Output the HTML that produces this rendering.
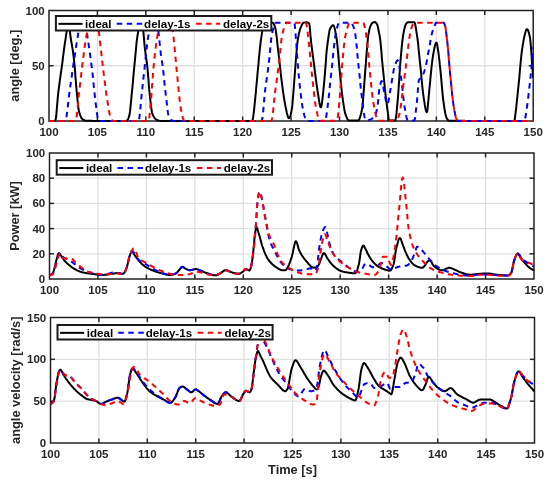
<!DOCTYPE html>
<html><head><meta charset="utf-8"><title>plot</title>
<style>
html,body{margin:0;padding:0;background:#fff;width:550px;height:485px;overflow:hidden}
svg{display:block}
text{font-family:"Liberation Sans", Arial, sans-serif;font-weight:bold;fill:#262626}
.tl{font-size:11.5px}
.yl{font-size:12.8px}
.lt{font-size:11.6px;fill:#000}
.grid{stroke:#e0e0e0;stroke-width:1.3}
.tk{stroke:#262626;stroke-width:1.5}
.box{fill:none;stroke:#222;stroke-width:1.5}
.leg{fill:#fff;stroke:#1a1a1a;stroke-width:2}
.c0{fill:none;stroke:#000;stroke-width:2;stroke-linejoin:round}
.c1{fill:none;stroke:#0000ff;stroke-width:2;stroke-dasharray:5.5 4.5;stroke-linejoin:round}
.c2{fill:none;stroke:#ff0000;stroke-width:2;stroke-dasharray:5.5 4.5;stroke-linejoin:round}
</style></head>
<body>
<svg width="550" height="485" viewBox="0 0 550 485">
<defs><clipPath id="clip0"><rect x="49.0" y="9.3" width="484.20" height="112.90"/></clipPath>
<clipPath id="clip1"><rect x="49.5" y="151.8" width="484.50" height="128.40"/></clipPath>
<clipPath id="clip2"><rect x="50.5" y="316.3" width="484.00" height="127.90"/></clipPath></defs>
<line x1="97.42" y1="10.5" x2="97.42" y2="121.0" class="grid"/>
<line x1="145.84" y1="10.5" x2="145.84" y2="121.0" class="grid"/>
<line x1="194.26" y1="10.5" x2="194.26" y2="121.0" class="grid"/>
<line x1="242.68" y1="10.5" x2="242.68" y2="121.0" class="grid"/>
<line x1="291.10" y1="10.5" x2="291.10" y2="121.0" class="grid"/>
<line x1="339.52" y1="10.5" x2="339.52" y2="121.0" class="grid"/>
<line x1="387.94" y1="10.5" x2="387.94" y2="121.0" class="grid"/>
<line x1="436.36" y1="10.5" x2="436.36" y2="121.0" class="grid"/>
<line x1="484.78" y1="10.5" x2="484.78" y2="121.0" class="grid"/>
<line x1="49.0" y1="65.75" x2="533.2" y2="65.75" class="grid"/>
<line x1="97.42" y1="121.0" x2="97.42" y2="116.5" class="tk"/>
<line x1="97.42" y1="10.5" x2="97.42" y2="15.0" class="tk"/>
<line x1="145.84" y1="121.0" x2="145.84" y2="116.5" class="tk"/>
<line x1="145.84" y1="10.5" x2="145.84" y2="15.0" class="tk"/>
<line x1="194.26" y1="121.0" x2="194.26" y2="116.5" class="tk"/>
<line x1="194.26" y1="10.5" x2="194.26" y2="15.0" class="tk"/>
<line x1="242.68" y1="121.0" x2="242.68" y2="116.5" class="tk"/>
<line x1="242.68" y1="10.5" x2="242.68" y2="15.0" class="tk"/>
<line x1="291.10" y1="121.0" x2="291.10" y2="116.5" class="tk"/>
<line x1="291.10" y1="10.5" x2="291.10" y2="15.0" class="tk"/>
<line x1="339.52" y1="121.0" x2="339.52" y2="116.5" class="tk"/>
<line x1="339.52" y1="10.5" x2="339.52" y2="15.0" class="tk"/>
<line x1="387.94" y1="121.0" x2="387.94" y2="116.5" class="tk"/>
<line x1="387.94" y1="10.5" x2="387.94" y2="15.0" class="tk"/>
<line x1="436.36" y1="121.0" x2="436.36" y2="116.5" class="tk"/>
<line x1="436.36" y1="10.5" x2="436.36" y2="15.0" class="tk"/>
<line x1="484.78" y1="121.0" x2="484.78" y2="116.5" class="tk"/>
<line x1="484.78" y1="10.5" x2="484.78" y2="15.0" class="tk"/>
<line x1="49.0" y1="65.75" x2="53.5" y2="65.75" class="tk"/>
<line x1="533.2" y1="65.75" x2="528.7" y2="65.75" class="tk"/>
<rect x="49.0" y="10.5" width="484.20" height="110.50" class="box"/>
<polyline points="49.0,121.0 49.4,121.0 49.8,121.0 50.2,121.0 50.5,121.0 50.9,121.0 51.3,121.0 51.7,121.0 52.1,121.0 52.5,121.0 52.9,121.0 53.3,121.0 53.6,121.0 54.0,121.0 54.4,120.9 54.8,120.7 55.2,120.5 55.6,119.8 56.0,117.6 56.4,114.3 56.7,110.1 57.1,105.5 57.5,100.8 57.9,96.4 58.3,92.5 58.7,89.4 59.1,86.4 59.5,83.5 59.8,80.7 60.2,77.9 60.6,75.2 61.0,72.4 61.4,69.7 61.8,66.9 62.2,63.9 62.6,61.0 62.9,57.9 63.3,54.8 63.7,51.8 64.1,48.8 64.5,45.9 64.9,43.2 65.3,40.6 65.7,38.0 66.0,35.5 66.4,33.1 66.8,30.7 67.2,28.0 67.6,25.4 68.0,23.6 68.4,23.0 68.8,22.7 69.1,22.8 69.5,23.2 69.9,30.4 70.3,34.8 70.7,38.0 71.1,40.5 71.5,42.7 71.9,44.7 72.2,46.7 72.6,49.0 73.0,51.8 73.4,54.9 73.8,58.1 74.2,61.6 74.6,65.4 75.0,69.8 75.3,74.7 75.7,79.9 76.1,84.8 76.5,89.3 76.9,93.4 77.3,97.6 77.7,101.6 78.1,105.3 78.4,108.3 78.8,110.5 79.2,112.0 79.6,113.4 80.0,114.6 80.4,115.7 80.8,116.6 81.2,117.5 81.5,118.1 81.9,118.7 82.3,119.1 82.7,119.4 83.1,119.6 83.5,119.8 83.9,120.0 84.2,120.2 84.6,120.3 85.0,120.5 85.4,120.6 85.8,120.7 86.2,120.7 86.6,120.8 87.0,120.8 87.3,120.8 87.7,120.8 88.1,120.8 88.5,120.8 88.9,120.8 89.3,120.8 89.7,120.8 90.1,120.8 90.4,120.8 90.8,120.8 91.2,120.8 91.6,120.8 92.0,120.8 92.4,120.9 92.8,120.9 93.2,120.9 93.5,120.9 93.9,120.9 94.3,120.9 94.7,120.9 95.1,120.9 95.5,120.9 95.9,120.9 96.3,120.9 96.6,120.9 97.0,120.9 97.4,120.9 97.8,120.9 98.2,120.9 98.6,120.9 99.0,120.9 99.4,120.9 99.7,120.9 100.1,120.9 100.5,120.9 100.9,120.9 101.3,120.9 101.7,120.9 102.1,120.9 102.5,120.9 102.8,120.9 103.2,120.9 103.6,120.9 104.0,121.0 104.4,121.0 104.8,121.0 105.2,121.0 105.6,121.0 105.9,121.0 106.3,121.0 106.7,121.0 107.1,121.0 107.5,121.0 107.9,121.0 108.3,121.0 108.7,121.0 109.0,121.0 109.4,121.0 109.8,121.0 110.2,121.0 110.6,121.0 111.0,121.0 111.4,121.0 111.8,121.0 112.1,121.0 112.5,121.0 112.9,121.0 113.3,121.0 113.7,121.0 114.1,121.0 114.5,121.0 114.9,121.0 115.2,121.0 115.6,121.0 116.0,121.0 116.4,121.0 116.8,121.0 117.2,121.0 117.6,121.0 118.0,121.0 118.3,121.0 118.7,121.0 119.1,121.0 119.5,121.0 119.9,121.0 120.3,121.0 120.7,121.0 121.0,121.0 121.4,121.0 121.8,121.0 122.2,121.0 122.6,121.0 123.0,121.0 123.4,121.0 123.8,121.0 124.1,121.0 124.5,121.0 124.9,121.0 125.3,121.0 125.7,121.0 126.1,121.0 126.5,120.9 126.9,120.6 127.2,120.3 127.6,119.9 128.0,119.2 128.4,118.3 128.8,117.2 129.2,115.9 129.6,114.3 130.0,111.9 130.3,108.7 130.7,105.1 131.1,101.0 131.5,96.7 131.9,92.5 132.3,88.4 132.7,84.4 133.1,80.3 133.4,76.1 133.8,71.9 134.2,67.7 134.6,63.6 135.0,59.4 135.4,55.1 135.8,50.9 136.2,46.9 136.5,43.2 136.9,39.9 137.3,37.0 137.7,34.4 138.1,32.1 138.5,30.0 138.9,27.8 139.3,25.7 139.6,24.1 140.0,23.2 140.4,22.9 140.8,22.7 141.2,22.7 141.6,22.9 142.0,23.2 142.4,24.4 142.7,26.9 143.1,29.9 143.5,33.2 143.9,37.6 144.3,42.5 144.7,46.9 145.1,50.3 145.5,53.2 145.8,55.8 146.2,58.4 146.6,61.0 147.0,64.0 147.4,67.5 147.8,71.7 148.2,76.4 148.6,81.3 148.9,86.1 149.3,90.5 149.7,94.3 150.1,97.9 150.5,101.5 150.9,104.9 151.3,108.0 151.7,110.6 152.0,112.5 152.4,113.7 152.8,114.7 153.2,115.6 153.6,116.4 154.0,117.1 154.4,117.7 154.7,118.2 155.1,118.7 155.5,119.0 155.9,119.3 156.3,119.6 156.7,119.8 157.1,120.0 157.5,120.1 157.8,120.3 158.2,120.5 158.6,120.6 159.0,120.7 159.4,120.8 159.8,120.9 160.2,121.0 160.6,121.0 160.9,121.0 161.3,121.0 161.7,121.0 162.1,121.0 162.5,121.0 162.9,121.0 163.3,121.0 163.7,121.0 164.0,121.0 164.4,121.0 164.8,121.0 165.2,121.0 165.6,121.0 166.0,121.0 166.4,121.0 166.8,121.0 167.1,121.0 167.5,121.0 167.9,121.0 168.3,121.0 168.7,121.0 169.1,121.0 169.5,121.0 169.9,121.0 170.2,121.0 170.6,121.0 171.0,121.0 171.4,121.0 171.8,121.0 172.2,121.0 172.6,121.0 173.0,121.0 173.3,121.0 173.7,121.0 174.1,121.0 174.5,121.0 174.9,121.0 175.3,121.0 175.7,121.0 176.1,121.0 176.4,121.0 176.8,121.0 177.2,121.0 177.6,121.0 178.0,121.0 178.4,121.0 178.8,121.0 179.2,121.0 179.5,121.0 179.9,121.0 180.3,121.0 180.7,121.0 181.1,121.0 181.5,121.0 181.9,121.0 182.3,121.0 182.6,121.0 183.0,121.0 183.4,121.0 183.8,121.0 184.2,121.0 184.6,121.0 185.0,121.0 185.4,121.0 185.7,121.0 186.1,121.0 186.5,121.0 186.9,121.0 187.3,121.0 187.7,121.0 188.1,121.0 188.4,121.0 188.8,121.0 189.2,121.0 189.6,121.0 190.0,121.0 190.4,121.0 190.8,121.0 191.2,121.0 191.5,121.0 191.9,121.0 192.3,121.0 192.7,121.0 193.1,121.0 193.5,121.0 193.9,121.0 194.3,121.0 194.6,121.0 195.0,121.0 195.4,121.0 195.8,121.0 196.2,121.0 196.6,121.0 197.0,121.0 197.4,121.0 197.7,121.0 198.1,121.0 198.5,121.0 198.9,121.0 199.3,121.0 199.7,121.0 200.1,121.0 200.5,121.0 200.8,121.0 201.2,121.0 201.6,121.0 202.0,121.0 202.4,121.0 202.8,121.0 203.2,121.0 203.6,121.0 203.9,121.0 204.3,121.0 204.7,121.0 205.1,121.0 205.5,121.0 205.9,121.0 206.3,121.0 206.7,121.0 207.0,121.0 207.4,121.0 207.8,121.0 208.2,121.0 208.6,121.0 209.0,121.0 209.4,121.0 209.8,121.0 210.1,121.0 210.5,121.0 210.9,121.0 211.3,121.0 211.7,121.0 212.1,121.0 212.5,121.0 212.9,121.0 213.2,121.0 213.6,121.0 214.0,121.0 214.4,121.0 214.8,121.0 215.2,121.0 215.6,121.0 216.0,121.0 216.3,121.0 216.7,121.0 217.1,121.0 217.5,121.0 217.9,121.0 218.3,121.0 218.7,121.0 219.1,121.0 219.4,121.0 219.8,121.0 220.2,121.0 220.6,121.0 221.0,121.0 221.4,121.0 221.8,121.0 222.1,121.0 222.5,121.0 222.9,121.0 223.3,121.0 223.7,121.0 224.1,121.0 224.5,121.0 224.9,121.0 225.2,121.0 225.6,121.0 226.0,121.0 226.4,121.0 226.8,121.0 227.2,121.0 227.6,121.0 228.0,121.0 228.3,121.0 228.7,121.0 229.1,121.0 229.5,121.0 229.9,121.0 230.3,121.0 230.7,121.0 231.1,121.0 231.4,121.0 231.8,121.0 232.2,121.0 232.6,121.0 233.0,121.0 233.4,121.0 233.8,121.0 234.2,121.0 234.5,121.0 234.9,121.0 235.3,121.0 235.7,121.0 236.1,121.0 236.5,121.0 236.9,121.0 237.3,121.0 237.6,121.0 238.0,121.0 238.4,121.0 238.8,121.0 239.2,121.0 239.6,121.0 240.0,121.0 240.4,121.0 240.7,121.0 241.1,121.0 241.5,121.0 241.9,121.0 242.3,121.0 242.7,121.0 243.1,121.0 243.5,121.0 243.8,121.0 244.2,121.0 244.6,121.0 245.0,121.0 245.4,121.0 245.8,121.0 246.2,121.0 246.6,121.0 246.9,121.0 247.3,121.0 247.7,121.0 248.1,121.0 248.5,121.0 248.9,121.0 249.3,121.0 249.7,121.0 250.0,121.0 250.4,121.0 250.8,121.0 251.2,120.9 251.6,120.8 252.0,120.6 252.4,120.4 252.8,119.4 253.1,117.4 253.5,114.7 253.9,111.4 254.3,107.7 254.7,103.7 255.1,99.6 255.5,95.6 255.9,91.8 256.2,88.0 256.6,83.8 257.0,79.5 257.4,75.0 257.8,70.7 258.2,66.5 258.6,62.6 258.9,58.6 259.3,54.6 259.7,50.6 260.1,46.9 260.5,43.3 260.9,40.1 261.3,37.3 261.7,34.8 262.0,32.4 262.4,30.2 262.8,28.1 263.2,26.5 263.6,25.3 264.0,24.5 264.4,23.9 264.8,23.4 265.1,23.0 265.5,22.8 265.9,22.7 266.3,22.7 266.7,22.7 267.1,22.7 267.5,22.7 267.9,22.7 268.2,22.7 268.6,22.7 269.0,22.7 269.4,22.7 269.8,22.7 270.2,22.7 270.6,22.7 271.0,22.7 271.3,22.7 271.7,22.7 272.1,22.7 272.5,22.7 272.9,22.7 273.3,23.2 273.7,23.8 274.1,24.4 274.4,25.2 274.8,26.3 275.2,27.5 275.6,29.5 276.0,32.0 276.4,35.0 276.8,38.2 277.2,41.5 277.5,44.7 277.9,47.9 278.3,51.4 278.7,55.0 279.1,58.6 279.5,62.1 279.9,65.5 280.3,68.8 280.6,72.2 281.0,75.5 281.4,78.8 281.8,82.0 282.2,85.2 282.6,88.1 283.0,91.0 283.4,93.6 283.7,96.1 284.1,98.5 284.5,100.9 284.9,103.2 285.3,105.4 285.7,107.4 286.1,109.3 286.5,111.1 286.8,112.7 287.2,114.1 287.6,115.6 288.0,116.9 288.4,117.9 288.8,118.2 289.2,118.1 289.6,117.6 289.9,116.9 290.3,116.1 290.7,114.8 291.1,113.1 291.5,111.0 291.9,108.6 292.3,105.7 292.6,101.9 293.0,97.5 293.4,92.6 293.8,87.4 294.2,82.0 294.6,76.6 295.0,71.5 295.4,66.7 295.7,62.1 296.1,57.3 296.5,52.4 296.9,47.8 297.3,43.7 297.7,40.4 298.1,38.0 298.5,36.0 298.8,34.1 299.2,32.4 299.6,30.9 300.0,29.6 300.4,28.3 300.8,27.3 301.2,26.4 301.6,25.6 301.9,24.8 302.3,24.1 302.7,23.5 303.1,23.0 303.5,22.7 303.9,22.6 304.3,22.5 304.7,22.5 305.0,22.4 305.4,22.4 305.8,22.3 306.2,22.3 306.6,22.3 307.0,22.3 307.4,22.4 307.8,22.6 308.1,22.8 308.5,23.0 308.9,23.4 309.3,23.8 309.7,26.1 310.1,30.9 310.5,35.7 310.9,39.3 311.2,42.7 311.6,45.9 312.0,49.1 312.4,52.2 312.8,55.2 313.2,58.1 313.6,61.1 314.0,64.0 314.3,67.0 314.7,70.0 315.1,73.1 315.5,76.1 315.9,79.1 316.3,82.0 316.7,84.8 317.1,87.5 317.4,90.0 317.8,92.4 318.2,94.9 318.6,97.5 319.0,100.1 319.4,102.5 319.8,104.6 320.2,106.2 320.5,107.2 320.9,107.4 321.3,106.5 321.7,104.6 322.1,101.9 322.5,98.7 322.9,95.1 323.3,91.4 323.6,87.8 324.0,84.2 324.4,79.9 324.8,75.2 325.2,70.1 325.6,64.9 326.0,59.8 326.3,55.0 326.7,50.7 327.1,47.1 327.5,44.0 327.9,41.1 328.3,38.2 328.7,35.5 329.1,33.1 329.4,31.1 329.8,29.5 330.2,28.4 330.6,27.7 331.0,27.1 331.4,26.5 331.8,26.1 332.2,25.7 332.5,25.4 332.9,25.2 333.3,25.2 333.7,25.6 334.1,26.5 334.5,27.7 334.9,29.3 335.3,31.1 335.6,33.0 336.0,35.1 336.4,37.2 336.8,40.0 337.2,43.4 337.6,47.4 338.0,51.7 338.4,56.1 338.7,60.4 339.1,64.6 339.5,68.5 339.9,72.5 340.3,76.6 340.7,80.7 341.1,84.7 341.5,88.5 341.8,91.9 342.2,95.0 342.6,97.9 343.0,100.8 343.4,103.6 343.8,106.2 344.2,108.6 344.6,110.7 344.9,112.4 345.3,113.7 345.7,114.8 346.1,115.9 346.5,116.9 346.9,117.9 347.3,118.7 347.7,119.4 348.0,119.9 348.4,120.3 348.8,120.4 349.2,120.4 349.6,120.4 350.0,120.4 350.4,120.4 350.8,120.4 351.1,120.4 351.5,120.4 351.9,120.4 352.3,120.4 352.7,120.4 353.1,120.4 353.5,120.4 353.9,120.4 354.2,120.4 354.6,120.4 355.0,120.4 355.4,120.4 355.8,120.4 356.2,120.4 356.6,120.4 357.0,120.4 357.3,120.4 357.7,120.4 358.1,120.4 358.5,120.4 358.9,120.1 359.3,119.3 359.7,118.2 360.1,117.2 360.4,116.0 360.8,114.6 361.2,113.0 361.6,111.2 362.0,109.2 362.4,106.6 362.8,103.2 363.1,99.0 363.5,94.2 363.9,89.0 364.3,83.6 364.7,78.1 365.1,72.8 365.5,67.8 365.9,63.2 366.2,58.4 366.6,53.4 367.0,48.5 367.4,43.8 367.8,39.7 368.2,36.2 368.6,33.7 369.0,31.6 369.3,29.8 369.7,28.3 370.1,27.0 370.5,26.0 370.9,25.1 371.3,24.3 371.7,23.7 372.1,23.2 372.4,22.9 372.8,22.7 373.2,22.5 373.6,22.3 374.0,22.2 374.4,22.1 374.8,22.1 375.2,22.1 375.5,22.4 375.9,22.7 376.3,23.1 376.7,23.7 377.1,24.3 377.5,25.4 377.9,27.1 378.3,29.0 378.6,30.8 379.0,32.6 379.4,34.4 379.8,36.7 380.2,39.6 380.6,43.1 381.0,47.2 381.4,51.5 381.7,55.9 382.1,60.4 382.5,64.5 382.9,68.5 383.3,72.4 383.7,76.4 384.1,80.4 384.5,84.3 384.8,88.0 385.2,91.7 385.6,95.1 386.0,98.5 386.4,101.7 386.8,104.9 387.2,107.9 387.6,110.8 387.9,113.4 388.3,116.2 388.7,118.9 389.1,120.4 389.5,120.4 389.9,120.4 390.3,120.4 390.7,120.4 391.0,120.4 391.4,120.4 391.8,120.4 392.2,120.4 392.6,120.4 393.0,120.4 393.4,120.4 393.8,120.4 394.1,120.4 394.5,120.4 394.9,120.4 395.3,120.4 395.7,119.2 396.1,116.8 396.5,113.5 396.8,109.7 397.2,105.7 397.6,101.7 398.0,96.9 398.4,91.4 398.8,85.4 399.2,79.3 399.6,73.4 399.9,67.9 400.3,63.2 400.7,58.5 401.1,53.9 401.5,49.5 401.9,45.4 402.3,41.7 402.7,38.6 403.0,36.1 403.4,33.9 403.8,31.8 404.2,29.9 404.6,28.1 405.0,26.6 405.4,25.4 405.8,24.4 406.1,23.8 406.5,23.3 406.9,22.9 407.3,22.6 407.7,22.4 408.1,22.2 408.5,22.2 408.9,22.2 409.2,22.2 409.6,22.2 410.0,22.2 410.4,22.2 410.8,22.2 411.2,22.2 411.6,22.2 412.0,22.2 412.3,22.2 412.7,22.2 413.1,22.2 413.5,22.2 413.9,22.2 414.3,22.2 414.7,22.6 415.1,23.8 415.4,25.5 415.8,27.7 416.2,30.1 416.6,32.8 417.0,35.4 417.4,38.0 417.8,41.0 418.2,44.4 418.5,48.1 418.9,52.0 419.3,55.9 419.7,59.9 420.1,63.7 420.5,67.4 420.9,71.2 421.3,75.2 421.6,79.2 422.0,83.3 422.4,87.1 422.8,90.8 423.2,94.1 423.6,97.1 424.0,99.6 424.4,102.0 424.7,104.4 425.1,106.7 425.5,108.8 425.9,110.4 426.3,111.6 426.7,112.1 427.1,111.7 427.5,109.6 427.8,106.3 428.2,102.2 428.6,97.7 429.0,93.1 429.4,88.8 429.8,85.2 430.2,81.4 430.5,77.4 430.9,73.4 431.3,69.4 431.7,65.7 432.1,62.1 432.5,59.1 432.9,56.5 433.3,54.3 433.6,52.2 434.0,50.1 434.4,48.1 434.8,46.3 435.2,44.8 435.6,43.7 436.0,42.9 436.4,42.7 436.7,43.1 437.1,44.4 437.5,46.3 437.9,48.8 438.3,51.7 438.7,54.8 439.1,58.1 439.5,61.5 439.8,64.7 440.2,68.0 440.6,71.9 441.0,76.2 441.4,80.7 441.8,85.3 442.2,89.8 442.6,93.9 442.9,97.5 443.3,100.5 443.7,103.3 444.1,106.2 444.5,108.8 444.9,111.3 445.3,113.4 445.7,115.2 446.0,116.5 446.4,117.4 446.8,118.2 447.2,118.9 447.6,119.6 448.0,120.1 448.4,120.4 448.8,120.6 449.1,120.7 449.5,120.7 449.9,120.7 450.3,120.7 450.7,120.7 451.1,120.7 451.5,120.7 451.9,120.7 452.2,120.7 452.6,120.7 453.0,120.7 453.4,120.7 453.8,120.7 454.2,120.7 454.6,120.7 455.0,120.7 455.3,120.8 455.7,120.8 456.1,120.8 456.5,120.8 456.9,120.8 457.3,120.8 457.7,120.8 458.1,120.8 458.4,120.8 458.8,120.8 459.2,120.8 459.6,120.8 460.0,120.8 460.4,120.8 460.8,120.8 461.2,120.8 461.5,120.8 461.9,120.8 462.3,120.8 462.7,120.8 463.1,120.8 463.5,120.8 463.9,120.8 464.2,120.8 464.6,120.8 465.0,120.9 465.4,120.9 465.8,120.9 466.2,120.9 466.6,120.9 467.0,120.9 467.3,120.9 467.7,120.9 468.1,120.9 468.5,120.9 468.9,120.9 469.3,120.9 469.7,120.9 470.1,120.9 470.4,120.9 470.8,120.9 471.2,120.9 471.6,120.9 472.0,120.9 472.4,120.9 472.8,120.9 473.2,120.9 473.5,120.9 473.9,120.9 474.3,120.9 474.7,120.9 475.1,120.9 475.5,120.9 475.9,120.9 476.3,120.9 476.6,120.9 477.0,120.9 477.4,120.9 477.8,120.9 478.2,120.9 478.6,120.9 479.0,120.9 479.4,120.9 479.7,120.9 480.1,120.9 480.5,120.9 480.9,120.9 481.3,121.0 481.7,121.0 482.1,121.0 482.5,121.0 482.8,121.0 483.2,121.0 483.6,121.0 484.0,121.0 484.4,121.0 484.8,121.0 485.2,121.0 485.6,121.0 485.9,121.0 486.3,121.0 486.7,121.0 487.1,121.0 487.5,121.0 487.9,121.0 488.3,121.0 488.7,121.0 489.0,121.0 489.4,121.0 489.8,121.0 490.2,121.0 490.6,121.0 491.0,121.0 491.4,121.0 491.8,121.0 492.1,121.0 492.5,121.0 492.9,121.0 493.3,121.0 493.7,121.0 494.1,121.0 494.5,121.0 494.9,121.0 495.2,121.0 495.6,121.0 496.0,121.0 496.4,121.0 496.8,121.0 497.2,121.0 497.6,121.0 498.0,121.0 498.3,121.0 498.7,121.0 499.1,121.0 499.5,121.0 499.9,121.0 500.3,121.0 500.7,121.0 501.0,121.0 501.4,121.0 501.8,121.0 502.2,121.0 502.6,121.0 503.0,121.0 503.4,121.0 503.8,121.0 504.1,121.0 504.5,121.0 504.9,121.0 505.3,121.0 505.7,121.0 506.1,121.0 506.5,121.0 506.9,121.0 507.2,121.0 507.6,121.0 508.0,121.0 508.4,121.0 508.8,121.0 509.2,121.0 509.6,121.0 510.0,121.0 510.3,121.0 510.7,121.0 511.1,121.0 511.5,121.0 511.9,121.0 512.3,121.0 512.7,121.0 513.1,121.0 513.4,121.0 513.8,121.0 514.2,121.0 514.6,120.2 515.0,117.5 515.4,114.1 515.8,111.1 516.2,107.9 516.5,104.5 516.9,100.9 517.3,97.1 517.7,93.3 518.1,89.5 518.5,85.6 518.9,81.8 519.3,78.0 519.6,73.8 520.0,69.5 520.4,65.1 520.8,60.8 521.2,56.8 521.6,53.1 522.0,50.1 522.4,47.7 522.7,45.4 523.1,43.1 523.5,40.9 523.9,38.8 524.3,36.8 524.7,35.0 525.1,33.3 525.5,31.9 525.8,30.8 526.2,29.9 526.6,29.4 527.0,29.2 527.4,29.4 527.8,29.9 528.2,30.7 528.6,31.8 528.9,33.1 529.3,34.6 529.7,36.3 530.1,38.4 530.5,42.1 530.9,46.7 531.3,52.0 531.7,57.6 532.0,63.0 532.4,68.0 532.8,73.0 533.2,78.0" class="c0" clip-path="url(#clip0)"/>
<polyline points="49.0,121.0 49.4,121.0 49.8,121.0 50.2,121.0 50.5,121.0 50.9,121.0 51.3,121.0 51.7,121.0 52.1,121.0 52.5,121.0 52.9,121.0 53.3,121.0 53.6,121.0 54.0,121.0 54.4,121.0 54.8,121.0 55.2,121.0 55.6,121.0 56.0,121.0 56.4,121.0 56.7,121.0 57.1,121.0 57.5,121.0 57.9,121.0 58.3,121.0 58.7,121.0 59.1,121.0 59.5,121.0 59.8,121.0 60.2,121.0 60.6,121.0 61.0,121.0 61.4,121.0 61.8,121.0 62.2,121.0 62.6,121.0 62.9,121.0 63.3,121.0 63.7,121.0 64.1,121.0 64.5,120.9 64.9,120.8 65.3,120.6 65.7,120.2 66.0,119.1 66.4,117.2 66.8,114.6 67.2,111.6 67.6,108.3 68.0,104.9 68.4,101.3 68.8,97.9 69.1,94.8 69.5,92.0 69.9,89.2 70.3,86.4 70.7,83.6 71.1,80.8 71.5,78.0 71.9,75.3 72.2,72.5 72.6,69.8 73.0,67.1 73.4,64.4 73.8,61.8 74.2,59.2 74.6,56.6 75.0,54.1 75.3,51.5 75.7,49.0 76.1,46.5 76.5,44.1 76.9,41.7 77.3,39.3 77.7,36.9 78.1,34.2 78.4,31.3 78.8,28.6 79.2,26.3 79.6,24.6 80.0,23.8 80.4,23.5 80.8,23.3 81.2,23.1 81.5,22.9 81.9,22.8 82.3,22.7 82.7,22.7 83.1,22.7 83.5,22.7 83.9,22.8 84.2,22.9 84.6,23.0 85.0,23.2 85.4,23.5 85.8,23.8 86.2,25.3 86.6,28.5 87.0,32.3 87.3,35.5 87.7,38.3 88.1,41.1 88.5,43.7 88.9,46.4 89.3,49.0 89.7,51.7 90.1,54.4 90.4,57.1 90.8,59.9 91.2,62.8 91.6,65.8 92.0,68.9 92.4,72.3 92.8,75.8 93.2,79.5 93.5,83.3 93.9,87.1 94.3,90.9 94.7,94.6 95.1,98.2 95.5,101.7 95.9,105.0 96.3,108.1 96.6,110.9 97.0,113.5 97.4,116.2 97.8,118.6 98.2,120.1 98.6,120.5 99.0,120.7 99.4,120.9 99.7,120.9 100.1,121.0 100.5,121.0 100.9,121.0 101.3,121.0 101.7,121.0 102.1,121.0 102.5,121.0 102.8,121.0 103.2,121.0 103.6,121.0 104.0,121.0 104.4,121.0 104.8,121.0 105.2,121.0 105.6,121.0 105.9,121.0 106.3,121.0 106.7,121.0 107.1,121.0 107.5,121.0 107.9,121.0 108.3,121.0 108.7,121.0 109.0,121.0 109.4,121.0 109.8,121.0 110.2,121.0 110.6,121.0 111.0,121.0 111.4,121.0 111.8,121.0 112.1,121.0 112.5,121.0 112.9,121.0 113.3,121.0 113.7,121.0 114.1,121.0 114.5,121.0 114.9,121.0 115.2,121.0 115.6,121.0 116.0,121.0 116.4,121.0 116.8,121.0 117.2,121.0 117.6,121.0 118.0,121.0 118.3,121.0 118.7,121.0 119.1,121.0 119.5,121.0 119.9,121.0 120.3,121.0 120.7,121.0 121.0,121.0 121.4,121.0 121.8,121.0 122.2,121.0 122.6,121.0 123.0,121.0 123.4,121.0 123.8,121.0 124.1,121.0 124.5,121.0 124.9,121.0 125.3,121.0 125.7,121.0 126.1,121.0 126.5,121.0 126.9,121.0 127.2,121.0 127.6,121.0 128.0,121.0 128.4,121.0 128.8,121.0 129.2,121.0 129.6,121.0 130.0,121.0 130.3,121.0 130.7,121.0 131.1,121.0 131.5,121.0 131.9,121.0 132.3,121.0 132.7,121.0 133.1,121.0 133.4,121.0 133.8,121.0 134.2,121.0 134.6,121.0 135.0,121.0 135.4,121.0 135.8,121.0 136.2,121.0 136.5,121.0 136.9,121.0 137.3,121.0 137.7,120.9 138.1,120.7 138.5,120.4 138.9,120.0 139.3,118.5 139.6,115.9 140.0,112.3 140.4,108.2 140.8,103.8 141.2,99.3 141.6,95.2 142.0,91.6 142.4,88.1 142.7,84.5 143.1,80.9 143.5,77.4 143.9,73.8 144.3,70.2 144.7,66.6 145.1,63.1 145.5,59.4 145.8,55.7 146.2,52.2 146.6,48.9 147.0,45.7 147.4,42.6 147.8,39.6 148.2,36.9 148.6,34.5 148.9,32.3 149.3,30.1 149.7,27.9 150.1,26.0 150.5,24.5 150.9,23.5 151.3,23.2 151.7,23.1 152.0,23.0 152.4,22.9 152.8,22.9 153.2,22.8 153.6,22.8 154.0,22.7 154.4,22.7 154.7,22.7 155.1,22.7 155.5,22.7 155.9,22.8 156.3,23.3 156.7,24.0 157.1,24.9 157.5,26.0 157.8,27.7 158.2,30.4 158.6,33.3 159.0,36.7 159.4,40.6 159.8,44.6 160.2,48.4 160.6,51.8 160.9,54.7 161.3,57.3 161.7,59.8 162.1,62.3 162.5,65.0 162.9,68.1 163.3,71.4 163.7,74.9 164.0,78.6 164.4,82.3 164.8,86.1 165.2,89.7 165.6,93.2 166.0,96.6 166.4,99.8 166.8,103.2 167.1,106.6 167.5,109.8 167.9,112.5 168.3,114.5 168.7,115.7 169.1,116.6 169.5,117.5 169.9,118.2 170.2,118.8 170.6,119.3 171.0,119.8 171.4,120.1 171.8,120.3 172.2,120.5 172.6,120.7 173.0,120.8 173.3,120.9 173.7,121.0 174.1,121.0 174.5,121.0 174.9,121.0 175.3,121.0 175.7,121.0 176.1,121.0 176.4,121.0 176.8,121.0 177.2,121.0 177.6,121.0 178.0,121.0 178.4,121.0 178.8,121.0 179.2,121.0 179.5,121.0 179.9,121.0 180.3,121.0 180.7,121.0 181.1,121.0 181.5,121.0 181.9,121.0 182.3,121.0 182.6,121.0 183.0,121.0 183.4,121.0 183.8,121.0 184.2,121.0 184.6,121.0 185.0,121.0 185.4,121.0 185.7,121.0 186.1,121.0 186.5,121.0 186.9,121.0 187.3,121.0 187.7,121.0 188.1,121.0 188.4,121.0 188.8,121.0 189.2,121.0 189.6,121.0 190.0,121.0 190.4,121.0 190.8,121.0 191.2,121.0 191.5,121.0 191.9,121.0 192.3,121.0 192.7,121.0 193.1,121.0 193.5,121.0 193.9,121.0 194.3,121.0 194.6,121.0 195.0,121.0 195.4,121.0 195.8,121.0 196.2,121.0 196.6,121.0 197.0,121.0 197.4,121.0 197.7,121.0 198.1,121.0 198.5,121.0 198.9,121.0 199.3,121.0 199.7,121.0 200.1,121.0 200.5,121.0 200.8,121.0 201.2,121.0 201.6,121.0 202.0,121.0 202.4,121.0 202.8,121.0 203.2,121.0 203.6,121.0 203.9,121.0 204.3,121.0 204.7,121.0 205.1,121.0 205.5,121.0 205.9,121.0 206.3,121.0 206.7,121.0 207.0,121.0 207.4,121.0 207.8,121.0 208.2,121.0 208.6,121.0 209.0,121.0 209.4,121.0 209.8,121.0 210.1,121.0 210.5,121.0 210.9,121.0 211.3,121.0 211.7,121.0 212.1,121.0 212.5,121.0 212.9,121.0 213.2,121.0 213.6,121.0 214.0,121.0 214.4,121.0 214.8,121.0 215.2,121.0 215.6,121.0 216.0,121.0 216.3,121.0 216.7,121.0 217.1,121.0 217.5,121.0 217.9,121.0 218.3,121.0 218.7,121.0 219.1,121.0 219.4,121.0 219.8,121.0 220.2,121.0 220.6,121.0 221.0,121.0 221.4,121.0 221.8,121.0 222.1,121.0 222.5,121.0 222.9,121.0 223.3,121.0 223.7,121.0 224.1,121.0 224.5,121.0 224.9,121.0 225.2,121.0 225.6,121.0 226.0,121.0 226.4,121.0 226.8,121.0 227.2,121.0 227.6,121.0 228.0,121.0 228.3,121.0 228.7,121.0 229.1,121.0 229.5,121.0 229.9,121.0 230.3,121.0 230.7,121.0 231.1,121.0 231.4,121.0 231.8,121.0 232.2,121.0 232.6,121.0 233.0,121.0 233.4,121.0 233.8,121.0 234.2,121.0 234.5,121.0 234.9,121.0 235.3,121.0 235.7,121.0 236.1,121.0 236.5,121.0 236.9,121.0 237.3,121.0 237.6,121.0 238.0,121.0 238.4,121.0 238.8,121.0 239.2,121.0 239.6,121.0 240.0,121.0 240.4,121.0 240.7,121.0 241.1,121.0 241.5,121.0 241.9,121.0 242.3,121.0 242.7,121.0 243.1,121.0 243.5,121.0 243.8,121.0 244.2,121.0 244.6,121.0 245.0,121.0 245.4,121.0 245.8,121.0 246.2,121.0 246.6,121.0 246.9,121.0 247.3,121.0 247.7,121.0 248.1,121.0 248.5,121.0 248.9,121.0 249.3,121.0 249.7,121.0 250.0,121.0 250.4,121.0 250.8,121.0 251.2,121.0 251.6,121.0 252.0,121.0 252.4,121.0 252.8,121.0 253.1,121.0 253.5,121.0 253.9,121.0 254.3,121.0 254.7,121.0 255.1,121.0 255.5,121.0 255.9,121.0 256.2,121.0 256.6,121.0 257.0,121.0 257.4,121.0 257.8,121.0 258.2,121.0 258.6,121.0 258.9,121.0 259.3,121.0 259.7,121.0 260.1,121.0 260.5,121.0 260.9,120.9 261.3,120.7 261.7,120.6 262.0,120.1 262.4,118.3 262.8,115.3 263.2,111.3 263.6,106.8 264.0,102.1 264.4,97.6 264.8,93.5 265.1,90.3 265.5,87.3 265.9,84.4 266.3,81.7 266.7,79.0 267.1,76.3 267.5,73.6 267.9,70.8 268.2,67.8 268.6,64.7 269.0,61.2 269.4,57.3 269.8,53.1 270.2,49.0 270.6,45.0 271.0,41.2 271.3,37.9 271.7,35.3 272.1,33.3 272.5,31.6 272.9,30.0 273.3,28.5 273.7,27.1 274.1,26.0 274.4,25.0 274.8,24.2 275.2,23.6 275.6,23.1 276.0,22.8 276.4,22.7 276.8,22.7 277.2,22.7 277.5,22.7 277.9,22.7 278.3,22.7 278.7,22.7 279.1,22.7 279.5,22.7 279.9,22.7 280.3,22.7 280.6,22.7 281.0,22.7 281.4,22.7 281.8,22.7 282.2,22.7 282.6,22.7 283.0,22.7 283.4,22.7 283.7,22.7 284.1,22.7 284.5,22.7 284.9,22.7 285.3,22.7 285.7,22.7 286.1,22.7 286.5,22.7 286.8,22.7 287.2,22.7 287.6,22.7 288.0,22.7 288.4,22.7 288.8,22.7 289.2,22.7 289.6,22.7 289.9,22.7 290.3,22.7 290.7,22.7 291.1,22.7 291.5,22.7 291.9,22.7 292.3,22.7 292.6,22.7 293.0,22.7 293.4,22.7 293.8,22.7 294.2,22.7 294.6,23.6 295.0,27.2 295.4,31.6 295.7,35.9 296.1,40.9 296.5,46.5 296.9,52.3 297.3,58.0 297.7,63.2 298.1,67.7 298.5,72.0 298.8,76.2 299.2,80.2 299.6,84.1 300.0,87.8 300.4,91.3 300.8,94.5 301.2,97.6 301.6,100.4 301.9,103.1 302.3,105.7 302.7,108.1 303.1,110.3 303.5,112.2 303.9,113.7 304.3,115.2 304.7,116.5 305.0,117.8 305.4,118.8 305.8,119.5 306.2,120.0 306.6,120.3 307.0,120.6 307.4,120.8 307.8,120.9 308.1,121.0 308.5,121.0 308.9,121.0 309.3,121.0 309.7,121.0 310.1,121.0 310.5,121.0 310.9,121.0 311.2,121.0 311.6,121.0 312.0,121.0 312.4,121.0 312.8,121.0 313.2,121.0 313.6,121.0 314.0,121.0 314.3,121.0 314.7,121.0 315.1,121.0 315.5,121.0 315.9,121.0 316.3,121.0 316.7,121.0 317.1,121.0 317.4,121.0 317.8,121.0 318.2,121.0 318.6,121.0 319.0,121.0 319.4,121.0 319.8,121.0 320.2,121.0 320.5,121.0 320.9,121.0 321.3,121.0 321.7,121.0 322.1,121.0 322.5,121.0 322.9,121.0 323.3,121.0 323.6,121.0 324.0,121.0 324.4,121.0 324.8,121.0 325.2,120.8 325.6,119.8 326.0,118.0 326.3,116.0 326.7,113.8 327.1,111.0 327.5,107.7 327.9,104.2 328.3,100.7 328.7,97.3 329.1,93.9 329.4,90.3 329.8,86.6 330.2,82.9 330.6,79.2 331.0,75.5 331.4,71.8 331.8,68.2 332.2,64.6 332.5,61.0 332.9,57.1 333.3,53.2 333.7,49.4 334.1,45.7 334.5,42.2 334.9,39.1 335.3,36.4 335.6,34.3 336.0,32.4 336.4,30.6 336.8,28.9 337.2,27.3 337.6,25.8 338.0,24.6 338.4,23.6 338.7,23.0 339.1,22.7 339.5,22.7 339.9,22.7 340.3,22.7 340.7,22.7 341.1,22.7 341.5,22.7 341.8,22.7 342.2,22.7 342.6,22.7 343.0,22.7 343.4,22.7 343.8,22.7 344.2,22.7 344.6,22.7 344.9,22.7 345.3,22.7 345.7,22.7 346.1,22.7 346.5,22.7 346.9,22.7 347.3,22.7 347.7,22.7 348.0,22.7 348.4,22.7 348.8,22.7 349.2,22.7 349.6,22.7 350.0,22.7 350.4,22.7 350.8,22.7 351.1,22.7 351.5,22.8 351.9,23.4 352.3,24.2 352.7,25.1 353.1,25.9 353.5,26.9 353.9,28.0 354.2,29.3 354.6,30.8 355.0,32.5 355.4,34.8 355.8,37.8 356.2,41.2 356.6,45.1 357.0,49.2 357.3,53.4 357.7,57.7 358.1,61.7 358.5,65.5 358.9,69.2 359.3,73.0 359.7,76.8 360.1,80.7 360.4,84.5 360.8,88.2 361.2,91.7 361.6,95.1 362.0,98.3 362.4,101.3 362.8,104.5 363.1,107.7 363.5,110.7 363.9,113.5 364.3,115.9 364.7,117.8 365.1,119.0 365.5,119.5 365.9,120.0 366.2,120.3 366.6,120.4 367.0,120.4 367.4,120.4 367.8,120.4 368.2,120.3 368.6,120.2 369.0,120.1 369.3,120.0 369.7,119.9 370.1,119.7 370.5,119.5 370.9,119.3 371.3,119.1 371.7,118.9 372.1,118.6 372.4,118.3 372.8,118.0 373.2,117.7 373.6,117.3 374.0,117.0 374.4,116.6 374.8,116.1 375.2,115.7 375.5,115.2 375.9,114.0 376.3,112.4 376.7,110.3 377.1,108.0 377.5,105.6 377.9,103.1 378.3,99.8 378.6,95.9 379.0,92.0 379.4,88.7 379.8,86.5 380.2,84.9 380.6,83.4 381.0,82.1 381.4,81.3 381.7,81.0 382.1,81.5 382.5,82.8 382.9,84.8 383.3,87.1 383.7,89.5 384.1,91.8 384.5,93.8 384.8,95.6 385.2,97.4 385.6,99.4 386.0,101.2 386.4,102.7 386.8,103.9 387.2,104.4 387.6,104.2 387.9,103.3 388.3,101.9 388.7,99.9 389.1,97.7 389.5,95.3 389.9,92.8 390.3,90.3 390.7,88.0 391.0,85.9 391.4,83.7 391.8,81.3 392.2,78.9 392.6,76.4 393.0,73.9 393.4,71.7 393.8,69.6 394.1,67.8 394.5,66.3 394.9,65.2 395.3,64.2 395.7,63.3 396.1,62.4 396.5,61.6 396.8,61.0 397.2,60.5 397.6,60.3 398.0,60.4 398.4,61.3 398.8,63.0 399.2,65.2 399.6,67.5 399.9,69.9 400.3,72.3 400.7,75.0 401.1,78.1 401.5,81.3 401.9,84.5 402.3,87.7 402.7,90.9 403.0,94.2 403.4,97.6 403.8,100.9 404.2,104.1 404.6,106.9 405.0,109.2 405.4,111.3 405.8,113.5 406.1,115.6 406.5,117.4 406.9,118.9 407.3,119.9 407.7,120.4 408.1,120.4 408.5,120.4 408.9,120.4 409.2,120.4 409.6,120.4 410.0,120.4 410.4,120.4 410.8,120.4 411.2,120.4 411.6,120.4 412.0,120.4 412.3,120.4 412.7,120.4 413.1,120.4 413.5,120.4 413.9,120.4 414.3,120.4 414.7,119.7 415.1,117.8 415.4,115.0 415.8,111.6 416.2,108.1 416.6,104.6 417.0,101.0 417.4,96.3 417.8,91.2 418.2,86.4 418.5,82.5 418.9,80.1 419.3,79.4 419.7,79.0 420.1,78.6 420.5,78.4 420.9,78.1 421.3,77.7 421.6,77.2 422.0,76.6 422.4,75.9 422.8,75.1 423.2,74.2 423.6,73.3 424.0,72.2 424.4,71.1 424.7,70.0 425.1,68.7 425.5,67.3 425.9,65.6 426.3,63.7 426.7,61.7 427.1,59.6 427.5,57.4 427.8,55.2 428.2,53.1 428.6,51.1 429.0,49.0 429.4,46.9 429.8,44.7 430.2,42.5 430.5,40.3 430.9,38.2 431.3,36.2 431.7,34.4 432.1,32.8 432.5,31.4 432.9,30.2 433.3,29.0 433.6,28.0 434.0,27.0 434.4,26.1 434.8,25.1 435.2,24.2 435.6,23.2 436.0,22.7 436.4,22.7 436.7,22.7 437.1,22.7 437.5,22.7 437.9,22.7 438.3,22.7 438.7,22.7 439.1,22.7 439.5,22.7 439.8,22.7 440.2,22.7 440.6,22.7 441.0,22.7 441.4,22.7 441.8,22.7 442.2,22.7 442.6,22.7 442.9,22.7 443.3,22.7 443.7,22.7 444.1,23.2 444.5,24.1 444.9,25.3 445.3,26.7 445.7,28.8 446.0,31.4 446.4,34.4 446.8,37.6 447.2,40.9 447.6,44.7 448.0,48.9 448.4,53.4 448.8,58.0 449.1,62.5 449.5,66.9 449.9,71.1 450.3,75.4 450.7,79.7 451.1,83.9 451.5,87.9 451.9,91.7 452.2,95.0 452.6,98.3 453.0,101.4 453.4,104.3 453.8,107.1 454.2,109.5 454.6,111.5 455.0,113.4 455.3,115.2 455.7,116.7 456.1,118.0 456.5,119.0 456.9,120.0 457.3,120.7 457.7,121.0 458.1,121.0 458.4,121.0 458.8,121.0 459.2,121.0 459.6,121.0 460.0,121.0 460.4,121.0 460.8,121.0 461.2,121.0 461.5,121.0 461.9,121.0 462.3,121.0 462.7,121.0 463.1,121.0 463.5,121.0 463.9,121.0 464.2,121.0 464.6,121.0 465.0,121.0 465.4,121.0 465.8,121.0 466.2,121.0 466.6,121.0 467.0,121.0 467.3,121.0 467.7,121.0 468.1,121.0 468.5,121.0 468.9,121.0 469.3,121.0 469.7,121.0 470.1,121.0 470.4,121.0 470.8,121.0 471.2,121.0 471.6,121.0 472.0,121.0 472.4,121.0 472.8,121.0 473.2,121.0 473.5,121.0 473.9,121.0 474.3,121.0 474.7,121.0 475.1,121.0 475.5,121.0 475.9,121.0 476.3,121.0 476.6,121.0 477.0,121.0 477.4,121.0 477.8,121.0 478.2,121.0 478.6,121.0 479.0,121.0 479.4,121.0 479.7,121.0 480.1,121.0 480.5,121.0 480.9,121.0 481.3,121.0 481.7,121.0 482.1,121.0 482.5,121.0 482.8,121.0 483.2,121.0 483.6,121.0 484.0,121.0 484.4,121.0 484.8,121.0 485.2,121.0 485.6,121.0 485.9,121.0 486.3,121.0 486.7,121.0 487.1,121.0 487.5,121.0 487.9,121.0 488.3,121.0 488.7,121.0 489.0,121.0 489.4,121.0 489.8,121.0 490.2,121.0 490.6,121.0 491.0,121.0 491.4,121.0 491.8,121.0 492.1,121.0 492.5,121.0 492.9,121.0 493.3,121.0 493.7,121.0 494.1,121.0 494.5,121.0 494.9,121.0 495.2,121.0 495.6,121.0 496.0,121.0 496.4,121.0 496.8,121.0 497.2,121.0 497.6,121.0 498.0,121.0 498.3,121.0 498.7,121.0 499.1,121.0 499.5,121.0 499.9,121.0 500.3,121.0 500.7,121.0 501.0,121.0 501.4,121.0 501.8,121.0 502.2,121.0 502.6,121.0 503.0,121.0 503.4,121.0 503.8,121.0 504.1,121.0 504.5,121.0 504.9,121.0 505.3,121.0 505.7,121.0 506.1,121.0 506.5,121.0 506.9,121.0 507.2,121.0 507.6,121.0 508.0,121.0 508.4,121.0 508.8,121.0 509.2,121.0 509.6,121.0 510.0,121.0 510.3,121.0 510.7,121.0 511.1,121.0 511.5,121.0 511.9,121.0 512.3,121.0 512.7,121.0 513.1,121.0 513.4,121.0 513.8,121.0 514.2,121.0 514.6,121.0 515.0,121.0 515.4,121.0 515.8,121.0 516.2,121.0 516.5,121.0 516.9,121.0 517.3,121.0 517.7,121.0 518.1,121.0 518.5,121.0 518.9,121.0 519.3,121.0 519.6,121.0 520.0,121.0 520.4,121.0 520.8,121.0 521.2,121.0 521.6,121.0 522.0,121.0 522.4,121.0 522.7,121.0 523.1,121.0 523.5,121.0 523.9,120.8 524.3,120.1 524.7,119.2 525.1,118.2 525.5,116.9 525.8,115.0 526.2,112.7 526.6,110.0 527.0,107.0 527.4,103.9 527.8,100.6 528.2,97.4 528.6,94.3 528.9,91.1 529.3,87.9 529.7,84.5 530.1,81.0 530.5,77.4 530.9,73.6 531.3,69.6 531.7,65.5 532.0,61.6 532.4,57.7 532.8,53.2 533.2,47.4" class="c1" clip-path="url(#clip0)"/>
<polyline points="49.0,121.0 49.4,121.0 49.8,121.0 50.2,121.0 50.5,121.0 50.9,121.0 51.3,121.0 51.7,121.0 52.1,121.0 52.5,121.0 52.9,121.0 53.3,121.0 53.6,121.0 54.0,121.0 54.4,121.0 54.8,121.0 55.2,121.0 55.6,121.0 56.0,121.0 56.4,121.0 56.7,121.0 57.1,121.0 57.5,121.0 57.9,121.0 58.3,121.0 58.7,121.0 59.1,121.0 59.5,121.0 59.8,121.0 60.2,121.0 60.6,121.0 61.0,121.0 61.4,121.0 61.8,121.0 62.2,121.0 62.6,121.0 62.9,121.0 63.3,121.0 63.7,121.0 64.1,121.0 64.5,121.0 64.9,121.0 65.3,121.0 65.7,121.0 66.0,121.0 66.4,121.0 66.8,121.0 67.2,121.0 67.6,121.0 68.0,121.0 68.4,121.0 68.8,121.0 69.1,121.0 69.5,121.0 69.9,121.0 70.3,121.0 70.7,121.0 71.1,121.0 71.5,121.0 71.9,121.0 72.2,121.0 72.6,121.0 73.0,121.0 73.4,121.0 73.8,121.0 74.2,121.0 74.6,121.0 75.0,120.8 75.3,120.7 75.7,120.4 76.1,119.6 76.5,117.6 76.9,114.6 77.3,111.1 77.7,107.1 78.1,103.0 78.4,98.9 78.8,95.1 79.2,91.7 79.6,88.4 80.0,84.9 80.4,81.4 80.8,78.0 81.2,74.6 81.5,71.2 81.9,68.0 82.3,65.0 82.7,62.0 83.1,59.0 83.5,56.0 83.9,53.0 84.2,50.1 84.6,47.3 85.0,44.5 85.4,41.9 85.8,39.4 86.2,37.1 86.6,35.0 87.0,33.1 87.3,31.2 87.7,29.4 88.1,27.6 88.5,25.9 88.9,24.5 89.3,23.6 89.7,23.2 90.1,23.1 90.4,23.0 90.8,23.0 91.2,22.9 91.6,22.8 92.0,22.8 92.4,22.8 92.8,22.7 93.2,22.7 93.5,22.7 93.9,22.7 94.3,22.7 94.7,22.7 95.1,22.8 95.5,22.9 95.9,23.2 96.3,23.5 96.6,24.0 97.0,24.5 97.4,25.1 97.8,25.8 98.2,27.1 98.6,29.9 99.0,33.2 99.4,36.3 99.7,39.5 100.1,42.8 100.5,46.2 100.9,49.6 101.3,53.1 101.7,56.6 102.1,60.0 102.5,63.4 102.8,66.5 103.2,69.7 103.6,72.8 104.0,75.9 104.4,79.0 104.8,82.1 105.2,85.1 105.6,88.0 105.9,90.9 106.3,93.7 106.7,96.3 107.1,98.9 107.5,101.4 107.9,104.0 108.3,106.5 108.7,108.9 109.0,111.1 109.4,113.1 109.8,114.8 110.2,116.1 110.6,117.5 111.0,118.7 111.4,119.7 111.8,120.3 112.1,120.5 112.5,120.7 112.9,120.8 113.3,120.9 113.7,121.0 114.1,121.0 114.5,121.0 114.9,121.0 115.2,121.0 115.6,121.0 116.0,121.0 116.4,121.0 116.8,121.0 117.2,121.0 117.6,121.0 118.0,121.0 118.3,121.0 118.7,121.0 119.1,121.0 119.5,121.0 119.9,121.0 120.3,121.0 120.7,121.0 121.0,121.0 121.4,121.0 121.8,121.0 122.2,121.0 122.6,121.0 123.0,121.0 123.4,121.0 123.8,121.0 124.1,121.0 124.5,121.0 124.9,121.0 125.3,121.0 125.7,121.0 126.1,121.0 126.5,121.0 126.9,121.0 127.2,121.0 127.6,121.0 128.0,121.0 128.4,121.0 128.8,121.0 129.2,121.0 129.6,121.0 130.0,121.0 130.3,121.0 130.7,121.0 131.1,121.0 131.5,121.0 131.9,121.0 132.3,121.0 132.7,121.0 133.1,121.0 133.4,121.0 133.8,121.0 134.2,121.0 134.6,121.0 135.0,121.0 135.4,121.0 135.8,121.0 136.2,121.0 136.5,121.0 136.9,121.0 137.3,121.0 137.7,121.0 138.1,121.0 138.5,121.0 138.9,121.0 139.3,121.0 139.6,121.0 140.0,121.0 140.4,121.0 140.8,121.0 141.2,121.0 141.6,121.0 142.0,121.0 142.4,121.0 142.7,121.0 143.1,121.0 143.5,121.0 143.9,121.0 144.3,121.0 144.7,121.0 145.1,121.0 145.5,121.0 145.8,121.0 146.2,121.0 146.6,121.0 147.0,121.0 147.4,120.9 147.8,120.8 148.2,120.7 148.6,120.5 148.9,119.7 149.3,117.3 149.7,113.7 150.1,109.5 150.5,105.2 150.9,101.2 151.3,96.7 151.7,91.8 152.0,86.6 152.4,81.3 152.8,76.1 153.2,71.2 153.6,66.8 154.0,62.8 154.4,59.1 154.7,55.5 155.1,52.1 155.5,48.9 155.9,45.9 156.3,43.1 156.7,40.4 157.1,37.8 157.5,35.3 157.8,33.1 158.2,31.2 158.6,29.6 159.0,28.0 159.4,26.5 159.8,25.2 160.2,24.1 160.6,23.4 160.9,23.2 161.3,23.1 161.7,23.1 162.1,23.0 162.5,23.0 162.9,23.0 163.3,22.9 163.7,22.9 164.0,22.9 164.4,22.8 164.8,22.8 165.2,22.8 165.6,22.8 166.0,22.7 166.4,22.7 166.8,22.7 167.1,22.7 167.5,22.7 167.9,22.7 168.3,22.7 168.7,22.7 169.1,22.7 169.5,22.7 169.9,22.7 170.2,22.7 170.6,23.2 171.0,24.0 171.4,25.2 171.8,26.4 172.2,27.8 172.6,29.8 173.0,32.3 173.3,35.2 173.7,38.4 174.1,42.3 174.5,46.6 174.9,51.2 175.3,55.6 175.7,59.7 176.1,63.7 176.4,67.6 176.8,71.6 177.2,75.5 177.6,79.5 178.0,83.7 178.4,87.9 178.8,91.9 179.2,95.7 179.5,99.0 179.9,102.1 180.3,105.1 180.7,107.9 181.1,110.3 181.5,112.4 181.9,114.1 182.3,115.6 182.6,117.1 183.0,118.4 183.4,119.4 183.8,120.1 184.2,120.5 184.6,120.7 185.0,120.9 185.4,121.0 185.7,121.0 186.1,121.0 186.5,121.0 186.9,121.0 187.3,121.0 187.7,121.0 188.1,121.0 188.4,121.0 188.8,121.0 189.2,121.0 189.6,121.0 190.0,121.0 190.4,121.0 190.8,121.0 191.2,121.0 191.5,121.0 191.9,121.0 192.3,121.0 192.7,121.0 193.1,121.0 193.5,121.0 193.9,121.0 194.3,121.0 194.6,121.0 195.0,121.0 195.4,121.0 195.8,121.0 196.2,121.0 196.6,121.0 197.0,121.0 197.4,121.0 197.7,121.0 198.1,121.0 198.5,121.0 198.9,121.0 199.3,121.0 199.7,121.0 200.1,121.0 200.5,121.0 200.8,121.0 201.2,121.0 201.6,121.0 202.0,121.0 202.4,121.0 202.8,121.0 203.2,121.0 203.6,121.0 203.9,121.0 204.3,121.0 204.7,121.0 205.1,121.0 205.5,121.0 205.9,121.0 206.3,121.0 206.7,121.0 207.0,121.0 207.4,121.0 207.8,121.0 208.2,121.0 208.6,121.0 209.0,121.0 209.4,121.0 209.8,121.0 210.1,121.0 210.5,121.0 210.9,121.0 211.3,121.0 211.7,121.0 212.1,121.0 212.5,121.0 212.9,121.0 213.2,121.0 213.6,121.0 214.0,121.0 214.4,121.0 214.8,121.0 215.2,121.0 215.6,121.0 216.0,121.0 216.3,121.0 216.7,121.0 217.1,121.0 217.5,121.0 217.9,121.0 218.3,121.0 218.7,121.0 219.1,121.0 219.4,121.0 219.8,121.0 220.2,121.0 220.6,121.0 221.0,121.0 221.4,121.0 221.8,121.0 222.1,121.0 222.5,121.0 222.9,121.0 223.3,121.0 223.7,121.0 224.1,121.0 224.5,121.0 224.9,121.0 225.2,121.0 225.6,121.0 226.0,121.0 226.4,121.0 226.8,121.0 227.2,121.0 227.6,121.0 228.0,121.0 228.3,121.0 228.7,121.0 229.1,121.0 229.5,121.0 229.9,121.0 230.3,121.0 230.7,121.0 231.1,121.0 231.4,121.0 231.8,121.0 232.2,121.0 232.6,121.0 233.0,121.0 233.4,121.0 233.8,121.0 234.2,121.0 234.5,121.0 234.9,121.0 235.3,121.0 235.7,121.0 236.1,121.0 236.5,121.0 236.9,121.0 237.3,121.0 237.6,121.0 238.0,121.0 238.4,121.0 238.8,121.0 239.2,121.0 239.6,121.0 240.0,121.0 240.4,121.0 240.7,121.0 241.1,121.0 241.5,121.0 241.9,121.0 242.3,121.0 242.7,121.0 243.1,121.0 243.5,121.0 243.8,121.0 244.2,121.0 244.6,121.0 245.0,121.0 245.4,121.0 245.8,121.0 246.2,121.0 246.6,121.0 246.9,121.0 247.3,121.0 247.7,121.0 248.1,121.0 248.5,121.0 248.9,121.0 249.3,121.0 249.7,121.0 250.0,121.0 250.4,121.0 250.8,121.0 251.2,121.0 251.6,121.0 252.0,121.0 252.4,121.0 252.8,121.0 253.1,121.0 253.5,121.0 253.9,121.0 254.3,121.0 254.7,121.0 255.1,121.0 255.5,121.0 255.9,121.0 256.2,121.0 256.6,121.0 257.0,121.0 257.4,121.0 257.8,121.0 258.2,121.0 258.6,121.0 258.9,121.0 259.3,121.0 259.7,121.0 260.1,121.0 260.5,121.0 260.9,121.0 261.3,121.0 261.7,121.0 262.0,121.0 262.4,121.0 262.8,121.0 263.2,121.0 263.6,121.0 264.0,121.0 264.4,121.0 264.8,121.0 265.1,121.0 265.5,121.0 265.9,121.0 266.3,121.0 266.7,121.0 267.1,121.0 267.5,121.0 267.9,121.0 268.2,121.0 268.6,121.0 269.0,121.0 269.4,121.0 269.8,121.0 270.2,121.0 270.6,120.9 271.0,120.7 271.3,120.5 271.7,120.0 272.1,118.4 272.5,116.0 272.9,112.9 273.3,109.3 273.7,105.5 274.1,101.6 274.4,97.7 274.8,94.2 275.2,91.1 275.6,88.2 276.0,85.4 276.4,82.7 276.8,79.9 277.2,77.1 277.5,74.3 277.9,71.5 278.3,68.6 278.7,65.5 279.1,62.2 279.5,58.6 279.9,54.7 280.3,50.7 280.6,46.8 281.0,43.2 281.4,39.8 281.8,37.0 282.2,34.7 282.6,33.0 283.0,31.5 283.4,30.0 283.7,28.7 284.1,27.5 284.5,26.4 284.9,25.5 285.3,24.7 285.7,24.0 286.1,23.5 286.5,23.1 286.8,22.7 287.2,22.7 287.6,22.7 288.0,22.7 288.4,22.7 288.8,22.7 289.2,22.7 289.6,22.7 289.9,22.7 290.3,22.7 290.7,22.7 291.1,22.7 291.5,22.7 291.9,22.7 292.3,22.7 292.6,22.7 293.0,22.7 293.4,22.7 293.8,22.7 294.2,22.7 294.6,22.7 295.0,22.7 295.4,22.7 295.7,22.7 296.1,22.7 296.5,22.7 296.9,22.7 297.3,22.7 297.7,22.7 298.1,22.7 298.5,22.7 298.8,22.7 299.2,22.7 299.6,22.7 300.0,22.7 300.4,22.7 300.8,22.7 301.2,22.7 301.6,22.7 301.9,22.7 302.3,22.7 302.7,22.7 303.1,22.7 303.5,22.7 303.9,22.7 304.3,22.7 304.7,22.7 305.0,22.7 305.4,22.7 305.8,22.7 306.2,23.6 306.6,25.3 307.0,27.8 307.4,30.7 307.8,33.7 308.1,36.7 308.5,39.8 308.9,43.3 309.3,47.2 309.7,51.3 310.1,55.5 310.5,59.6 310.9,63.6 311.2,67.4 311.6,71.2 312.0,74.9 312.4,78.7 312.8,82.4 313.2,86.0 313.6,89.4 314.0,92.7 314.3,95.8 314.7,98.9 315.1,101.9 315.5,104.8 315.9,107.4 316.3,109.6 316.7,111.3 317.1,112.9 317.4,114.4 317.8,115.8 318.2,117.1 318.6,118.3 319.0,119.3 319.4,120.0 319.8,120.5 320.2,120.7 320.5,120.7 320.9,120.7 321.3,120.7 321.7,120.7 322.1,120.7 322.5,120.7 322.9,120.7 323.3,120.7 323.6,120.7 324.0,120.7 324.4,120.7 324.8,120.7 325.2,120.7 325.6,120.7 326.0,120.7 326.3,120.7 326.7,120.7 327.1,120.7 327.5,120.7 327.9,120.7 328.3,120.7 328.7,120.7 329.1,120.7 329.4,120.7 329.8,120.7 330.2,120.7 330.6,120.7 331.0,120.7 331.4,120.7 331.8,120.7 332.2,120.7 332.5,120.7 332.9,120.7 333.3,120.7 333.7,120.7 334.1,120.7 334.5,120.7 334.9,120.7 335.3,120.7 335.6,120.7 336.0,120.7 336.4,120.7 336.8,120.7 337.2,120.2 337.6,118.5 338.0,115.7 338.4,112.3 338.7,108.5 339.1,104.7 339.5,100.8 339.9,96.1 340.3,90.9 340.7,85.2 341.1,79.6 341.5,74.0 341.8,68.9 342.2,64.5 342.6,60.2 343.0,55.9 343.4,51.7 343.8,47.7 344.2,44.0 344.6,40.9 344.9,38.2 345.3,36.2 345.7,34.5 346.1,32.8 346.5,31.2 346.9,29.6 347.3,28.2 347.7,26.9 348.0,25.7 348.4,24.7 348.8,23.9 349.2,23.3 349.6,22.8 350.0,22.7 350.4,22.7 350.8,22.7 351.1,22.7 351.5,22.7 351.9,22.7 352.3,22.7 352.7,22.7 353.1,22.7 353.5,22.7 353.9,22.7 354.2,22.7 354.6,22.7 355.0,22.7 355.4,22.7 355.8,22.7 356.2,22.7 356.6,22.7 357.0,22.7 357.3,22.7 357.7,22.7 358.1,22.7 358.5,22.7 358.9,22.7 359.3,22.7 359.7,22.7 360.1,22.7 360.4,22.7 360.8,22.7 361.2,22.7 361.6,22.7 362.0,22.7 362.4,22.7 362.8,22.7 363.1,22.7 363.5,22.9 363.9,24.0 364.3,25.5 364.7,27.1 365.1,28.7 365.5,30.6 365.9,32.7 366.2,35.1 366.6,37.7 367.0,40.7 367.4,44.4 367.8,48.6 368.2,53.3 368.6,57.9 369.0,62.4 369.3,66.5 369.7,70.5 370.1,74.5 370.5,78.5 370.9,82.4 371.3,86.2 371.7,89.8 372.1,93.2 372.4,96.3 372.8,99.0 373.2,101.5 373.6,103.9 374.0,106.2 374.4,108.4 374.8,110.5 375.2,112.3 375.5,114.0 375.9,115.5 376.3,116.7 376.7,117.8 377.1,118.9 377.5,119.8 377.9,120.4 378.3,120.7 378.6,120.7 379.0,120.7 379.4,120.7 379.8,120.7 380.2,120.7 380.6,120.7 381.0,120.7 381.4,120.7 381.7,120.7 382.1,120.7 382.5,120.7 382.9,120.7 383.3,120.7 383.7,120.7 384.1,120.7 384.5,120.7 384.8,120.7 385.2,120.7 385.6,120.7 386.0,120.7 386.4,120.7 386.8,120.7 387.2,120.7 387.6,120.7 387.9,120.7 388.3,120.7 388.7,120.7 389.1,120.7 389.5,120.7 389.9,120.7 390.3,120.7 390.7,120.7 391.0,120.7 391.4,120.6 391.8,120.6 392.2,120.6 392.6,120.5 393.0,120.5 393.4,120.4 393.8,120.3 394.1,120.3 394.5,120.2 394.9,120.1 395.3,120.0 395.7,119.9 396.1,119.7 396.5,119.5 396.8,119.1 397.2,118.7 397.6,118.2 398.0,117.6 398.4,116.9 398.8,116.1 399.2,114.9 399.6,113.3 399.9,111.5 400.3,109.5 400.7,106.9 401.1,104.0 401.5,100.8 401.9,97.4 402.3,94.1 402.7,90.8 403.0,87.8 403.4,84.9 403.8,82.0 404.2,79.2 404.6,76.3 405.0,73.5 405.4,70.6 405.8,67.7 406.1,64.7 406.5,61.7 406.9,58.3 407.3,54.9 407.7,51.4 408.1,47.9 408.5,44.6 408.9,41.6 409.2,38.9 409.6,36.6 410.0,34.6 410.4,32.6 410.8,30.8 411.2,29.1 411.6,27.6 412.0,26.4 412.3,25.4 412.7,24.7 413.1,24.2 413.5,23.7 413.9,23.3 414.3,22.9 414.7,22.7 415.1,22.7 415.4,22.7 415.8,22.7 416.2,22.7 416.6,22.7 417.0,22.7 417.4,22.7 417.8,22.7 418.2,22.7 418.5,22.7 418.9,22.7 419.3,22.7 419.7,22.7 420.1,22.7 420.5,22.7 420.9,22.7 421.3,22.7 421.6,22.7 422.0,22.7 422.4,22.7 422.8,22.7 423.2,22.7 423.6,22.7 424.0,22.7 424.4,22.7 424.7,22.7 425.1,22.7 425.5,22.7 425.9,22.7 426.3,22.7 426.7,22.7 427.1,22.7 427.5,22.7 427.8,22.7 428.2,22.7 428.6,22.7 429.0,22.7 429.4,22.7 429.8,22.7 430.2,22.7 430.5,22.7 430.9,22.7 431.3,22.7 431.7,22.7 432.1,22.7 432.5,22.7 432.9,22.7 433.3,22.7 433.6,22.7 434.0,22.7 434.4,22.7 434.8,22.7 435.2,22.7 435.6,22.7 436.0,22.7 436.4,22.7 436.7,22.7 437.1,22.7 437.5,22.7 437.9,22.7 438.3,22.7 438.7,22.7 439.1,22.7 439.5,22.7 439.8,22.7 440.2,22.7 440.6,22.7 441.0,22.7 441.4,22.7 441.8,22.7 442.2,22.7 442.6,22.7 442.9,22.7 443.3,22.7 443.7,22.7 444.1,23.2 444.5,24.1 444.9,25.3 445.3,26.7 445.7,28.8 446.0,31.4 446.4,34.4 446.8,37.6 447.2,40.9 447.6,44.7 448.0,49.0 448.4,53.5 448.8,58.0 449.1,62.5 449.5,66.8 449.9,71.0 450.3,75.3 450.7,79.5 451.1,83.6 451.5,87.5 451.9,91.2 452.2,94.6 452.6,98.0 453.0,101.2 453.4,104.2 453.8,107.0 454.2,109.4 454.6,111.5 455.0,113.5 455.3,115.2 455.7,116.7 456.1,118.0 456.5,119.0 456.9,120.0 457.3,120.7 457.7,121.0 458.1,121.0 458.4,121.0 458.8,121.0 459.2,121.0 459.6,121.0 460.0,121.0 460.4,121.0 460.8,121.0 461.2,121.0 461.5,121.0 461.9,121.0 462.3,121.0 462.7,121.0 463.1,121.0 463.5,121.0 463.9,121.0 464.2,121.0 464.6,121.0 465.0,121.0 465.4,121.0 465.8,121.0 466.2,121.0 466.6,121.0 467.0,121.0 467.3,121.0 467.7,121.0 468.1,121.0 468.5,121.0 468.9,121.0 469.3,121.0 469.7,121.0 470.1,121.0 470.4,121.0 470.8,121.0 471.2,121.0 471.6,121.0 472.0,121.0 472.4,121.0 472.8,121.0 473.2,121.0 473.5,121.0 473.9,121.0 474.3,121.0 474.7,121.0 475.1,121.0 475.5,121.0 475.9,121.0 476.3,121.0 476.6,121.0 477.0,121.0 477.4,121.0 477.8,121.0 478.2,121.0 478.6,121.0 479.0,121.0 479.4,121.0 479.7,121.0 480.1,121.0 480.5,121.0 480.9,121.0 481.3,121.0 481.7,121.0 482.1,121.0 482.5,121.0 482.8,121.0 483.2,121.0 483.6,121.0 484.0,121.0 484.4,121.0 484.8,121.0 485.2,121.0 485.6,121.0 485.9,121.0 486.3,121.0 486.7,121.0 487.1,121.0 487.5,121.0 487.9,121.0 488.3,121.0 488.7,121.0 489.0,121.0 489.4,121.0 489.8,121.0 490.2,121.0 490.6,121.0 491.0,121.0 491.4,121.0 491.8,121.0 492.1,121.0 492.5,121.0 492.9,121.0 493.3,121.0 493.7,121.0 494.1,121.0 494.5,121.0 494.9,121.0 495.2,121.0 495.6,121.0 496.0,121.0 496.4,121.0 496.8,121.0 497.2,121.0 497.6,121.0 498.0,121.0 498.3,121.0 498.7,121.0 499.1,121.0 499.5,121.0 499.9,121.0 500.3,121.0 500.7,121.0 501.0,121.0 501.4,121.0 501.8,121.0 502.2,121.0 502.6,121.0 503.0,121.0 503.4,121.0 503.8,121.0 504.1,121.0 504.5,121.0 504.9,121.0 505.3,121.0 505.7,121.0 506.1,121.0 506.5,121.0 506.9,121.0 507.2,121.0 507.6,121.0 508.0,121.0 508.4,121.0 508.8,121.0 509.2,121.0 509.6,121.0 510.0,121.0 510.3,121.0 510.7,121.0 511.1,121.0 511.5,121.0 511.9,121.0 512.3,121.0 512.7,121.0 513.1,121.0 513.4,121.0 513.8,121.0 514.2,121.0 514.6,121.0 515.0,121.0 515.4,121.0 515.8,121.0 516.2,121.0 516.5,121.0 516.9,121.0 517.3,121.0 517.7,121.0 518.1,121.0 518.5,121.0 518.9,121.0 519.3,121.0 519.6,121.0 520.0,121.0 520.4,121.0 520.8,121.0 521.2,121.0 521.6,121.0 522.0,121.0 522.4,121.0 522.7,121.0 523.1,121.0 523.5,121.0 523.9,121.0 524.3,121.0 524.7,121.0 525.1,121.0 525.5,121.0 525.8,121.0 526.2,121.0 526.6,121.0 527.0,121.0 527.4,121.0 527.8,121.0 528.2,121.0 528.6,121.0 528.9,121.0 529.3,121.0 529.7,121.0 530.1,121.0 530.5,121.0 530.9,121.0 531.3,121.0 531.7,121.0 532.0,121.0 532.4,121.0 532.8,121.0 533.2,121.0" class="c2" clip-path="url(#clip0)"/>
<text x="49.00" y="136.00" class="tl" text-anchor="middle">100</text>
<text x="97.42" y="136.00" class="tl" text-anchor="middle">105</text>
<text x="145.84" y="136.00" class="tl" text-anchor="middle">110</text>
<text x="194.26" y="136.00" class="tl" text-anchor="middle">115</text>
<text x="242.68" y="136.00" class="tl" text-anchor="middle">120</text>
<text x="291.10" y="136.00" class="tl" text-anchor="middle">125</text>
<text x="339.52" y="136.00" class="tl" text-anchor="middle">130</text>
<text x="387.94" y="136.00" class="tl" text-anchor="middle">135</text>
<text x="436.36" y="136.00" class="tl" text-anchor="middle">140</text>
<text x="484.78" y="136.00" class="tl" text-anchor="middle">145</text>
<text x="533.20" y="136.00" class="tl" text-anchor="middle">150</text>
<text x="44.70" y="125.00" class="tl" text-anchor="end">0</text>
<text x="44.70" y="69.75" class="tl" text-anchor="end">50</text>
<text x="44.70" y="14.50" class="tl" text-anchor="end">100</text>
<text transform="translate(18.9,65.75) rotate(-90)" class="yl" text-anchor="middle">angle [deg.]</text>
<rect x="55.9" y="16.0" width="215.40" height="14.50" class="leg"/>
<line x1="58.5" y1="23.85" x2="82.5" y2="23.85" class="c0"/>
<text x="85.1" y="27.85" class="lt">ideal</text>
<line x1="116.7" y1="23.85" x2="142.2" y2="23.85" class="c1"/>
<text x="144.10000000000002" y="27.85" class="lt">delay-1s</text>
<line x1="196.10000000000002" y1="23.85" x2="220.10000000000002" y2="23.85" class="c2"/>
<text x="222.89999999999998" y="27.85" class="lt">delay-2s</text>
<line x1="97.95" y1="153.0" x2="97.95" y2="279.0" class="grid"/>
<line x1="146.40" y1="153.0" x2="146.40" y2="279.0" class="grid"/>
<line x1="194.85" y1="153.0" x2="194.85" y2="279.0" class="grid"/>
<line x1="243.30" y1="153.0" x2="243.30" y2="279.0" class="grid"/>
<line x1="291.75" y1="153.0" x2="291.75" y2="279.0" class="grid"/>
<line x1="340.20" y1="153.0" x2="340.20" y2="279.0" class="grid"/>
<line x1="388.65" y1="153.0" x2="388.65" y2="279.0" class="grid"/>
<line x1="437.10" y1="153.0" x2="437.10" y2="279.0" class="grid"/>
<line x1="485.55" y1="153.0" x2="485.55" y2="279.0" class="grid"/>
<line x1="49.5" y1="253.80" x2="534.0" y2="253.80" class="grid"/>
<line x1="49.5" y1="228.60" x2="534.0" y2="228.60" class="grid"/>
<line x1="49.5" y1="203.40" x2="534.0" y2="203.40" class="grid"/>
<line x1="49.5" y1="178.20" x2="534.0" y2="178.20" class="grid"/>
<line x1="97.95" y1="279.0" x2="97.95" y2="274.5" class="tk"/>
<line x1="97.95" y1="153.0" x2="97.95" y2="157.5" class="tk"/>
<line x1="146.40" y1="279.0" x2="146.40" y2="274.5" class="tk"/>
<line x1="146.40" y1="153.0" x2="146.40" y2="157.5" class="tk"/>
<line x1="194.85" y1="279.0" x2="194.85" y2="274.5" class="tk"/>
<line x1="194.85" y1="153.0" x2="194.85" y2="157.5" class="tk"/>
<line x1="243.30" y1="279.0" x2="243.30" y2="274.5" class="tk"/>
<line x1="243.30" y1="153.0" x2="243.30" y2="157.5" class="tk"/>
<line x1="291.75" y1="279.0" x2="291.75" y2="274.5" class="tk"/>
<line x1="291.75" y1="153.0" x2="291.75" y2="157.5" class="tk"/>
<line x1="340.20" y1="279.0" x2="340.20" y2="274.5" class="tk"/>
<line x1="340.20" y1="153.0" x2="340.20" y2="157.5" class="tk"/>
<line x1="388.65" y1="279.0" x2="388.65" y2="274.5" class="tk"/>
<line x1="388.65" y1="153.0" x2="388.65" y2="157.5" class="tk"/>
<line x1="437.10" y1="279.0" x2="437.10" y2="274.5" class="tk"/>
<line x1="437.10" y1="153.0" x2="437.10" y2="157.5" class="tk"/>
<line x1="485.55" y1="279.0" x2="485.55" y2="274.5" class="tk"/>
<line x1="485.55" y1="153.0" x2="485.55" y2="157.5" class="tk"/>
<line x1="49.5" y1="253.80" x2="54.0" y2="253.80" class="tk"/>
<line x1="534.0" y1="253.80" x2="529.5" y2="253.80" class="tk"/>
<line x1="49.5" y1="228.60" x2="54.0" y2="228.60" class="tk"/>
<line x1="534.0" y1="228.60" x2="529.5" y2="228.60" class="tk"/>
<line x1="49.5" y1="203.40" x2="54.0" y2="203.40" class="tk"/>
<line x1="534.0" y1="203.40" x2="529.5" y2="203.40" class="tk"/>
<line x1="49.5" y1="178.20" x2="54.0" y2="178.20" class="tk"/>
<line x1="534.0" y1="178.20" x2="529.5" y2="178.20" class="tk"/>
<rect x="49.5" y="153.0" width="484.50" height="126.00" class="box"/>
<polyline points="49.5,275.0 49.9,274.9 50.3,274.9 50.7,274.8 51.1,274.6 51.4,274.4 51.8,274.2 52.2,273.9 52.6,273.5 53.0,272.8 53.4,271.8 53.8,270.6 54.2,269.3 54.5,268.0 54.9,266.6 55.3,264.9 55.7,263.0 56.1,261.2 56.5,259.7 56.9,258.3 57.3,256.9 57.6,255.5 58.0,254.3 58.4,253.5 58.8,253.2 59.2,253.3 59.6,253.6 60.0,254.1 60.4,254.6 60.7,255.2 61.1,255.7 61.5,256.2 61.9,256.8 62.3,257.5 62.7,258.1 63.1,258.7 63.5,259.3 63.8,259.8 64.2,260.3 64.6,260.8 65.0,261.2 65.4,261.6 65.8,262.0 66.2,262.4 66.6,262.8 66.9,263.2 67.3,263.5 67.7,263.9 68.1,264.2 68.5,264.5 68.9,264.9 69.3,265.2 69.7,265.5 70.0,265.8 70.4,266.1 70.8,266.4 71.2,266.7 71.6,267.0 72.0,267.3 72.4,267.6 72.8,267.8 73.1,268.1 73.5,268.3 73.9,268.6 74.3,268.8 74.7,269.0 75.1,269.2 75.5,269.4 75.9,269.7 76.2,269.9 76.6,270.1 77.0,270.3 77.4,270.5 77.8,270.7 78.2,270.9 78.6,271.0 79.0,271.2 79.3,271.4 79.7,271.5 80.1,271.7 80.5,271.8 80.9,271.9 81.3,272.0 81.7,272.1 82.1,272.2 82.4,272.3 82.8,272.4 83.2,272.5 83.6,272.6 84.0,272.7 84.4,272.8 84.8,272.8 85.2,272.9 85.5,273.0 85.9,273.0 86.3,273.1 86.7,273.2 87.1,273.2 87.5,273.3 87.9,273.3 88.3,273.4 88.6,273.5 89.0,273.5 89.4,273.6 89.8,273.6 90.2,273.7 90.6,273.7 91.0,273.8 91.4,273.8 91.7,273.8 92.1,273.9 92.5,273.9 92.9,274.0 93.3,274.0 93.7,274.1 94.1,274.1 94.5,274.1 94.8,274.2 95.2,274.2 95.6,274.3 96.0,274.3 96.4,274.4 96.8,274.4 97.2,274.4 97.6,274.5 98.0,274.5 98.3,274.6 98.7,274.7 99.1,274.7 99.5,274.8 99.9,274.8 100.3,274.9 100.7,274.9 101.1,274.9 101.4,275.0 101.8,275.0 102.2,275.0 102.6,275.0 103.0,274.9 103.4,274.9 103.8,274.9 104.2,274.9 104.5,274.8 104.9,274.8 105.3,274.8 105.7,274.7 106.1,274.7 106.5,274.6 106.9,274.6 107.3,274.5 107.6,274.5 108.0,274.4 108.4,274.4 108.8,274.3 109.2,274.3 109.6,274.2 110.0,274.2 110.4,274.1 110.7,274.1 111.1,274.0 111.5,273.9 111.9,273.9 112.3,273.8 112.7,273.7 113.1,273.7 113.5,273.6 113.8,273.5 114.2,273.5 114.6,273.4 115.0,273.3 115.4,273.3 115.8,273.2 116.2,273.2 116.6,273.1 116.9,273.1 117.3,273.1 117.7,273.1 118.1,273.1 118.5,273.1 118.9,273.2 119.3,273.2 119.7,273.3 120.0,273.4 120.4,273.5 120.8,273.6 121.2,273.6 121.6,273.7 122.0,273.8 122.4,273.8 122.8,273.8 123.1,273.8 123.5,273.5 123.9,273.2 124.3,272.6 124.7,272.0 125.1,271.2 125.5,270.4 125.9,269.6 126.2,268.7 126.6,267.8 127.0,266.6 127.4,265.2 127.8,263.5 128.2,261.8 128.6,260.0 129.0,258.4 129.3,257.0 129.7,255.9 130.1,254.7 130.5,253.6 130.9,252.6 131.3,251.8 131.7,251.3 132.1,251.3 132.4,251.6 132.8,252.1 133.2,252.8 133.6,253.5 134.0,254.2 134.4,254.8 134.8,255.3 135.2,255.9 135.5,256.4 135.9,256.9 136.3,257.4 136.7,258.0 137.1,258.5 137.5,259.0 137.9,259.5 138.3,259.9 138.6,260.4 139.0,260.8 139.4,261.3 139.8,261.7 140.2,262.1 140.6,262.5 141.0,263.0 141.4,263.4 141.7,263.8 142.1,264.1 142.5,264.5 142.9,264.9 143.3,265.2 143.7,265.5 144.1,265.8 144.5,266.1 144.8,266.4 145.2,266.7 145.6,266.9 146.0,267.2 146.4,267.4 146.8,267.6 147.2,267.9 147.6,268.1 148.0,268.3 148.3,268.5 148.7,268.7 149.1,268.9 149.5,269.1 149.9,269.2 150.3,269.4 150.7,269.6 151.1,269.8 151.4,269.9 151.8,270.1 152.2,270.3 152.6,270.4 153.0,270.6 153.4,270.7 153.8,270.9 154.2,271.0 154.5,271.2 154.9,271.3 155.3,271.4 155.7,271.6 156.1,271.7 156.5,271.8 156.9,271.9 157.3,272.1 157.6,272.2 158.0,272.3 158.4,272.4 158.8,272.5 159.2,272.6 159.6,272.8 160.0,272.9 160.4,273.0 160.7,273.1 161.1,273.2 161.5,273.3 161.9,273.4 162.3,273.5 162.7,273.6 163.1,273.7 163.5,273.8 163.8,274.0 164.2,274.1 164.6,274.2 165.0,274.3 165.4,274.4 165.8,274.5 166.2,274.6 166.6,274.7 166.9,274.7 167.3,274.8 167.7,274.8 168.1,274.9 168.5,274.9 168.9,275.0 169.3,275.0 169.7,275.0 170.0,275.0 170.4,274.9 170.8,274.9 171.2,274.8 171.6,274.8 172.0,274.7 172.4,274.6 172.8,274.6 173.1,274.5 173.5,274.4 173.9,274.3 174.3,274.1 174.7,274.0 175.1,273.9 175.5,273.8 175.9,273.5 176.2,273.3 176.6,272.9 177.0,272.5 177.4,272.1 177.8,271.7 178.2,271.2 178.6,270.7 179.0,270.3 179.3,269.9 179.7,269.4 180.1,269.0 180.5,268.4 180.9,267.9 181.3,267.4 181.7,267.0 182.1,266.8 182.4,266.8 182.8,266.9 183.2,267.1 183.6,267.4 184.0,267.7 184.4,268.0 184.8,268.3 185.2,268.5 185.5,268.7 185.9,268.9 186.3,269.1 186.7,269.3 187.1,269.4 187.5,269.6 187.9,269.8 188.3,269.9 188.6,270.0 189.0,270.1 189.4,270.2 189.8,270.2 190.2,270.2 190.6,270.1 191.0,270.1 191.4,270.0 191.7,269.9 192.1,269.8 192.5,269.7 192.9,269.6 193.3,269.5 193.7,269.4 194.1,269.3 194.5,269.2 194.8,269.2 195.2,269.1 195.6,269.1 196.0,269.1 196.4,269.0 196.8,269.1 197.2,269.2 197.6,269.3 198.0,269.5 198.3,269.7 198.7,269.9 199.1,270.1 199.5,270.2 199.9,270.4 200.3,270.5 200.7,270.7 201.1,270.8 201.4,271.0 201.8,271.2 202.2,271.4 202.6,271.5 203.0,271.7 203.4,271.9 203.8,272.0 204.2,272.2 204.5,272.3 204.9,272.5 205.3,272.6 205.7,272.8 206.1,272.9 206.5,273.1 206.9,273.2 207.3,273.3 207.6,273.4 208.0,273.6 208.4,273.7 208.8,273.8 209.2,274.0 209.6,274.1 210.0,274.2 210.4,274.4 210.7,274.5 211.1,274.6 211.5,274.7 211.9,274.8 212.3,274.9 212.7,275.0 213.1,275.1 213.5,275.2 213.8,275.2 214.2,275.3 214.6,275.3 215.0,275.3 215.4,275.3 215.8,275.3 216.2,275.3 216.6,275.2 216.9,275.0 217.3,274.9 217.7,274.7 218.1,274.5 218.5,274.3 218.9,274.1 219.3,273.8 219.7,273.6 220.0,273.4 220.4,273.1 220.8,272.9 221.2,272.7 221.6,272.5 222.0,272.2 222.4,271.9 222.8,271.6 223.1,271.3 223.5,271.0 223.9,270.7 224.3,270.5 224.7,270.3 225.1,270.2 225.5,270.2 225.9,270.2 226.2,270.3 226.6,270.3 227.0,270.4 227.4,270.6 227.8,270.7 228.2,270.9 228.6,271.0 229.0,271.2 229.3,271.4 229.7,271.6 230.1,271.7 230.5,271.9 230.9,272.0 231.3,272.2 231.7,272.3 232.1,272.4 232.4,272.5 232.8,272.6 233.2,272.8 233.6,272.9 234.0,273.0 234.4,273.1 234.8,273.2 235.2,273.3 235.5,273.4 235.9,273.5 236.3,273.6 236.7,273.7 237.1,273.7 237.5,273.8 237.9,273.8 238.3,273.8 238.6,273.8 239.0,273.8 239.4,273.7 239.8,273.6 240.2,273.4 240.6,273.2 241.0,273.0 241.4,272.7 241.7,272.4 242.1,272.2 242.5,271.9 242.9,271.6 243.3,271.3 243.7,270.9 244.1,270.4 244.5,270.0 244.9,269.6 245.2,269.3 245.6,269.2 246.0,269.2 246.4,269.3 246.8,269.4 247.2,269.6 247.6,269.8 248.0,270.0 248.3,270.2 248.7,270.3 249.1,270.4 249.5,270.4 249.9,270.1 250.3,269.3 250.7,268.1 251.1,266.6 251.4,265.0 251.8,263.1 252.2,260.6 252.6,257.4 253.0,253.7 253.4,250.0 253.8,246.2 254.2,241.9 254.5,237.8 254.9,234.5 255.3,231.9 255.7,229.5 256.1,227.7 256.5,227.0 256.9,227.3 257.3,228.2 257.6,229.4 258.0,230.8 258.4,232.3 258.8,233.6 259.2,234.9 259.6,236.2 260.0,237.7 260.4,239.1 260.7,240.6 261.1,242.1 261.5,243.5 261.9,244.8 262.3,246.0 262.7,247.1 263.1,248.1 263.5,249.2 263.8,250.3 264.2,251.3 264.6,252.3 265.0,253.2 265.4,254.2 265.8,255.1 266.2,255.9 266.6,256.7 266.9,257.5 267.3,258.1 267.7,258.8 268.1,259.4 268.5,259.9 268.9,260.4 269.3,260.9 269.7,261.4 270.0,261.9 270.4,262.3 270.8,262.7 271.2,263.1 271.6,263.6 272.0,263.9 272.4,264.3 272.8,264.6 273.1,265.0 273.5,265.3 273.9,265.6 274.3,265.9 274.7,266.2 275.1,266.5 275.5,266.7 275.9,267.0 276.2,267.2 276.6,267.5 277.0,267.8 277.4,268.0 277.8,268.3 278.2,268.5 278.6,268.8 279.0,269.0 279.3,269.2 279.7,269.4 280.1,269.6 280.5,269.8 280.9,269.9 281.3,270.1 281.7,270.2 282.1,270.2 282.4,270.3 282.8,270.3 283.2,270.3 283.6,270.3 284.0,270.3 284.4,270.3 284.8,270.2 285.2,270.2 285.5,270.2 285.9,270.0 286.3,269.6 286.7,269.0 287.1,268.4 287.5,267.7 287.9,267.0 288.3,266.3 288.6,265.5 289.0,264.6 289.4,263.6 289.8,262.6 290.2,261.5 290.6,260.3 291.0,259.1 291.4,257.9 291.8,256.7 292.1,255.4 292.5,254.0 292.9,252.3 293.3,250.3 293.7,248.3 294.1,246.4 294.5,244.6 294.9,243.0 295.2,241.9 295.6,241.3 296.0,241.3 296.4,241.7 296.8,242.6 297.2,243.7 297.6,245.1 298.0,246.5 298.3,247.9 298.7,249.2 299.1,250.2 299.5,251.0 299.9,251.8 300.3,252.5 300.7,253.2 301.1,253.9 301.4,254.5 301.8,255.2 302.2,255.8 302.6,256.4 303.0,256.9 303.4,257.5 303.8,258.0 304.2,258.6 304.5,259.1 304.9,259.5 305.3,260.0 305.7,260.5 306.1,260.9 306.5,261.4 306.9,261.8 307.3,262.2 307.6,262.7 308.0,263.2 308.4,263.6 308.8,264.1 309.2,264.5 309.6,265.0 310.0,265.4 310.4,265.8 310.7,266.2 311.1,266.5 311.5,266.8 311.9,267.1 312.3,267.3 312.7,267.5 313.1,267.6 313.5,267.6 313.8,267.7 314.2,267.6 314.6,267.6 315.0,267.5 315.4,267.5 315.8,267.4 316.2,267.3 316.6,267.2 316.9,267.0 317.3,266.8 317.7,266.4 318.1,265.8 318.5,265.2 318.9,264.5 319.3,263.7 319.7,262.7 320.0,261.6 320.4,260.5 320.8,259.3 321.2,258.3 321.6,257.4 322.0,256.4 322.4,255.4 322.8,254.4 323.1,253.6 323.5,253.2 323.9,253.1 324.3,253.2 324.7,253.6 325.1,254.1 325.5,254.7 325.9,255.4 326.2,256.2 326.6,257.0 327.0,257.7 327.4,258.4 327.8,259.0 328.2,259.5 328.6,260.0 329.0,260.5 329.3,261.1 329.7,261.6 330.1,262.1 330.5,262.6 330.9,263.1 331.3,263.6 331.7,264.0 332.1,264.5 332.4,264.9 332.8,265.3 333.2,265.7 333.6,266.1 334.0,266.4 334.4,266.7 334.8,267.1 335.2,267.4 335.5,267.7 335.9,268.0 336.3,268.3 336.7,268.6 337.1,268.9 337.5,269.1 337.9,269.4 338.3,269.7 338.6,269.9 339.0,270.1 339.4,270.3 339.8,270.5 340.2,270.7 340.6,270.8 341.0,271.0 341.4,271.1 341.8,271.2 342.1,271.3 342.5,271.5 342.9,271.6 343.3,271.7 343.7,271.8 344.1,271.9 344.5,271.9 344.9,272.0 345.2,272.1 345.6,272.2 346.0,272.3 346.4,272.3 346.8,272.4 347.2,272.5 347.6,272.5 348.0,272.6 348.3,272.6 348.7,272.7 349.1,272.8 349.5,272.8 349.9,272.9 350.3,272.9 350.7,273.0 351.1,273.0 351.4,273.1 351.8,273.1 352.2,273.2 352.6,273.2 353.0,273.2 353.4,273.3 353.8,273.3 354.2,273.3 354.5,273.3 354.9,273.3 355.3,273.3 355.7,273.0 356.1,272.5 356.5,271.8 356.9,270.9 357.3,269.8 357.6,268.6 358.0,267.3 358.4,266.0 358.8,264.6 359.2,262.6 359.6,259.9 360.0,257.0 360.4,254.2 360.7,251.9 361.1,250.3 361.5,249.1 361.9,247.9 362.3,246.9 362.7,246.1 363.1,245.6 363.5,245.5 363.8,245.8 364.2,246.4 364.6,247.2 365.0,248.0 365.4,248.8 365.8,249.5 366.2,250.3 366.6,251.2 366.9,252.0 367.3,252.8 367.7,253.5 368.1,254.3 368.5,255.0 368.9,255.7 369.3,256.4 369.7,257.1 370.0,257.7 370.4,258.3 370.8,258.9 371.2,259.5 371.6,260.0 372.0,260.5 372.4,261.0 372.8,261.4 373.1,261.9 373.5,262.4 373.9,262.8 374.3,263.2 374.7,263.6 375.1,264.0 375.5,264.4 375.9,264.8 376.2,265.1 376.6,265.4 377.0,265.7 377.4,266.0 377.8,266.3 378.2,266.5 378.6,266.8 379.0,267.0 379.3,267.2 379.7,267.4 380.1,267.6 380.5,267.8 380.9,268.0 381.3,268.2 381.7,268.3 382.1,268.5 382.4,268.7 382.8,268.8 383.2,268.9 383.6,269.1 384.0,269.2 384.4,269.3 384.8,269.5 385.2,269.6 385.5,269.8 385.9,269.9 386.3,270.0 386.7,270.1 387.1,270.2 387.5,270.3 387.9,270.4 388.3,270.5 388.6,270.6 389.0,270.6 389.4,270.7 389.8,270.7 390.2,270.6 390.6,270.4 391.0,270.0 391.4,269.4 391.8,268.7 392.1,267.9 392.5,267.0 392.9,266.0 393.3,265.0 393.7,263.8 394.1,262.1 394.5,259.8 394.9,257.1 395.2,254.3 395.6,251.8 396.0,249.7 396.4,248.1 396.8,246.4 397.2,244.8 397.6,243.2 398.0,241.8 398.3,240.5 398.7,239.4 399.1,238.6 399.5,238.2 399.9,238.1 400.3,238.3 400.7,238.9 401.1,239.8 401.4,240.8 401.8,241.9 402.2,243.1 402.6,244.3 403.0,245.5 403.4,246.5 403.8,247.4 404.2,248.4 404.5,249.3 404.9,250.3 405.3,251.3 405.7,252.2 406.1,253.2 406.5,254.1 406.9,255.0 407.3,255.8 407.6,256.6 408.0,257.3 408.4,258.0 408.8,258.6 409.2,259.2 409.6,259.7 410.0,260.3 410.4,260.9 410.7,261.4 411.1,261.9 411.5,262.4 411.9,262.9 412.3,263.3 412.7,263.7 413.1,264.1 413.5,264.5 413.8,264.8 414.2,265.0 414.6,265.3 415.0,265.5 415.4,265.7 415.8,265.9 416.2,266.1 416.6,266.2 416.9,266.4 417.3,266.6 417.7,266.8 418.1,266.9 418.5,267.1 418.9,267.2 419.3,267.3 419.7,267.4 420.0,267.5 420.4,267.6 420.8,267.7 421.2,267.7 421.6,267.8 422.0,267.8 422.4,267.7 422.8,267.6 423.1,267.4 423.5,267.1 423.9,266.7 424.3,266.2 424.7,265.7 425.1,265.1 425.5,264.6 425.9,264.0 426.2,263.4 426.6,262.9 427.0,262.3 427.4,261.8 427.8,261.4 428.2,261.0 428.6,260.7 429.0,260.5 429.3,260.4 429.7,260.4 430.1,260.6 430.5,260.9 430.9,261.3 431.3,261.9 431.7,262.5 432.1,263.2 432.4,263.8 432.8,264.5 433.2,265.1 433.6,265.7 434.0,266.2 434.4,266.5 434.8,266.8 435.2,267.1 435.5,267.4 435.9,267.7 436.3,267.9 436.7,268.2 437.1,268.5 437.5,268.7 437.9,268.9 438.3,269.2 438.7,269.4 439.0,269.6 439.4,269.7 439.8,269.9 440.2,270.0 440.6,270.1 441.0,270.2 441.4,270.3 441.8,270.3 442.1,270.3 442.5,270.3 442.9,270.2 443.3,270.1 443.7,270.0 444.1,269.8 444.5,269.6 444.9,269.4 445.2,269.2 445.6,269.0 446.0,268.8 446.4,268.7 446.8,268.5 447.2,268.3 447.6,268.1 448.0,268.0 448.3,267.9 448.7,267.8 449.1,267.8 449.5,267.8 449.9,267.8 450.3,267.9 450.7,268.0 451.1,268.1 451.4,268.2 451.8,268.4 452.2,268.6 452.6,268.7 453.0,268.9 453.4,269.1 453.8,269.3 454.2,269.4 454.5,269.6 454.9,269.8 455.3,269.9 455.7,270.1 456.1,270.3 456.5,270.4 456.9,270.6 457.3,270.8 457.6,271.0 458.0,271.2 458.4,271.4 458.8,271.6 459.2,271.8 459.6,271.9 460.0,272.1 460.4,272.2 460.7,272.4 461.1,272.5 461.5,272.6 461.9,272.8 462.3,272.9 462.7,273.0 463.1,273.2 463.5,273.3 463.8,273.4 464.2,273.5 464.6,273.7 465.0,273.8 465.4,273.9 465.8,274.0 466.2,274.1 466.6,274.2 466.9,274.3 467.3,274.4 467.7,274.5 468.1,274.5 468.5,274.6 468.9,274.6 469.3,274.7 469.7,274.7 470.0,274.7 470.4,274.7 470.8,274.7 471.2,274.7 471.6,274.7 472.0,274.7 472.4,274.6 472.8,274.6 473.1,274.5 473.5,274.5 473.9,274.4 474.3,274.4 474.7,274.3 475.1,274.3 475.5,274.2 475.9,274.2 476.2,274.1 476.6,274.1 477.0,274.0 477.4,274.0 477.8,274.0 478.2,273.9 478.6,273.9 479.0,273.9 479.3,273.9 479.7,273.8 480.1,273.8 480.5,273.8 480.9,273.8 481.3,273.7 481.7,273.7 482.1,273.7 482.4,273.6 482.8,273.6 483.2,273.6 483.6,273.6 484.0,273.6 484.4,273.5 484.8,273.5 485.2,273.5 485.6,273.5 485.9,273.5 486.3,273.5 486.7,273.5 487.1,273.5 487.5,273.5 487.9,273.5 488.3,273.5 488.7,273.5 489.0,273.5 489.4,273.6 489.8,273.6 490.2,273.7 490.6,273.7 491.0,273.8 491.4,273.8 491.8,273.9 492.1,274.0 492.5,274.0 492.9,274.1 493.3,274.2 493.7,274.2 494.1,274.3 494.5,274.4 494.9,274.5 495.2,274.5 495.6,274.6 496.0,274.6 496.4,274.7 496.8,274.7 497.2,274.7 497.6,274.8 498.0,274.8 498.3,274.9 498.7,274.9 499.1,274.9 499.5,275.0 499.9,275.0 500.3,275.0 500.7,275.1 501.1,275.1 501.4,275.1 501.8,275.2 502.2,275.2 502.6,275.2 503.0,275.3 503.4,275.3 503.8,275.3 504.2,275.3 504.5,275.4 504.9,275.4 505.3,275.4 505.7,275.4 506.1,275.4 506.5,275.4 506.9,275.5 507.3,275.5 507.6,275.5 508.0,275.5 508.4,275.4 508.8,275.3 509.2,275.0 509.6,274.7 510.0,274.4 510.4,274.0 510.7,273.6 511.1,273.1 511.5,272.1 511.9,270.7 512.3,269.0 512.7,267.1 513.1,265.1 513.5,263.2 513.8,261.7 514.2,260.5 514.6,259.4 515.0,258.3 515.4,257.2 515.8,256.2 516.2,255.3 516.6,254.5 516.9,254.0 517.3,253.6 517.7,253.6 518.1,253.8 518.5,254.3 518.9,254.8 519.3,255.4 519.7,255.9 520.0,256.5 520.4,257.1 520.8,257.7 521.2,258.3 521.6,258.9 522.0,259.4 522.4,260.0 522.8,260.5 523.1,261.0 523.5,261.5 523.9,261.9 524.3,262.4 524.7,262.8 525.1,263.3 525.5,263.7 525.9,264.2 526.2,264.6 526.6,265.0 527.0,265.4 527.4,265.8 527.8,266.3 528.2,266.7 528.6,267.0 529.0,267.4 529.3,267.7 529.7,267.9 530.1,268.2 530.5,268.5 530.9,268.7 531.3,269.0 531.7,269.2 532.1,269.4 532.4,269.6 532.8,269.8 533.2,269.9 533.6,270.1 534.0,270.2" class="c0" clip-path="url(#clip1)"/>
<polyline points="49.5,275.2 49.9,275.2 50.3,275.1 50.7,275.0 51.1,274.8 51.4,274.6 51.8,274.3 52.2,274.0 52.6,273.6 53.0,273.0 53.4,272.1 53.8,271.0 54.2,269.8 54.5,268.6 54.9,267.3 55.3,265.9 55.7,264.3 56.1,262.5 56.5,260.9 56.9,259.4 57.3,258.3 57.6,257.1 58.0,256.0 58.4,255.0 58.8,254.1 59.2,253.5 59.6,253.2 60.0,253.3 60.4,253.6 60.7,254.2 61.1,254.9 61.5,255.6 61.9,256.1 62.3,256.5 62.7,256.8 63.1,257.1 63.5,257.4 63.8,257.6 64.2,257.8 64.6,258.0 65.0,258.2 65.4,258.4 65.8,258.5 66.2,258.6 66.6,258.8 66.9,258.9 67.3,259.0 67.7,259.1 68.1,259.3 68.5,259.4 68.9,259.6 69.3,259.9 69.7,260.1 70.0,260.4 70.4,260.7 70.8,261.0 71.2,261.3 71.6,261.6 72.0,261.9 72.4,262.2 72.8,262.6 73.1,262.9 73.5,263.2 73.9,263.5 74.3,263.8 74.7,264.1 75.1,264.4 75.5,264.7 75.9,265.0 76.2,265.3 76.6,265.6 77.0,265.9 77.4,266.2 77.8,266.6 78.2,266.8 78.6,267.1 79.0,267.4 79.3,267.7 79.7,267.9 80.1,268.2 80.5,268.4 80.9,268.6 81.3,268.8 81.7,269.0 82.1,269.2 82.4,269.4 82.8,269.6 83.2,269.8 83.6,270.0 84.0,270.2 84.4,270.4 84.8,270.5 85.2,270.7 85.5,270.9 85.9,271.0 86.3,271.2 86.7,271.3 87.1,271.5 87.5,271.6 87.9,271.8 88.3,271.9 88.6,272.0 89.0,272.2 89.4,272.3 89.8,272.4 90.2,272.6 90.6,272.7 91.0,272.8 91.4,272.9 91.7,273.0 92.1,273.1 92.5,273.2 92.9,273.3 93.3,273.4 93.7,273.4 94.1,273.5 94.5,273.6 94.8,273.7 95.2,273.8 95.6,273.9 96.0,274.0 96.4,274.1 96.8,274.1 97.2,274.2 97.6,274.3 98.0,274.4 98.3,274.4 98.7,274.5 99.1,274.5 99.5,274.6 99.9,274.6 100.3,274.7 100.7,274.7 101.1,274.7 101.4,274.7 101.8,274.7 102.2,274.7 102.6,274.7 103.0,274.7 103.4,274.6 103.8,274.6 104.2,274.6 104.5,274.5 104.9,274.4 105.3,274.4 105.7,274.3 106.1,274.2 106.5,274.2 106.9,274.1 107.3,274.0 107.6,274.0 108.0,273.9 108.4,273.8 108.8,273.7 109.2,273.5 109.6,273.4 110.0,273.3 110.4,273.1 110.7,273.0 111.1,272.9 111.5,272.8 111.9,272.7 112.3,272.6 112.7,272.5 113.1,272.5 113.5,272.4 113.8,272.5 114.2,272.5 114.6,272.5 115.0,272.6 115.4,272.6 115.8,272.7 116.2,272.8 116.6,272.9 116.9,273.0 117.3,273.0 117.7,273.1 118.1,273.2 118.5,273.2 118.9,273.3 119.3,273.4 119.7,273.5 120.0,273.6 120.4,273.6 120.8,273.7 121.2,273.8 121.6,273.9 122.0,273.9 122.4,273.9 122.8,274.0 123.1,273.9 123.5,273.7 123.9,273.3 124.3,272.7 124.7,272.1 125.1,271.3 125.5,270.5 125.9,269.6 126.2,268.7 126.6,267.8 127.0,266.6 127.4,265.2 127.8,263.5 128.2,261.8 128.6,260.1 129.0,258.4 129.3,257.0 129.7,255.9 130.1,254.7 130.5,253.5 130.9,252.4 131.3,251.5 131.7,250.9 132.1,250.7 132.4,250.8 132.8,251.2 133.2,251.7 133.6,252.4 134.0,253.1 134.4,253.8 134.8,254.4 135.2,255.0 135.5,255.6 135.9,256.1 136.3,256.7 136.7,257.3 137.1,257.9 137.5,258.4 137.9,259.0 138.3,259.4 138.6,259.8 139.0,260.2 139.4,260.5 139.8,260.8 140.2,261.1 140.6,261.3 141.0,261.6 141.4,261.8 141.7,262.0 142.1,262.2 142.5,262.4 142.9,262.6 143.3,262.8 143.7,263.0 144.1,263.2 144.5,263.4 144.8,263.6 145.2,263.8 145.6,264.0 146.0,264.3 146.4,264.5 146.8,264.7 147.2,265.0 147.6,265.3 148.0,265.5 148.3,265.8 148.7,266.1 149.1,266.3 149.5,266.6 149.9,266.9 150.3,267.1 150.7,267.4 151.1,267.6 151.4,267.9 151.8,268.1 152.2,268.4 152.6,268.6 153.0,268.8 153.4,269.0 153.8,269.2 154.2,269.4 154.5,269.6 154.9,269.8 155.3,270.0 155.7,270.2 156.1,270.4 156.5,270.6 156.9,270.8 157.3,271.0 157.6,271.1 158.0,271.3 158.4,271.5 158.8,271.6 159.2,271.8 159.6,272.0 160.0,272.1 160.4,272.2 160.7,272.4 161.1,272.5 161.5,272.6 161.9,272.8 162.3,272.9 162.7,273.1 163.1,273.2 163.5,273.3 163.8,273.5 164.2,273.6 164.6,273.8 165.0,273.9 165.4,274.0 165.8,274.1 166.2,274.2 166.6,274.3 166.9,274.4 167.3,274.5 167.7,274.6 168.1,274.6 168.5,274.7 168.9,274.7 169.3,274.7 169.7,274.7 170.0,274.7 170.4,274.7 170.8,274.6 171.2,274.6 171.6,274.5 172.0,274.5 172.4,274.4 172.8,274.3 173.1,274.2 173.5,274.1 173.9,274.0 174.3,273.9 174.7,273.8 175.1,273.6 175.5,273.5 175.9,273.3 176.2,273.0 176.6,272.7 177.0,272.4 177.4,272.0 177.8,271.6 178.2,271.1 178.6,270.7 179.0,270.3 179.3,269.9 179.7,269.4 180.1,269.0 180.5,268.4 180.9,267.9 181.3,267.4 181.7,267.0 182.1,266.8 182.4,266.8 182.8,266.9 183.2,267.1 183.6,267.4 184.0,267.7 184.4,268.0 184.8,268.3 185.2,268.5 185.5,268.7 185.9,268.9 186.3,269.1 186.7,269.3 187.1,269.4 187.5,269.6 187.9,269.8 188.3,269.9 188.6,270.0 189.0,270.1 189.4,270.2 189.8,270.2 190.2,270.2 190.6,270.1 191.0,270.1 191.4,270.0 191.7,269.9 192.1,269.8 192.5,269.7 192.9,269.6 193.3,269.5 193.7,269.4 194.1,269.3 194.5,269.2 194.8,269.2 195.2,269.1 195.6,269.1 196.0,269.1 196.4,269.0 196.8,269.1 197.2,269.2 197.6,269.3 198.0,269.5 198.3,269.7 198.7,269.9 199.1,270.1 199.5,270.2 199.9,270.4 200.3,270.5 200.7,270.7 201.1,270.8 201.4,271.0 201.8,271.2 202.2,271.4 202.6,271.5 203.0,271.7 203.4,271.9 203.8,272.0 204.2,272.2 204.5,272.3 204.9,272.5 205.3,272.6 205.7,272.8 206.1,272.9 206.5,273.1 206.9,273.2 207.3,273.3 207.6,273.4 208.0,273.6 208.4,273.7 208.8,273.8 209.2,274.0 209.6,274.1 210.0,274.2 210.4,274.4 210.7,274.5 211.1,274.6 211.5,274.7 211.9,274.8 212.3,274.9 212.7,275.0 213.1,275.1 213.5,275.2 213.8,275.2 214.2,275.3 214.6,275.3 215.0,275.3 215.4,275.3 215.8,275.3 216.2,275.3 216.6,275.2 216.9,275.0 217.3,274.9 217.7,274.7 218.1,274.5 218.5,274.3 218.9,274.1 219.3,273.8 219.7,273.6 220.0,273.4 220.4,273.1 220.8,272.9 221.2,272.7 221.6,272.5 222.0,272.2 222.4,271.9 222.8,271.6 223.1,271.3 223.5,271.0 223.9,270.7 224.3,270.5 224.7,270.3 225.1,270.2 225.5,270.2 225.9,270.2 226.2,270.3 226.6,270.3 227.0,270.4 227.4,270.6 227.8,270.7 228.2,270.9 228.6,271.0 229.0,271.2 229.3,271.4 229.7,271.6 230.1,271.7 230.5,271.9 230.9,272.0 231.3,272.2 231.7,272.3 232.1,272.4 232.4,272.5 232.8,272.6 233.2,272.8 233.6,272.9 234.0,273.0 234.4,273.1 234.8,273.2 235.2,273.3 235.5,273.4 235.9,273.5 236.3,273.6 236.7,273.7 237.1,273.7 237.5,273.8 237.9,273.8 238.3,273.8 238.6,273.8 239.0,273.8 239.4,273.7 239.8,273.6 240.2,273.4 240.6,273.2 241.0,273.0 241.4,272.7 241.7,272.4 242.1,272.2 242.5,271.9 242.9,271.6 243.3,271.3 243.7,270.9 244.1,270.4 244.5,270.0 244.9,269.6 245.2,269.3 245.6,269.2 246.0,269.2 246.4,269.3 246.8,269.4 247.2,269.6 247.6,269.8 248.0,270.0 248.3,270.2 248.7,270.3 249.1,270.4 249.5,270.4 249.9,270.1 250.3,269.3 250.7,268.1 251.1,266.6 251.4,264.9 251.8,263.2 252.2,261.0 252.6,258.3 253.0,255.2 253.4,251.9 253.8,248.4 254.2,244.8 254.5,240.8 254.9,236.6 255.3,232.0 255.7,227.3 256.1,222.1 256.5,215.7 256.9,209.3 257.3,204.3 257.6,201.1 258.0,198.1 258.4,195.5 258.8,193.4 259.2,192.1 259.6,191.6 260.0,191.9 260.4,192.8 260.7,194.1 261.1,195.5 261.5,197.0 261.9,198.9 262.3,201.0 262.7,203.1 263.1,205.2 263.5,207.3 263.8,209.5 264.2,211.7 264.6,213.9 265.0,216.2 265.4,218.3 265.8,220.5 266.2,222.6 266.6,224.7 266.9,226.9 267.3,229.1 267.7,231.3 268.1,233.4 268.5,235.4 268.9,237.2 269.3,238.9 269.7,240.3 270.0,241.4 270.4,242.5 270.8,243.5 271.2,244.4 271.6,245.3 272.0,246.1 272.4,246.9 272.8,247.6 273.1,248.3 273.5,249.0 273.9,249.7 274.3,250.4 274.7,251.2 275.1,251.9 275.5,252.7 275.9,253.5 276.2,254.2 276.6,255.0 277.0,255.8 277.4,256.6 277.8,257.3 278.2,258.1 278.6,258.8 279.0,259.4 279.3,260.1 279.7,260.7 280.1,261.2 280.5,261.8 280.9,262.3 281.3,262.7 281.7,263.2 282.1,263.7 282.4,264.1 282.8,264.6 283.2,265.0 283.6,265.3 284.0,265.7 284.4,266.0 284.8,266.3 285.2,266.6 285.5,266.8 285.9,267.1 286.3,267.3 286.7,267.5 287.1,267.8 287.5,268.0 287.9,268.2 288.3,268.4 288.6,268.6 289.0,268.8 289.4,269.0 289.8,269.1 290.2,269.3 290.6,269.4 291.0,269.6 291.4,269.7 291.8,269.8 292.1,269.9 292.5,270.0 292.9,270.1 293.3,270.1 293.7,270.2 294.1,270.2 294.5,270.2 294.9,270.3 295.2,270.3 295.6,270.3 296.0,270.3 296.4,270.4 296.8,270.4 297.2,270.4 297.6,270.4 298.0,270.4 298.3,270.4 298.7,270.4 299.1,270.4 299.5,270.4 299.9,270.4 300.3,270.4 300.7,270.4 301.1,270.4 301.4,270.3 301.8,270.3 302.2,270.2 302.6,270.2 303.0,270.1 303.4,270.1 303.8,270.0 304.2,270.0 304.5,269.9 304.9,269.8 305.3,269.7 305.7,269.7 306.1,269.6 306.5,269.5 306.9,269.4 307.3,269.2 307.6,269.1 308.0,268.9 308.4,268.7 308.8,268.6 309.2,268.5 309.6,268.4 310.0,268.3 310.4,268.3 310.7,268.5 311.1,268.8 311.5,269.1 311.9,269.5 312.3,269.9 312.7,270.3 313.1,270.5 313.5,270.7 313.8,270.7 314.2,270.6 314.6,270.4 315.0,270.2 315.4,269.9 315.8,269.6 316.2,269.2 316.6,268.8 316.9,267.3 317.3,264.8 317.7,261.5 318.1,257.7 318.5,253.9 318.9,250.3 319.3,247.2 319.7,244.9 320.0,242.7 320.4,240.6 320.8,238.6 321.2,236.7 321.6,235.0 322.0,233.5 322.4,232.2 322.8,231.1 323.1,230.2 323.5,229.4 323.9,228.6 324.3,227.9 324.7,227.4 325.1,227.0 325.5,227.0 325.9,227.5 326.2,228.5 326.6,230.1 327.0,231.9 327.4,233.9 327.8,235.9 328.2,237.9 328.6,239.7 329.0,241.2 329.3,242.5 329.7,243.8 330.1,245.0 330.5,246.3 330.9,247.5 331.3,248.7 331.7,249.8 332.1,250.8 332.4,251.8 332.8,252.7 333.2,253.5 333.6,254.2 334.0,254.7 334.4,255.3 334.8,255.8 335.2,256.2 335.5,256.7 335.9,257.1 336.3,257.5 336.7,257.9 337.1,258.2 337.5,258.6 337.9,258.9 338.3,259.2 338.6,259.5 339.0,259.9 339.4,260.2 339.8,260.5 340.2,260.8 340.6,261.1 341.0,261.4 341.4,261.8 341.8,262.1 342.1,262.4 342.5,262.8 342.9,263.1 343.3,263.4 343.7,263.7 344.1,264.0 344.5,264.4 344.9,264.7 345.2,265.0 345.6,265.3 346.0,265.6 346.4,265.9 346.8,266.1 347.2,266.4 347.6,266.7 348.0,267.0 348.3,267.2 348.7,267.5 349.1,267.8 349.5,268.0 349.9,268.3 350.3,268.5 350.7,268.7 351.1,269.0 351.4,269.2 351.8,269.5 352.2,269.7 352.6,270.0 353.0,270.2 353.4,270.5 353.8,270.7 354.2,270.9 354.5,271.2 354.9,271.4 355.3,271.5 355.7,271.7 356.1,271.8 356.5,271.9 356.9,272.0 357.3,272.1 357.6,272.1 358.0,272.0 358.4,271.9 358.8,271.8 359.2,271.6 359.6,271.4 360.0,271.2 360.4,270.9 360.7,270.7 361.1,270.3 361.5,269.8 361.9,269.2 362.3,268.6 362.7,267.9 363.1,267.1 363.5,266.4 363.8,265.8 364.2,265.1 364.6,264.6 365.0,264.2 365.4,263.9 365.8,263.8 366.2,263.8 366.6,263.8 366.9,264.0 367.3,264.1 367.7,264.3 368.1,264.5 368.5,264.7 368.9,264.9 369.3,265.1 369.7,265.4 370.0,265.6 370.4,265.9 370.8,266.2 371.2,266.5 371.6,266.8 372.0,267.0 372.4,267.2 372.8,267.3 373.1,267.3 373.5,267.2 373.9,267.1 374.3,267.0 374.7,266.9 375.1,266.7 375.5,266.5 375.9,266.3 376.2,266.1 376.6,265.9 377.0,265.8 377.4,265.6 377.8,265.3 378.2,265.1 378.6,264.8 379.0,264.5 379.3,264.2 379.7,263.9 380.1,263.7 380.5,263.4 380.9,263.3 381.3,263.2 381.7,263.1 382.1,263.2 382.4,263.2 382.8,263.4 383.2,263.6 383.6,263.8 384.0,264.0 384.4,264.3 384.8,264.5 385.2,264.8 385.5,265.2 385.9,265.6 386.3,266.0 386.7,266.4 387.1,266.7 387.5,267.1 387.9,267.4 388.3,267.8 388.6,268.1 389.0,268.5 389.4,268.8 389.8,269.0 390.2,269.2 390.6,269.4 391.0,269.4 391.4,269.4 391.8,269.3 392.1,269.2 392.5,269.1 392.9,268.9 393.3,268.8 393.7,268.6 394.1,268.4 394.5,268.3 394.9,268.1 395.2,268.0 395.6,267.8 396.0,267.6 396.4,267.5 396.8,267.3 397.2,267.2 397.6,267.0 398.0,266.9 398.3,266.8 398.7,266.7 399.1,266.6 399.5,266.5 399.9,266.4 400.3,266.4 400.7,266.3 401.1,266.3 401.4,266.3 401.8,266.2 402.2,266.2 402.6,266.1 403.0,266.1 403.4,266.1 403.8,266.0 404.2,266.0 404.5,266.0 404.9,265.9 405.3,265.8 405.7,265.8 406.1,265.7 406.5,265.6 406.9,265.5 407.3,265.4 407.6,265.2 408.0,264.9 408.4,264.5 408.8,264.1 409.2,263.7 409.6,263.2 410.0,262.7 410.4,262.1 410.7,261.6 411.1,261.0 411.5,260.4 411.9,259.7 412.3,259.0 412.7,258.1 413.1,257.1 413.5,256.1 413.8,255.1 414.2,254.0 414.6,253.0 415.0,252.0 415.4,250.8 415.8,249.6 416.2,248.3 416.6,247.4 416.9,246.8 417.3,246.8 417.7,246.8 418.1,247.0 418.5,247.2 418.9,247.4 419.3,247.8 419.7,248.1 420.0,248.5 420.4,248.9 420.8,249.3 421.2,249.7 421.6,250.1 422.0,250.4 422.4,250.8 422.8,251.2 423.1,251.6 423.5,252.1 423.9,252.5 424.3,253.0 424.7,253.5 425.1,254.0 425.5,254.5 425.9,255.0 426.2,255.5 426.6,256.0 427.0,256.5 427.4,256.9 427.8,257.4 428.2,257.9 428.6,258.3 429.0,258.7 429.3,259.1 429.7,259.6 430.1,260.0 430.5,260.4 430.9,260.9 431.3,261.3 431.7,261.7 432.1,262.1 432.4,262.5 432.8,262.9 433.2,263.4 433.6,263.7 434.0,264.1 434.4,264.5 434.8,264.8 435.2,265.2 435.5,265.5 435.9,265.8 436.3,266.1 436.7,266.4 437.1,266.7 437.5,266.9 437.9,267.2 438.3,267.4 438.7,267.6 439.0,267.9 439.4,268.1 439.8,268.3 440.2,268.5 440.6,268.7 441.0,269.0 441.4,269.2 441.8,269.3 442.1,269.5 442.5,269.7 442.9,269.9 443.3,270.1 443.7,270.3 444.1,270.4 444.5,270.6 444.9,270.7 445.2,270.9 445.6,271.0 446.0,271.2 446.4,271.3 446.8,271.4 447.2,271.6 447.6,271.7 448.0,271.8 448.3,271.9 448.7,272.0 449.1,272.1 449.5,272.2 449.9,272.3 450.3,272.4 450.7,272.5 451.1,272.6 451.4,272.6 451.8,272.8 452.2,272.9 452.6,273.0 453.0,273.1 453.4,273.2 453.8,273.3 454.2,273.4 454.5,273.5 454.9,273.6 455.3,273.7 455.7,273.8 456.1,273.9 456.5,274.0 456.9,274.1 457.3,274.2 457.6,274.3 458.0,274.4 458.4,274.5 458.8,274.6 459.2,274.7 459.6,274.8 460.0,274.8 460.4,274.9 460.7,274.9 461.1,275.0 461.5,275.0 461.9,275.1 462.3,275.1 462.7,275.2 463.1,275.2 463.5,275.3 463.8,275.3 464.2,275.3 464.6,275.4 465.0,275.4 465.4,275.5 465.8,275.5 466.2,275.5 466.6,275.6 466.9,275.6 467.3,275.6 467.7,275.6 468.1,275.7 468.5,275.7 468.9,275.7 469.3,275.7 469.7,275.7 470.0,275.7 470.4,275.7 470.8,275.7 471.2,275.7 471.6,275.7 472.0,275.6 472.4,275.6 472.8,275.5 473.1,275.4 473.5,275.4 473.9,275.3 474.3,275.2 474.7,275.2 475.1,275.1 475.5,275.0 475.9,274.9 476.2,274.9 476.6,274.8 477.0,274.7 477.4,274.7 477.8,274.7 478.2,274.6 478.6,274.6 479.0,274.6 479.3,274.6 479.7,274.6 480.1,274.6 480.5,274.6 480.9,274.5 481.3,274.5 481.7,274.5 482.1,274.5 482.4,274.5 482.8,274.5 483.2,274.5 483.6,274.5 484.0,274.5 484.4,274.5 484.8,274.5 485.2,274.5 485.6,274.5 485.9,274.5 486.3,274.5 486.7,274.5 487.1,274.5 487.5,274.5 487.9,274.5 488.3,274.5 488.7,274.5 489.0,274.5 489.4,274.5 489.8,274.6 490.2,274.6 490.6,274.6 491.0,274.7 491.4,274.7 491.8,274.8 492.1,274.8 492.5,274.8 492.9,274.9 493.3,274.9 493.7,275.0 494.1,275.0 494.5,275.0 494.9,275.1 495.2,275.1 495.6,275.1 496.0,275.2 496.4,275.2 496.8,275.2 497.2,275.2 497.6,275.2 498.0,275.3 498.3,275.3 498.7,275.3 499.1,275.3 499.5,275.3 499.9,275.3 500.3,275.3 500.7,275.3 501.1,275.4 501.4,275.4 501.8,275.4 502.2,275.4 502.6,275.4 503.0,275.4 503.4,275.4 503.8,275.4 504.2,275.4 504.5,275.4 504.9,275.4 505.3,275.5 505.7,275.5 506.1,275.5 506.5,275.5 506.9,275.5 507.3,275.5 507.6,275.5 508.0,275.5 508.4,275.4 508.8,275.3 509.2,275.0 509.6,274.7 510.0,274.4 510.4,274.0 510.7,273.6 511.1,273.1 511.5,272.1 511.9,270.7 512.3,269.0 512.7,267.1 513.1,265.1 513.5,263.2 513.8,261.7 514.2,260.5 514.6,259.4 515.0,258.3 515.4,257.2 515.8,256.2 516.2,255.3 516.6,254.5 516.9,254.0 517.3,253.6 517.7,253.5 518.1,253.7 518.5,253.9 518.9,254.3 519.3,254.7 519.7,255.2 520.0,255.8 520.4,256.4 520.8,256.9 521.2,257.4 521.6,257.9 522.0,258.3 522.4,258.7 522.8,259.0 523.1,259.4 523.5,259.7 523.9,260.0 524.3,260.4 524.7,260.7 525.1,261.0 525.5,261.3 525.9,261.6 526.2,261.9 526.6,262.2 527.0,262.5 527.4,262.7 527.8,263.0 528.2,263.2 528.6,263.5 529.0,263.7 529.3,264.0 529.7,264.2 530.1,264.4 530.5,264.7 530.9,264.9 531.3,265.1 531.7,265.3 532.1,265.5 532.4,265.7 532.8,265.9 533.2,266.1 533.6,266.2 534.0,266.4" class="c1" clip-path="url(#clip1)"/>
<polyline points="49.5,275.2 49.9,275.2 50.3,275.2 50.7,275.1 51.1,275.0 51.4,274.9 51.8,274.8 52.2,274.7 52.6,274.5 53.0,274.0 53.4,273.2 53.8,272.3 54.2,271.2 54.5,270.0 54.9,268.8 55.3,267.7 55.7,266.4 56.1,264.9 56.5,263.4 56.9,261.8 57.3,260.4 57.6,259.1 58.0,258.0 58.4,257.0 58.8,255.9 59.2,255.0 59.6,254.2 60.0,253.8 60.4,253.7 60.7,254.0 61.1,254.6 61.5,255.3 61.9,256.2 62.3,257.0 62.7,257.7 63.1,258.0 63.5,258.2 63.8,258.3 64.2,258.4 64.6,258.5 65.0,258.5 65.4,258.6 65.8,258.6 66.2,258.6 66.6,258.5 66.9,258.4 67.3,258.3 67.7,258.2 68.1,258.1 68.5,258.1 68.9,258.1 69.3,258.1 69.7,258.1 70.0,258.1 70.4,258.1 70.8,258.1 71.2,258.2 71.6,258.4 72.0,258.7 72.4,259.0 72.8,259.4 73.1,259.8 73.5,260.2 73.9,260.7 74.3,261.1 74.7,261.5 75.1,261.9 75.5,262.2 75.9,262.6 76.2,262.9 76.6,263.2 77.0,263.6 77.4,263.9 77.8,264.3 78.2,264.6 78.6,264.9 79.0,265.3 79.3,265.6 79.7,265.9 80.1,266.3 80.5,266.6 80.9,266.9 81.3,267.2 81.7,267.5 82.1,267.8 82.4,268.2 82.8,268.5 83.2,268.8 83.6,269.2 84.0,269.5 84.4,269.8 84.8,270.1 85.2,270.4 85.5,270.7 85.9,271.0 86.3,271.2 86.7,271.4 87.1,271.5 87.5,271.7 87.9,271.8 88.3,271.9 88.6,272.0 89.0,272.1 89.4,272.2 89.8,272.3 90.2,272.3 90.6,272.4 91.0,272.5 91.4,272.5 91.7,272.6 92.1,272.7 92.5,272.8 92.9,272.8 93.3,272.9 93.7,272.9 94.1,273.0 94.5,273.1 94.8,273.2 95.2,273.2 95.6,273.3 96.0,273.4 96.4,273.5 96.8,273.5 97.2,273.6 97.6,273.7 98.0,273.8 98.3,273.9 98.7,273.9 99.1,274.0 99.5,274.1 99.9,274.2 100.3,274.2 100.7,274.3 101.1,274.3 101.4,274.4 101.8,274.4 102.2,274.4 102.6,274.5 103.0,274.5 103.4,274.5 103.8,274.5 104.2,274.5 104.5,274.4 104.9,274.4 105.3,274.4 105.7,274.4 106.1,274.4 106.5,274.4 106.9,274.3 107.3,274.3 107.6,274.3 108.0,274.3 108.4,274.2 108.8,274.2 109.2,274.2 109.6,274.1 110.0,274.1 110.4,274.1 110.7,274.1 111.1,274.0 111.5,274.0 111.9,274.0 112.3,273.9 112.7,273.9 113.1,273.8 113.5,273.8 113.8,273.7 114.2,273.7 114.6,273.6 115.0,273.6 115.4,273.6 115.8,273.5 116.2,273.5 116.6,273.5 116.9,273.5 117.3,273.5 117.7,273.5 118.1,273.5 118.5,273.6 118.9,273.6 119.3,273.7 119.7,273.8 120.0,273.9 120.4,274.0 120.8,274.1 121.2,274.2 121.6,274.3 122.0,274.4 122.4,274.4 122.8,274.5 123.1,274.5 123.5,274.3 123.9,274.0 124.3,273.4 124.7,272.7 125.1,271.9 125.5,271.0 125.9,270.0 126.2,269.0 126.6,268.0 127.0,266.8 127.4,265.3 127.8,263.6 128.2,261.9 128.6,260.1 129.0,258.4 129.3,256.8 129.7,255.6 130.1,254.6 130.5,253.6 130.9,252.7 131.3,251.8 131.7,251.0 132.1,250.2 132.4,249.5 132.8,249.0 133.2,248.6 133.6,248.4 134.0,248.4 134.4,248.7 134.8,249.2 135.2,249.9 135.5,250.7 135.9,251.7 136.3,252.7 136.7,253.7 137.1,254.8 137.5,255.8 137.9,256.7 138.3,257.5 138.6,258.1 139.0,258.6 139.4,258.9 139.8,259.2 140.2,259.5 140.6,259.8 141.0,260.1 141.4,260.3 141.7,260.6 142.1,260.8 142.5,261.0 142.9,261.2 143.3,261.4 143.7,261.6 144.1,261.8 144.5,261.9 144.8,262.1 145.2,262.3 145.6,262.5 146.0,262.8 146.4,263.0 146.8,263.2 147.2,263.5 147.6,263.7 148.0,263.9 148.3,264.1 148.7,264.4 149.1,264.6 149.5,264.9 149.9,265.1 150.3,265.3 150.7,265.5 151.1,265.8 151.4,266.0 151.8,266.2 152.2,266.5 152.6,266.7 153.0,266.9 153.4,267.1 153.8,267.3 154.2,267.5 154.5,267.7 154.9,267.9 155.3,268.2 155.7,268.3 156.1,268.5 156.5,268.7 156.9,268.9 157.3,269.1 157.6,269.3 158.0,269.4 158.4,269.6 158.8,269.8 159.2,270.0 159.6,270.1 160.0,270.3 160.4,270.5 160.7,270.6 161.1,270.8 161.5,270.9 161.9,271.1 162.3,271.3 162.7,271.4 163.1,271.6 163.5,271.7 163.8,271.8 164.2,272.0 164.6,272.1 165.0,272.2 165.4,272.4 165.8,272.5 166.2,272.6 166.6,272.7 166.9,272.8 167.3,273.0 167.7,273.1 168.1,273.2 168.5,273.3 168.9,273.4 169.3,273.5 169.7,273.6 170.0,273.7 170.4,273.9 170.8,274.0 171.2,274.1 171.6,274.1 172.0,274.2 172.4,274.3 172.8,274.4 173.1,274.5 173.5,274.5 173.9,274.6 174.3,274.6 174.7,274.7 175.1,274.7 175.5,274.7 175.9,274.7 176.2,274.8 176.6,274.8 177.0,274.8 177.4,274.8 177.8,274.8 178.2,274.8 178.6,274.9 179.0,274.9 179.3,274.9 179.7,274.9 180.1,274.9 180.5,274.9 180.9,274.9 181.3,274.9 181.7,274.9 182.1,275.0 182.4,275.0 182.8,275.0 183.2,275.0 183.6,275.0 184.0,275.0 184.4,275.0 184.8,274.9 185.2,274.9 185.5,274.9 185.9,274.8 186.3,274.8 186.7,274.7 187.1,274.7 187.5,274.6 187.9,274.5 188.3,274.5 188.6,274.4 189.0,274.3 189.4,274.2 189.8,274.1 190.2,274.0 190.6,273.9 191.0,273.7 191.4,273.5 191.7,273.3 192.1,273.1 192.5,272.9 192.9,272.6 193.3,272.4 193.7,272.2 194.1,272.0 194.5,271.8 194.8,271.7 195.2,271.6 195.6,271.6 196.0,271.6 196.4,271.6 196.8,271.6 197.2,271.7 197.6,271.7 198.0,271.8 198.3,271.9 198.7,271.9 199.1,272.0 199.5,272.1 199.9,272.2 200.3,272.3 200.7,272.4 201.1,272.5 201.4,272.6 201.8,272.7 202.2,272.9 202.6,273.0 203.0,273.1 203.4,273.3 203.8,273.4 204.2,273.5 204.5,273.7 204.9,273.8 205.3,273.9 205.7,274.0 206.1,274.1 206.5,274.2 206.9,274.3 207.3,274.3 207.6,274.4 208.0,274.5 208.4,274.6 208.8,274.6 209.2,274.7 209.6,274.8 210.0,274.8 210.4,274.9 210.7,274.9 211.1,275.0 211.5,275.1 211.9,275.1 212.3,275.2 212.7,275.2 213.1,275.2 213.5,275.3 213.8,275.3 214.2,275.3 214.6,275.3 215.0,275.3 215.4,275.3 215.8,275.3 216.2,275.3 216.6,275.2 216.9,275.0 217.3,274.9 217.7,274.7 218.1,274.5 218.5,274.3 218.9,274.1 219.3,273.8 219.7,273.6 220.0,273.4 220.4,273.1 220.8,272.9 221.2,272.7 221.6,272.5 222.0,272.2 222.4,271.9 222.8,271.6 223.1,271.3 223.5,271.0 223.9,270.7 224.3,270.5 224.7,270.3 225.1,270.2 225.5,270.2 225.9,270.2 226.2,270.3 226.6,270.3 227.0,270.4 227.4,270.6 227.8,270.7 228.2,270.9 228.6,271.0 229.0,271.2 229.3,271.4 229.7,271.6 230.1,271.7 230.5,271.9 230.9,272.0 231.3,272.2 231.7,272.3 232.1,272.4 232.4,272.5 232.8,272.6 233.2,272.8 233.6,272.9 234.0,273.0 234.4,273.1 234.8,273.2 235.2,273.3 235.5,273.4 235.9,273.5 236.3,273.6 236.7,273.7 237.1,273.7 237.5,273.8 237.9,273.8 238.3,273.8 238.6,273.8 239.0,273.8 239.4,273.7 239.8,273.6 240.2,273.4 240.6,273.2 241.0,273.0 241.4,272.7 241.7,272.4 242.1,272.2 242.5,271.9 242.9,271.6 243.3,271.3 243.7,270.9 244.1,270.4 244.5,270.0 244.9,269.6 245.2,269.3 245.6,269.2 246.0,269.2 246.4,269.3 246.8,269.4 247.2,269.6 247.6,269.8 248.0,270.0 248.3,270.2 248.7,270.3 249.1,270.4 249.5,270.4 249.9,270.1 250.3,269.3 250.7,268.1 251.1,266.6 251.4,264.9 251.8,263.2 252.2,261.0 252.6,258.3 253.0,255.2 253.4,251.9 253.8,248.4 254.2,244.8 254.5,240.8 254.9,236.6 255.3,232.0 255.7,227.3 256.1,222.1 256.5,215.7 256.9,209.3 257.3,204.3 257.6,201.1 258.0,198.1 258.4,195.5 258.8,193.4 259.2,192.1 259.6,191.6 260.0,191.9 260.4,192.8 260.7,194.1 261.1,195.5 261.5,197.0 261.9,198.9 262.3,201.0 262.7,203.1 263.1,205.2 263.5,207.4 263.8,209.7 264.2,212.0 264.6,214.2 265.0,216.5 265.4,218.6 265.8,220.6 266.2,222.5 266.6,224.3 266.9,226.1 267.3,227.8 267.7,229.4 268.1,231.0 268.5,232.5 268.9,233.9 269.3,235.2 269.7,236.3 270.0,237.2 270.4,238.1 270.8,238.8 271.2,239.5 271.6,240.2 272.0,240.8 272.4,241.4 272.8,242.1 273.1,242.7 273.5,243.5 273.9,244.3 274.3,245.3 274.7,246.3 275.1,247.4 275.5,248.5 275.9,249.7 276.2,250.8 276.6,251.9 277.0,252.9 277.4,253.9 277.8,254.7 278.2,255.5 278.6,256.3 279.0,257.1 279.3,257.9 279.7,258.7 280.1,259.4 280.5,260.1 280.9,260.7 281.3,261.4 281.7,261.9 282.1,262.5 282.4,262.9 282.8,263.4 283.2,263.7 283.6,264.1 284.0,264.4 284.4,264.7 284.8,265.0 285.2,265.3 285.5,265.6 285.9,265.9 286.3,266.1 286.7,266.3 287.1,266.6 287.5,266.8 287.9,267.1 288.3,267.3 288.6,267.6 289.0,267.8 289.4,268.1 289.8,268.3 290.2,268.6 290.6,268.8 291.0,269.1 291.4,269.3 291.8,269.5 292.1,269.8 292.5,270.0 292.9,270.2 293.3,270.4 293.7,270.6 294.1,270.8 294.5,271.0 294.9,271.2 295.2,271.4 295.6,271.6 296.0,271.7 296.4,271.9 296.8,272.0 297.2,272.1 297.6,272.3 298.0,272.4 298.3,272.5 298.7,272.7 299.1,272.8 299.5,272.9 299.9,273.0 300.3,273.2 300.7,273.3 301.1,273.4 301.4,273.5 301.8,273.6 302.2,273.7 302.6,273.8 303.0,273.9 303.4,274.0 303.8,274.1 304.2,274.1 304.5,274.2 304.9,274.2 305.3,274.3 305.7,274.3 306.1,274.3 306.5,274.3 306.9,274.3 307.3,274.3 307.6,274.3 308.0,274.3 308.4,274.3 308.8,274.3 309.2,274.3 309.6,274.3 310.0,274.3 310.4,274.3 310.7,274.3 311.1,274.3 311.5,274.3 311.9,274.3 312.3,274.3 312.7,274.3 313.1,274.3 313.5,274.3 313.8,274.3 314.2,274.3 314.6,274.3 315.0,274.3 315.4,274.0 315.8,273.6 316.2,272.9 316.6,272.2 316.9,271.3 317.3,270.4 317.7,269.4 318.1,268.3 318.5,266.7 318.9,264.5 319.3,261.9 319.7,259.0 320.0,256.0 320.4,252.9 320.8,250.0 321.2,247.3 321.6,245.0 322.0,243.2 322.4,241.4 322.8,239.6 323.1,237.9 323.5,236.4 323.9,235.2 324.3,234.4 324.7,234.1 325.1,234.3 325.5,234.9 325.9,235.7 326.2,236.7 326.6,237.9 327.0,239.0 327.4,240.2 327.8,241.2 328.2,242.2 328.6,243.3 329.0,244.4 329.3,245.5 329.7,246.6 330.1,247.7 330.5,248.7 330.9,249.6 331.3,250.5 331.7,251.2 332.1,251.9 332.4,252.5 332.8,253.2 333.2,253.8 333.6,254.4 334.0,254.9 334.4,255.5 334.8,256.0 335.2,256.5 335.5,257.0 335.9,257.5 336.3,258.0 336.7,258.4 337.1,258.8 337.5,259.2 337.9,259.6 338.3,260.0 338.6,260.4 339.0,260.8 339.4,261.1 339.8,261.5 340.2,261.8 340.6,262.2 341.0,262.5 341.4,262.8 341.8,263.1 342.1,263.4 342.5,263.7 342.9,264.0 343.3,264.3 343.7,264.5 344.1,264.8 344.5,265.1 344.9,265.3 345.2,265.6 345.6,265.8 346.0,266.1 346.4,266.3 346.8,266.6 347.2,266.8 347.6,267.1 348.0,267.3 348.3,267.5 348.7,267.7 349.1,268.0 349.5,268.2 349.9,268.4 350.3,268.7 350.7,268.9 351.1,269.1 351.4,269.3 351.8,269.6 352.2,269.8 352.6,270.0 353.0,270.2 353.4,270.4 353.8,270.6 354.2,270.8 354.5,270.9 354.9,271.1 355.3,271.3 355.7,271.4 356.1,271.6 356.5,271.7 356.9,271.9 357.3,272.0 357.6,272.1 358.0,272.2 358.4,272.3 358.8,272.4 359.2,272.5 359.6,272.6 360.0,272.7 360.4,272.8 360.7,272.8 361.1,272.9 361.5,273.0 361.9,273.1 362.3,273.1 362.7,273.2 363.1,273.3 363.5,273.3 363.8,273.4 364.2,273.5 364.6,273.5 365.0,273.6 365.4,273.7 365.8,273.7 366.2,273.8 366.6,273.9 366.9,274.0 367.3,274.0 367.7,274.1 368.1,274.2 368.5,274.3 368.9,274.4 369.3,274.5 369.7,274.6 370.0,274.7 370.4,274.7 370.8,274.8 371.2,274.9 371.6,275.0 372.0,275.0 372.4,275.1 372.8,275.1 373.1,275.2 373.5,275.2 373.9,275.2 374.3,275.2 374.7,275.1 375.1,274.9 375.5,274.7 375.9,274.4 376.2,274.1 376.6,273.7 377.0,273.2 377.4,272.8 377.8,272.3 378.2,271.6 378.6,270.8 379.0,269.9 379.3,268.9 379.7,267.8 380.1,266.7 380.5,265.2 380.9,263.5 381.3,261.6 381.7,259.9 382.1,258.4 382.4,257.3 382.8,256.7 383.2,256.7 383.6,256.7 384.0,256.7 384.4,256.7 384.8,256.7 385.2,256.7 385.5,256.7 385.9,256.7 386.3,256.7 386.7,256.7 387.1,256.7 387.5,257.0 387.9,257.7 388.3,258.6 388.6,259.6 389.0,260.8 389.4,262.0 389.8,263.0 390.2,263.9 390.6,264.6 391.0,264.9 391.4,264.7 391.8,264.0 392.1,262.9 392.5,261.3 392.9,259.6 393.3,257.7 393.7,255.7 394.1,253.8 394.5,251.7 394.9,249.2 395.2,246.5 395.6,243.5 396.0,240.4 396.4,236.9 396.8,233.0 397.2,228.9 397.6,224.9 398.0,221.0 398.3,217.0 398.7,213.2 399.1,209.3 399.5,205.0 399.9,200.4 400.3,195.8 400.7,191.3 401.1,187.1 401.4,183.4 401.8,180.5 402.2,178.4 402.6,177.5 403.0,177.8 403.4,179.2 403.8,181.5 404.2,184.5 404.5,188.0 404.9,191.8 405.3,195.7 405.7,199.5 406.1,203.0 406.5,206.9 406.9,211.3 407.3,215.8 407.6,220.1 408.0,223.9 408.4,227.0 408.8,229.4 409.2,231.7 409.6,233.8 410.0,235.8 410.4,237.6 410.7,239.3 411.1,240.8 411.5,242.2 411.9,243.5 412.3,244.6 412.7,245.7 413.1,246.6 413.5,247.6 413.8,248.4 414.2,249.2 414.6,250.0 415.0,250.7 415.4,251.4 415.8,252.0 416.2,252.7 416.6,253.3 416.9,253.9 417.3,254.5 417.7,255.0 418.1,255.6 418.5,256.1 418.9,256.6 419.3,257.1 419.7,257.6 420.0,258.1 420.4,258.6 420.8,259.0 421.2,259.5 421.6,259.9 422.0,260.3 422.4,260.7 422.8,261.1 423.1,261.5 423.5,261.9 423.9,262.3 424.3,262.7 424.7,263.1 425.1,263.4 425.5,263.8 425.9,264.2 426.2,264.6 426.6,264.9 427.0,265.3 427.4,265.6 427.8,266.0 428.2,266.3 428.6,266.7 429.0,267.0 429.3,267.3 429.7,267.6 430.1,267.9 430.5,268.2 430.9,268.4 431.3,268.7 431.7,268.9 432.1,269.1 432.4,269.3 432.8,269.5 433.2,269.7 433.6,269.9 434.0,270.0 434.4,270.2 434.8,270.4 435.2,270.5 435.5,270.7 435.9,270.8 436.3,271.0 436.7,271.1 437.1,271.3 437.5,271.4 437.9,271.5 438.3,271.6 438.7,271.8 439.0,271.9 439.4,272.0 439.8,272.1 440.2,272.2 440.6,272.3 441.0,272.4 441.4,272.5 441.8,272.6 442.1,272.8 442.5,272.9 442.9,272.9 443.3,273.0 443.7,273.1 444.1,273.2 444.5,273.3 444.9,273.4 445.2,273.5 445.6,273.6 446.0,273.7 446.4,273.8 446.8,273.8 447.2,273.9 447.6,274.0 448.0,274.1 448.3,274.2 448.7,274.2 449.1,274.3 449.5,274.4 449.9,274.5 450.3,274.5 450.7,274.6 451.1,274.7 451.4,274.7 451.8,274.8 452.2,274.8 452.6,274.9 453.0,275.0 453.4,275.0 453.8,275.1 454.2,275.1 454.5,275.2 454.9,275.2 455.3,275.3 455.7,275.3 456.1,275.3 456.5,275.4 456.9,275.4 457.3,275.4 457.6,275.5 458.0,275.5 458.4,275.5 458.8,275.6 459.2,275.6 459.6,275.6 460.0,275.7 460.4,275.7 460.7,275.7 461.1,275.7 461.5,275.8 461.9,275.8 462.3,275.8 462.7,275.8 463.1,275.9 463.5,275.9 463.8,275.9 464.2,275.9 464.6,275.9 465.0,276.0 465.4,276.0 465.8,276.0 466.2,276.0 466.6,276.0 466.9,276.0 467.3,276.1 467.7,276.1 468.1,276.1 468.5,276.1 468.9,276.1 469.3,276.1 469.7,276.1 470.0,276.1 470.4,276.1 470.8,276.1 471.2,276.1 471.6,276.0 472.0,276.0 472.4,275.9 472.8,275.9 473.1,275.8 473.5,275.7 473.9,275.6 474.3,275.5 474.7,275.5 475.1,275.4 475.5,275.3 475.9,275.2 476.2,275.1 476.6,275.1 477.0,275.0 477.4,275.0 477.8,274.9 478.2,274.9 478.6,274.9 479.0,274.8 479.3,274.8 479.7,274.8 480.1,274.8 480.5,274.8 480.9,274.8 481.3,274.8 481.7,274.8 482.1,274.8 482.4,274.8 482.8,274.8 483.2,274.8 483.6,274.7 484.0,274.7 484.4,274.7 484.8,274.7 485.2,274.7 485.6,274.7 485.9,274.7 486.3,274.7 486.7,274.7 487.1,274.7 487.5,274.7 487.9,274.7 488.3,274.7 488.7,274.8 489.0,274.8 489.4,274.8 489.8,274.9 490.2,274.9 490.6,275.0 491.0,275.0 491.4,275.1 491.8,275.1 492.1,275.2 492.5,275.2 492.9,275.3 493.3,275.4 493.7,275.4 494.1,275.5 494.5,275.5 494.9,275.6 495.2,275.6 495.6,275.6 496.0,275.7 496.4,275.7 496.8,275.7 497.2,275.7 497.6,275.7 498.0,275.7 498.3,275.7 498.7,275.8 499.1,275.8 499.5,275.8 499.9,275.8 500.3,275.8 500.7,275.8 501.1,275.8 501.4,275.8 501.8,275.8 502.2,275.8 502.6,275.8 503.0,275.8 503.4,275.8 503.8,275.8 504.2,275.8 504.5,275.8 504.9,275.8 505.3,275.8 505.7,275.9 506.1,275.9 506.5,275.9 506.9,275.9 507.3,275.9 507.6,275.9 508.0,275.9 508.4,275.8 508.8,275.6 509.2,275.3 509.6,275.0 510.0,274.6 510.4,274.1 510.7,273.6 511.1,273.1 511.5,272.1 511.9,270.6 512.3,268.9 512.7,267.0 513.1,265.1 513.5,263.2 513.8,261.7 514.2,260.5 514.6,259.4 515.0,258.3 515.4,257.2 515.8,256.2 516.2,255.3 516.6,254.5 516.9,254.0 517.3,253.6 517.7,253.6 518.1,253.7 518.5,254.1 518.9,254.7 519.3,255.4 519.7,256.1 520.0,256.9 520.4,257.7 520.8,258.4 521.2,259.1 521.6,259.6 522.0,259.9 522.4,260.2 522.8,260.4 523.1,260.6 523.5,260.8 523.9,261.0 524.3,261.2 524.7,261.3 525.1,261.5 525.5,261.6 525.9,261.8 526.2,261.9 526.6,262.1 527.0,262.2 527.4,262.3 527.8,262.5 528.2,262.6 528.6,262.8 529.0,262.9 529.3,263.0 529.7,263.1 530.1,263.2 530.5,263.4 530.9,263.6 531.3,263.8 531.7,264.0 532.1,264.4 532.4,264.8 532.8,265.3 533.2,265.8 533.6,266.4 534.0,267.0" class="c2" clip-path="url(#clip1)"/>
<text x="49.50" y="294.00" class="tl" text-anchor="middle">100</text>
<text x="97.95" y="294.00" class="tl" text-anchor="middle">105</text>
<text x="146.40" y="294.00" class="tl" text-anchor="middle">110</text>
<text x="194.85" y="294.00" class="tl" text-anchor="middle">115</text>
<text x="243.30" y="294.00" class="tl" text-anchor="middle">120</text>
<text x="291.75" y="294.00" class="tl" text-anchor="middle">125</text>
<text x="340.20" y="294.00" class="tl" text-anchor="middle">130</text>
<text x="388.65" y="294.00" class="tl" text-anchor="middle">135</text>
<text x="437.10" y="294.00" class="tl" text-anchor="middle">140</text>
<text x="485.55" y="294.00" class="tl" text-anchor="middle">145</text>
<text x="534.00" y="294.00" class="tl" text-anchor="middle">150</text>
<text x="45.20" y="283.00" class="tl" text-anchor="end">0</text>
<text x="45.20" y="257.80" class="tl" text-anchor="end">20</text>
<text x="45.20" y="232.60" class="tl" text-anchor="end">40</text>
<text x="45.20" y="207.40" class="tl" text-anchor="end">60</text>
<text x="45.20" y="182.20" class="tl" text-anchor="end">80</text>
<text x="45.20" y="157.00" class="tl" text-anchor="end">100</text>
<text transform="translate(18.9,216.00) rotate(-90)" class="yl" text-anchor="middle">Power [kW]</text>
<rect x="56.7" y="160.2" width="215.30" height="14.50" class="leg"/>
<line x1="59.3" y1="168.05" x2="83.3" y2="168.05" class="c0"/>
<text x="85.9" y="172.05" class="lt">ideal</text>
<line x1="117.5" y1="168.05" x2="143.0" y2="168.05" class="c1"/>
<text x="144.9" y="172.05" class="lt">delay-1s</text>
<line x1="196.9" y1="168.05" x2="220.9" y2="168.05" class="c2"/>
<text x="223.7" y="172.05" class="lt">delay-2s</text>
<line x1="98.90" y1="317.5" x2="98.90" y2="443.0" class="grid"/>
<line x1="147.30" y1="317.5" x2="147.30" y2="443.0" class="grid"/>
<line x1="195.70" y1="317.5" x2="195.70" y2="443.0" class="grid"/>
<line x1="244.10" y1="317.5" x2="244.10" y2="443.0" class="grid"/>
<line x1="292.50" y1="317.5" x2="292.50" y2="443.0" class="grid"/>
<line x1="340.90" y1="317.5" x2="340.90" y2="443.0" class="grid"/>
<line x1="389.30" y1="317.5" x2="389.30" y2="443.0" class="grid"/>
<line x1="437.70" y1="317.5" x2="437.70" y2="443.0" class="grid"/>
<line x1="486.10" y1="317.5" x2="486.10" y2="443.0" class="grid"/>
<line x1="50.5" y1="401.17" x2="534.5" y2="401.17" class="grid"/>
<line x1="50.5" y1="359.33" x2="534.5" y2="359.33" class="grid"/>
<line x1="98.90" y1="443.0" x2="98.90" y2="438.5" class="tk"/>
<line x1="98.90" y1="317.5" x2="98.90" y2="322.0" class="tk"/>
<line x1="147.30" y1="443.0" x2="147.30" y2="438.5" class="tk"/>
<line x1="147.30" y1="317.5" x2="147.30" y2="322.0" class="tk"/>
<line x1="195.70" y1="443.0" x2="195.70" y2="438.5" class="tk"/>
<line x1="195.70" y1="317.5" x2="195.70" y2="322.0" class="tk"/>
<line x1="244.10" y1="443.0" x2="244.10" y2="438.5" class="tk"/>
<line x1="244.10" y1="317.5" x2="244.10" y2="322.0" class="tk"/>
<line x1="292.50" y1="443.0" x2="292.50" y2="438.5" class="tk"/>
<line x1="292.50" y1="317.5" x2="292.50" y2="322.0" class="tk"/>
<line x1="340.90" y1="443.0" x2="340.90" y2="438.5" class="tk"/>
<line x1="340.90" y1="317.5" x2="340.90" y2="322.0" class="tk"/>
<line x1="389.30" y1="443.0" x2="389.30" y2="438.5" class="tk"/>
<line x1="389.30" y1="317.5" x2="389.30" y2="322.0" class="tk"/>
<line x1="437.70" y1="443.0" x2="437.70" y2="438.5" class="tk"/>
<line x1="437.70" y1="317.5" x2="437.70" y2="322.0" class="tk"/>
<line x1="486.10" y1="443.0" x2="486.10" y2="438.5" class="tk"/>
<line x1="486.10" y1="317.5" x2="486.10" y2="322.0" class="tk"/>
<line x1="50.5" y1="401.17" x2="55.0" y2="401.17" class="tk"/>
<line x1="534.5" y1="401.17" x2="530.0" y2="401.17" class="tk"/>
<line x1="50.5" y1="359.33" x2="55.0" y2="359.33" class="tk"/>
<line x1="534.5" y1="359.33" x2="530.0" y2="359.33" class="tk"/>
<rect x="50.5" y="317.5" width="484.00" height="125.50" class="box"/>
<polyline points="50.5,402.5 50.9,402.5 51.3,402.4 51.7,402.3 52.0,402.1 52.4,401.9 52.8,401.7 53.2,401.4 53.6,401.1 54.0,400.4 54.4,398.8 54.8,396.4 55.1,393.5 55.5,390.4 55.9,387.3 56.3,384.5 56.7,382.2 57.1,380.0 57.5,377.8 57.9,375.6 58.2,373.8 58.6,372.4 59.0,371.5 59.4,370.7 59.8,370.0 60.2,369.7 60.6,369.8 61.0,370.1 61.3,370.6 61.7,371.3 62.1,372.0 62.5,372.8 62.9,373.7 63.3,374.5 63.7,375.2 64.1,375.8 64.4,376.3 64.8,376.9 65.2,377.5 65.6,378.0 66.0,378.6 66.4,379.1 66.8,379.7 67.1,380.2 67.5,380.7 67.9,381.3 68.3,381.8 68.7,382.3 69.1,382.8 69.5,383.3 69.9,383.8 70.2,384.2 70.6,384.7 71.0,385.2 71.4,385.6 71.8,386.1 72.2,386.6 72.6,387.0 73.0,387.5 73.3,387.9 73.7,388.3 74.1,388.7 74.5,389.1 74.9,389.5 75.3,389.9 75.7,390.3 76.1,390.7 76.4,391.1 76.8,391.4 77.2,391.8 77.6,392.1 78.0,392.5 78.4,392.8 78.8,393.1 79.2,393.5 79.5,393.8 79.9,394.1 80.3,394.4 80.7,394.7 81.1,395.0 81.5,395.3 81.9,395.6 82.3,395.9 82.6,396.2 83.0,396.5 83.4,396.8 83.8,397.1 84.2,397.4 84.6,397.7 85.0,397.9 85.3,398.2 85.7,398.4 86.1,398.6 86.5,398.8 86.9,399.0 87.3,399.1 87.7,399.2 88.1,399.3 88.4,399.4 88.8,399.5 89.2,399.6 89.6,399.6 90.0,399.7 90.4,399.8 90.8,399.8 91.2,399.9 91.5,400.0 91.9,400.1 92.3,400.2 92.7,400.2 93.1,400.3 93.5,400.4 93.9,400.5 94.3,400.6 94.6,400.6 95.0,400.7 95.4,400.8 95.8,401.0 96.2,401.1 96.6,401.3 97.0,401.5 97.4,401.8 97.7,402.1 98.1,402.4 98.5,402.7 98.9,403.0 99.3,403.3 99.7,403.5 100.1,403.7 100.4,403.8 100.8,403.9 101.2,403.9 101.6,403.9 102.0,403.8 102.4,403.6 102.8,403.5 103.2,403.3 103.5,403.1 103.9,402.8 104.3,402.6 104.7,402.4 105.1,402.1 105.5,401.9 105.9,401.8 106.3,401.6 106.6,401.4 107.0,401.3 107.4,401.1 107.8,401.0 108.2,400.8 108.6,400.7 109.0,400.5 109.4,400.4 109.7,400.2 110.1,400.1 110.5,400.0 110.9,399.8 111.3,399.7 111.7,399.6 112.1,399.4 112.5,399.3 112.8,399.1 113.2,399.0 113.6,398.8 114.0,398.7 114.4,398.5 114.8,398.4 115.2,398.2 115.5,398.1 115.9,398.0 116.3,397.9 116.7,397.8 117.1,397.8 117.5,397.7 117.9,397.8 118.3,397.8 118.6,398.0 119.0,398.2 119.4,398.5 119.8,398.7 120.2,398.9 120.6,399.2 121.0,399.5 121.4,399.8 121.7,400.2 122.1,400.5 122.5,400.8 122.9,401.1 123.3,401.4 123.7,401.5 124.1,401.6 124.5,401.7 124.8,401.3 125.2,400.5 125.6,399.5 126.0,398.1 126.4,396.6 126.8,395.0 127.2,393.4 127.6,391.6 127.9,389.2 128.3,386.4 128.7,383.4 129.1,380.4 129.5,377.7 129.9,375.4 130.3,373.8 130.7,372.3 131.0,371.0 131.4,369.8 131.8,368.9 132.2,368.4 132.6,368.3 133.0,368.5 133.4,368.8 133.7,369.3 134.1,369.8 134.5,370.4 134.9,371.0 135.3,371.6 135.7,372.2 136.1,372.8 136.5,373.3 136.8,373.9 137.2,374.4 137.6,375.0 138.0,375.6 138.4,376.2 138.8,376.8 139.2,377.4 139.6,378.1 139.9,378.7 140.3,379.3 140.7,379.9 141.1,380.5 141.5,381.0 141.9,381.6 142.3,382.1 142.7,382.7 143.0,383.2 143.4,383.8 143.8,384.3 144.2,384.9 144.6,385.4 145.0,385.9 145.4,386.5 145.8,387.0 146.1,387.5 146.5,388.0 146.9,388.5 147.3,389.0 147.7,389.4 148.1,389.8 148.5,390.2 148.8,390.6 149.2,391.0 149.6,391.3 150.0,391.6 150.4,391.9 150.8,392.2 151.2,392.5 151.6,392.8 151.9,393.1 152.3,393.3 152.7,393.6 153.1,393.8 153.5,394.1 153.9,394.3 154.3,394.6 154.7,394.8 155.0,395.0 155.4,395.2 155.8,395.5 156.2,395.7 156.6,395.9 157.0,396.1 157.4,396.4 157.8,396.6 158.1,396.8 158.5,397.0 158.9,397.2 159.3,397.4 159.7,397.6 160.1,397.8 160.5,398.0 160.9,398.2 161.2,398.3 161.6,398.5 162.0,398.7 162.4,398.9 162.8,399.1 163.2,399.3 163.6,399.5 163.9,399.7 164.3,399.9 164.7,400.2 165.1,400.4 165.5,400.7 165.9,400.9 166.3,401.2 166.7,401.4 167.0,401.7 167.4,401.9 167.8,402.1 168.2,402.3 168.6,402.5 169.0,402.6 169.4,402.7 169.8,402.8 170.1,402.8 170.5,402.8 170.9,402.7 171.3,402.5 171.7,402.2 172.1,401.8 172.5,401.4 172.9,400.9 173.2,400.4 173.6,399.9 174.0,399.3 174.4,398.7 174.8,398.1 175.2,397.5 175.6,396.9 176.0,396.1 176.3,395.2 176.7,394.2 177.1,393.2 177.5,392.1 177.9,391.1 178.3,390.1 178.7,389.3 179.1,388.5 179.4,388.0 179.8,387.7 180.2,387.5 180.6,387.2 181.0,387.0 181.4,386.8 181.8,386.7 182.1,386.6 182.5,386.5 182.9,386.6 183.3,386.7 183.7,386.9 184.1,387.1 184.5,387.4 184.9,387.7 185.2,388.0 185.6,388.4 186.0,388.7 186.4,389.0 186.8,389.3 187.2,389.6 187.6,389.9 188.0,390.2 188.3,390.5 188.7,390.9 189.1,391.2 189.5,391.5 189.9,391.8 190.3,392.0 190.7,392.2 191.1,392.3 191.4,392.3 191.8,392.2 192.2,392.0 192.6,391.7 193.0,391.3 193.4,390.9 193.8,390.5 194.2,390.2 194.5,389.8 194.9,389.6 195.3,389.4 195.7,389.4 196.1,389.5 196.5,389.7 196.9,389.9 197.2,390.2 197.6,390.4 198.0,390.7 198.4,390.9 198.8,391.2 199.2,391.5 199.6,391.8 200.0,392.1 200.3,392.5 200.7,392.8 201.1,393.1 201.5,393.4 201.9,393.8 202.3,394.1 202.7,394.4 203.1,394.7 203.4,395.0 203.8,395.3 204.2,395.6 204.6,395.9 205.0,396.2 205.4,396.4 205.8,396.7 206.2,397.0 206.5,397.3 206.9,397.6 207.3,397.9 207.7,398.1 208.1,398.4 208.5,398.7 208.9,398.9 209.3,399.2 209.6,399.5 210.0,399.7 210.4,400.0 210.8,400.2 211.2,400.5 211.6,400.7 212.0,401.0 212.3,401.3 212.7,401.5 213.1,401.8 213.5,402.1 213.9,402.4 214.3,402.7 214.7,402.9 215.1,403.1 215.4,403.4 215.8,403.5 216.2,403.7 216.6,403.8 217.0,403.9 217.4,403.9 217.8,403.9 218.2,403.5 218.5,403.0 218.9,402.3 219.3,401.5 219.7,400.6 220.1,399.6 220.5,398.7 220.9,397.8 221.3,397.0 221.6,396.3 222.0,395.8 222.4,395.3 222.8,394.8 223.2,394.3 223.6,393.8 224.0,393.4 224.4,393.0 224.7,392.7 225.1,392.5 225.5,392.3 225.9,392.3 226.3,392.4 226.7,392.5 227.1,392.7 227.5,393.0 227.8,393.3 228.2,393.6 228.6,394.0 229.0,394.4 229.4,394.8 229.8,395.1 230.2,395.5 230.5,395.9 230.9,396.2 231.3,396.5 231.7,396.8 232.1,397.0 232.5,397.3 232.9,397.6 233.3,397.9 233.6,398.2 234.0,398.5 234.4,398.7 234.8,399.0 235.2,399.3 235.6,399.6 236.0,399.8 236.4,400.0 236.7,400.2 237.1,400.4 237.5,400.6 237.9,400.7 238.3,400.9 238.7,400.9 239.1,401.0 239.5,401.0 239.8,400.8 240.2,400.3 240.6,399.6 241.0,398.8 241.4,398.0 241.8,397.0 242.2,396.1 242.6,395.3 242.9,394.6 243.3,394.0 243.7,393.4 244.1,392.7 244.5,392.1 244.9,391.6 245.3,391.1 245.6,390.9 246.0,390.8 246.4,390.9 246.8,391.0 247.2,391.2 247.6,391.5 248.0,391.7 248.4,391.9 248.7,392.1 249.1,392.2 249.5,392.3 249.9,392.1 250.3,391.7 250.7,391.0 251.1,390.2 251.5,389.2 251.8,387.9 252.2,385.6 252.6,382.4 253.0,378.8 253.4,375.2 253.8,371.9 254.2,369.1 254.6,366.2 254.9,363.4 255.3,360.8 255.7,358.5 256.1,356.6 256.5,354.9 256.9,353.2 257.3,351.9 257.7,351.1 258.0,351.0 258.4,351.4 258.8,352.0 259.2,352.8 259.6,353.8 260.0,354.7 260.4,355.6 260.7,356.4 261.1,357.1 261.5,357.9 261.9,358.6 262.3,359.4 262.7,360.2 263.1,361.0 263.5,361.8 263.8,362.7 264.2,363.6 264.6,364.5 265.0,365.5 265.4,366.4 265.8,367.3 266.2,368.3 266.6,369.2 266.9,370.0 267.3,370.8 267.7,371.7 268.1,372.5 268.5,373.3 268.9,374.1 269.3,374.9 269.7,375.6 270.0,376.2 270.4,376.8 270.8,377.3 271.2,377.8 271.6,378.3 272.0,378.8 272.4,379.3 272.8,379.7 273.1,380.1 273.5,380.5 273.9,380.9 274.3,381.3 274.7,381.7 275.1,382.1 275.5,382.5 275.9,382.8 276.2,383.2 276.6,383.6 277.0,383.9 277.4,384.3 277.8,384.7 278.2,385.0 278.6,385.4 278.9,385.9 279.3,386.3 279.7,386.8 280.1,387.2 280.5,387.7 280.9,388.1 281.3,388.5 281.7,389.0 282.0,389.4 282.4,389.7 282.8,390.1 283.2,390.4 283.6,390.7 284.0,390.9 284.4,391.0 284.8,391.2 285.1,391.2 285.5,391.2 285.9,390.9 286.3,390.6 286.7,390.1 287.1,389.6 287.5,388.9 287.9,388.2 288.2,386.9 288.6,385.2 289.0,383.0 289.4,380.7 289.8,378.2 290.2,375.8 290.6,373.5 291.0,371.5 291.3,369.9 291.7,368.6 292.1,367.4 292.5,366.2 292.9,365.0 293.3,363.9 293.7,362.9 294.0,362.0 294.4,361.3 294.8,360.7 295.2,360.4 295.6,360.3 296.0,360.4 296.4,360.7 296.8,361.0 297.1,361.5 297.5,362.0 297.9,362.6 298.3,363.3 298.7,364.0 299.1,364.7 299.5,365.4 299.9,366.1 300.2,366.8 300.6,367.4 301.0,368.0 301.4,368.6 301.8,369.2 302.2,369.9 302.6,370.5 303.0,371.2 303.3,371.8 303.7,372.5 304.1,373.2 304.5,373.9 304.9,374.5 305.3,375.2 305.7,375.8 306.1,376.5 306.4,377.1 306.8,377.7 307.2,378.3 307.6,378.8 308.0,379.4 308.4,380.0 308.8,380.5 309.1,381.1 309.5,381.6 309.9,382.2 310.3,382.7 310.7,383.2 311.1,383.7 311.5,384.2 311.9,384.7 312.2,385.2 312.6,385.6 313.0,386.0 313.4,386.5 313.8,386.9 314.2,387.4 314.6,387.9 315.0,388.3 315.3,388.7 315.7,389.0 316.1,389.3 316.5,389.4 316.9,389.4 317.3,389.3 317.7,388.9 318.1,388.4 318.4,387.7 318.8,386.3 319.2,384.6 319.6,382.7 320.0,380.6 320.4,378.7 320.8,377.0 321.2,375.7 321.5,374.7 321.9,373.6 322.3,372.6 322.7,371.7 323.1,371.0 323.5,370.7 323.9,370.6 324.3,370.8 324.6,371.1 325.0,371.4 325.4,371.9 325.8,372.4 326.2,372.9 326.6,373.5 327.0,374.1 327.3,374.6 327.7,375.1 328.1,375.7 328.5,376.3 328.9,376.9 329.3,377.6 329.7,378.3 330.1,379.0 330.4,379.7 330.8,380.4 331.2,381.1 331.6,381.8 332.0,382.5 332.4,383.2 332.8,383.8 333.2,384.4 333.5,384.9 333.9,385.4 334.3,385.9 334.7,386.3 335.1,386.8 335.5,387.3 335.9,387.7 336.3,388.1 336.6,388.6 337.0,389.0 337.4,389.4 337.8,389.8 338.2,390.2 338.6,390.5 339.0,390.9 339.4,391.3 339.7,391.6 340.1,392.0 340.5,392.3 340.9,392.6 341.3,392.9 341.7,393.2 342.1,393.5 342.4,393.8 342.8,394.1 343.2,394.4 343.6,394.6 344.0,394.9 344.4,395.2 344.8,395.4 345.2,395.7 345.5,395.9 345.9,396.1 346.3,396.4 346.7,396.6 347.1,396.8 347.5,397.1 347.9,397.3 348.3,397.5 348.6,397.7 349.0,397.9 349.4,398.1 349.8,398.3 350.2,398.5 350.6,398.6 351.0,398.9 351.4,399.1 351.7,399.3 352.1,399.5 352.5,399.7 352.9,399.9 353.3,400.0 353.7,400.2 354.1,400.3 354.5,400.4 354.8,400.5 355.2,400.5 355.6,400.2 356.0,399.5 356.4,398.4 356.8,397.1 357.2,395.5 357.5,393.7 357.9,392.0 358.3,390.2 358.7,388.2 359.1,385.6 359.5,382.7 359.9,379.6 360.3,376.5 360.6,373.7 361.0,371.3 361.4,369.5 361.8,368.1 362.2,366.7 362.6,365.4 363.0,364.3 363.4,363.5 363.7,363.1 364.1,363.0 364.5,363.2 364.9,363.5 365.3,363.9 365.7,364.5 366.1,365.1 366.5,365.7 366.8,366.3 367.2,366.9 367.6,367.5 368.0,368.1 368.4,368.7 368.8,369.4 369.2,370.1 369.6,370.8 369.9,371.6 370.3,372.3 370.7,373.1 371.1,373.8 371.5,374.6 371.9,375.3 372.3,376.0 372.7,376.7 373.0,377.3 373.4,378.0 373.8,378.6 374.2,379.3 374.6,379.9 375.0,380.6 375.4,381.3 375.7,381.9 376.1,382.5 376.5,383.1 376.9,383.7 377.3,384.2 377.7,384.7 378.1,385.2 378.5,385.6 378.8,386.0 379.2,386.4 379.6,386.7 380.0,387.0 380.4,387.3 380.8,387.6 381.2,387.8 381.6,388.1 381.9,388.3 382.3,388.5 382.7,388.7 383.1,389.0 383.5,389.2 383.9,389.4 384.3,389.7 384.7,389.9 385.0,390.1 385.4,390.4 385.8,390.7 386.2,390.9 386.6,391.2 387.0,391.4 387.4,391.7 387.8,391.9 388.1,392.2 388.5,392.5 388.9,392.7 389.3,393.0 389.7,393.2 390.1,393.5 390.5,393.8 390.8,394.1 391.2,394.3 391.6,393.9 392.0,392.8 392.4,391.1 392.8,389.0 393.2,386.7 393.6,384.3 393.9,382.0 394.3,379.9 394.7,377.9 395.1,375.6 395.5,373.2 395.9,370.8 396.3,368.6 396.7,366.5 397.0,364.8 397.4,363.4 397.8,362.4 398.2,361.3 398.6,360.3 399.0,359.4 399.4,358.7 399.8,358.1 400.1,357.7 400.5,357.6 400.9,357.7 401.3,357.9 401.7,358.3 402.1,358.8 402.5,359.4 402.9,360.1 403.2,360.8 403.6,361.6 404.0,362.3 404.4,363.1 404.8,363.8 405.2,364.6 405.6,365.4 405.9,366.4 406.3,367.4 406.7,368.4 407.1,369.4 407.5,370.4 407.9,371.5 408.3,372.5 408.7,373.4 409.0,374.3 409.4,375.2 409.8,375.9 410.2,376.6 410.6,377.3 411.0,378.0 411.4,378.7 411.8,379.3 412.1,379.9 412.5,380.5 412.9,381.1 413.3,381.7 413.7,382.2 414.1,382.8 414.5,383.3 414.9,383.8 415.2,384.3 415.6,384.7 416.0,385.1 416.4,385.6 416.8,386.0 417.2,386.4 417.6,386.9 418.0,387.3 418.3,387.7 418.7,388.1 419.1,388.5 419.5,388.9 419.9,389.2 420.3,389.5 420.7,389.8 421.1,390.0 421.4,390.1 421.8,390.2 422.2,390.2 422.6,390.0 423.0,389.6 423.4,389.1 423.8,388.4 424.1,387.6 424.5,386.7 424.9,385.9 425.3,385.0 425.7,384.2 426.1,383.2 426.5,382.1 426.9,380.8 427.2,379.6 427.6,378.4 428.0,377.5 428.4,377.0 428.8,376.8 429.2,376.9 429.6,377.2 430.0,377.6 430.3,378.1 430.7,378.7 431.1,379.3 431.5,379.9 431.9,380.6 432.3,381.3 432.7,381.9 433.1,382.4 433.4,382.9 433.8,383.4 434.2,383.8 434.6,384.3 435.0,384.7 435.4,385.1 435.8,385.6 436.2,386.0 436.5,386.4 436.9,386.8 437.3,387.1 437.7,387.5 438.1,387.8 438.5,388.0 438.9,388.3 439.2,388.6 439.6,388.9 440.0,389.1 440.4,389.4 440.8,389.6 441.2,389.9 441.6,390.1 442.0,390.3 442.3,390.5 442.7,390.7 443.1,390.9 443.5,391.0 443.9,391.1 444.3,391.2 444.7,391.2 445.1,391.2 445.4,391.1 445.8,390.9 446.2,390.7 446.6,390.5 447.0,390.2 447.4,389.9 447.8,389.6 448.2,389.3 448.5,389.0 448.9,388.7 449.3,388.5 449.7,388.3 450.1,388.2 450.5,388.1 450.9,388.1 451.3,388.3 451.6,388.4 452.0,388.7 452.4,389.0 452.8,389.4 453.2,389.8 453.6,390.3 454.0,390.8 454.3,391.2 454.7,391.7 455.1,392.2 455.5,392.7 455.9,393.1 456.3,393.5 456.7,393.9 457.1,394.2 457.4,394.5 457.8,394.8 458.2,395.0 458.6,395.3 459.0,395.5 459.4,395.7 459.8,395.9 460.2,396.1 460.5,396.3 460.9,396.5 461.3,396.7 461.7,396.9 462.1,397.2 462.5,397.4 462.9,397.6 463.3,397.8 463.6,398.0 464.0,398.2 464.4,398.4 464.8,398.5 465.2,398.7 465.6,398.9 466.0,399.1 466.4,399.3 466.7,399.5 467.1,399.7 467.5,399.9 467.9,400.2 468.3,400.4 468.7,400.7 469.1,400.9 469.5,401.2 469.8,401.4 470.2,401.7 470.6,401.9 471.0,402.1 471.4,402.2 471.8,402.4 472.2,402.5 472.5,402.6 472.9,402.7 473.3,402.7 473.7,402.6 474.1,402.5 474.5,402.4 474.9,402.2 475.3,402.0 475.6,401.8 476.0,401.5 476.4,401.3 476.8,401.0 477.2,400.8 477.6,400.5 478.0,400.3 478.4,400.1 478.7,399.9 479.1,399.8 479.5,399.7 479.9,399.7 480.3,399.6 480.7,399.6 481.1,399.6 481.5,399.6 481.8,399.6 482.2,399.6 482.6,399.5 483.0,399.5 483.4,399.5 483.8,399.5 484.2,399.5 484.6,399.5 484.9,399.5 485.3,399.5 485.7,399.5 486.1,399.4 486.5,399.4 486.9,399.4 487.3,399.4 487.6,399.4 488.0,399.4 488.4,399.4 488.8,399.4 489.2,399.4 489.6,399.4 490.0,399.4 490.4,399.5 490.7,399.6 491.1,399.8 491.5,400.0 491.9,400.2 492.3,400.4 492.7,400.7 493.1,400.9 493.5,401.2 493.8,401.5 494.2,401.7 494.6,401.9 495.0,402.1 495.4,402.4 495.8,402.6 496.2,402.9 496.6,403.1 496.9,403.4 497.3,403.6 497.7,403.9 498.1,404.1 498.5,404.4 498.9,404.6 499.3,404.9 499.7,405.1 500.0,405.4 500.4,405.6 500.8,405.8 501.2,406.0 501.6,406.2 502.0,406.4 502.4,406.7 502.7,406.9 503.1,407.1 503.5,407.3 503.9,407.5 504.3,407.7 504.7,407.9 505.1,408.1 505.5,408.2 505.8,408.4 506.2,408.5 506.6,408.5 507.0,408.5 507.4,408.4 507.8,407.9 508.2,407.2 508.6,406.3 508.9,405.2 509.3,404.0 509.7,402.7 510.1,401.3 510.5,399.9 510.9,398.5 511.3,397.1 511.7,395.4 512.0,393.4 512.4,391.2 512.8,388.9 513.2,386.7 513.6,384.6 514.0,382.8 514.4,381.3 514.8,380.0 515.1,378.7 515.5,377.5 515.9,376.2 516.3,375.1 516.7,374.0 517.1,373.1 517.5,372.3 517.9,371.8 518.2,371.5 518.6,371.4 519.0,371.5 519.4,371.8 519.8,372.3 520.2,372.8 520.6,373.4 520.9,374.1 521.3,374.8 521.7,375.5 522.1,376.2 522.5,376.8 522.9,377.3 523.3,377.9 523.7,378.4 524.0,378.9 524.4,379.5 524.8,380.0 525.2,380.5 525.6,381.0 526.0,381.6 526.4,382.1 526.8,382.6 527.1,383.1 527.5,383.6 527.9,384.0 528.3,384.5 528.7,385.0 529.1,385.4 529.5,385.8 529.9,386.3 530.2,386.7 530.6,387.1 531.0,387.6 531.4,388.0 531.8,388.4 532.2,388.9 532.6,389.3 533.0,389.7 533.3,390.2 533.7,390.6 534.1,391.1 534.5,391.5" class="c0" clip-path="url(#clip2)"/>
<polyline points="50.5,403.7 50.9,403.6 51.3,403.5 51.7,403.3 52.0,403.0 52.4,402.7 52.8,402.3 53.2,401.8 53.6,401.3 54.0,400.5 54.4,398.7 54.8,396.3 55.1,393.4 55.5,390.4 55.9,387.3 56.3,384.5 56.7,382.2 57.1,380.0 57.5,377.7 57.9,375.5 58.2,373.7 58.6,372.3 59.0,371.5 59.4,370.9 59.8,370.3 60.2,369.9 60.6,369.7 61.0,369.8 61.3,370.2 61.7,370.8 62.1,371.5 62.5,372.3 62.9,373.1 63.3,373.8 63.7,374.2 64.1,374.5 64.4,374.7 64.8,374.9 65.2,375.0 65.6,375.1 66.0,375.2 66.4,375.3 66.8,375.4 67.1,375.5 67.5,375.6 67.9,375.7 68.3,375.8 68.7,375.9 69.1,376.0 69.5,376.2 69.9,376.4 70.2,376.7 70.6,377.0 71.0,377.4 71.4,377.8 71.8,378.2 72.2,378.7 72.6,379.1 73.0,379.6 73.3,380.2 73.7,380.7 74.1,381.2 74.5,381.6 74.9,382.1 75.3,382.6 75.7,383.0 76.1,383.4 76.4,383.7 76.8,384.1 77.2,384.5 77.6,384.9 78.0,385.3 78.4,385.6 78.8,386.0 79.2,386.4 79.5,386.8 79.9,387.1 80.3,387.5 80.7,387.9 81.1,388.3 81.5,388.7 81.9,389.1 82.3,389.6 82.6,390.0 83.0,390.5 83.4,391.0 83.8,391.4 84.2,391.9 84.6,392.3 85.0,392.8 85.3,393.3 85.7,393.7 86.1,394.1 86.5,394.5 86.9,394.9 87.3,395.3 87.7,395.7 88.1,396.0 88.4,396.4 88.8,396.7 89.2,397.1 89.6,397.4 90.0,397.7 90.4,398.0 90.8,398.3 91.2,398.6 91.5,398.8 91.9,399.1 92.3,399.3 92.7,399.5 93.1,399.7 93.5,399.8 93.9,400.0 94.3,400.2 94.6,400.4 95.0,400.6 95.4,400.7 95.8,400.9 96.2,401.2 96.6,401.4 97.0,401.7 97.4,402.0 97.7,402.3 98.1,402.6 98.5,402.8 98.9,403.1 99.3,403.4 99.7,403.6 100.1,403.7 100.4,403.9 100.8,403.9 101.2,403.9 101.6,403.9 102.0,403.8 102.4,403.6 102.8,403.5 103.2,403.3 103.5,403.1 103.9,402.8 104.3,402.6 104.7,402.4 105.1,402.1 105.5,401.9 105.9,401.8 106.3,401.6 106.6,401.4 107.0,401.3 107.4,401.1 107.8,401.0 108.2,400.8 108.6,400.7 109.0,400.5 109.4,400.4 109.7,400.2 110.1,400.1 110.5,400.0 110.9,399.8 111.3,399.7 111.7,399.6 112.1,399.4 112.5,399.3 112.8,399.1 113.2,399.0 113.6,398.8 114.0,398.7 114.4,398.5 114.8,398.4 115.2,398.2 115.5,398.1 115.9,398.0 116.3,397.9 116.7,397.8 117.1,397.8 117.5,397.7 117.9,397.8 118.3,397.8 118.6,398.0 119.0,398.2 119.4,398.5 119.8,398.7 120.2,398.9 120.6,399.2 121.0,399.5 121.4,399.8 121.7,400.2 122.1,400.5 122.5,400.8 122.9,401.1 123.3,401.4 123.7,401.5 124.1,401.6 124.5,401.7 124.8,401.3 125.2,400.5 125.6,399.5 126.0,398.1 126.4,396.6 126.8,395.0 127.2,393.4 127.6,391.6 127.9,389.1 128.3,386.3 128.7,383.3 129.1,380.3 129.5,377.6 129.9,375.4 130.3,373.8 130.7,372.5 131.0,371.3 131.4,370.2 131.8,369.2 132.2,368.5 132.6,368.2 133.0,368.1 133.4,368.3 133.7,368.6 134.1,369.0 134.5,369.5 134.9,370.1 135.3,370.7 135.7,371.2 136.1,371.8 136.5,372.3 136.8,372.8 137.2,373.3 137.6,373.9 138.0,374.5 138.4,375.1 138.8,375.7 139.2,376.3 139.6,376.9 139.9,377.5 140.3,378.1 140.7,378.7 141.1,379.3 141.5,379.9 141.9,380.4 142.3,380.9 142.7,381.4 143.0,381.9 143.4,382.4 143.8,382.9 144.2,383.4 144.6,383.9 145.0,384.4 145.4,384.9 145.8,385.3 146.1,385.8 146.5,386.2 146.9,386.7 147.3,387.1 147.7,387.5 148.1,388.0 148.5,388.4 148.8,388.8 149.2,389.1 149.6,389.5 150.0,389.9 150.4,390.2 150.8,390.5 151.2,390.9 151.6,391.2 151.9,391.5 152.3,391.8 152.7,392.1 153.1,392.5 153.5,392.7 153.9,393.1 154.3,393.3 154.7,393.6 155.0,393.9 155.4,394.2 155.8,394.5 156.2,394.7 156.6,395.0 157.0,395.3 157.4,395.6 157.8,395.8 158.1,396.1 158.5,396.4 158.9,396.6 159.3,396.9 159.7,397.1 160.1,397.4 160.5,397.6 160.9,397.9 161.2,398.1 161.6,398.4 162.0,398.6 162.4,398.8 162.8,399.0 163.2,399.3 163.6,399.5 163.9,399.7 164.3,400.0 164.7,400.2 165.1,400.5 165.5,400.7 165.9,401.0 166.3,401.2 166.7,401.5 167.0,401.7 167.4,401.9 167.8,402.2 168.2,402.3 168.6,402.5 169.0,402.6 169.4,402.7 169.8,402.8 170.1,402.8 170.5,402.8 170.9,402.7 171.3,402.5 171.7,402.2 172.1,401.8 172.5,401.4 172.9,400.9 173.2,400.4 173.6,399.9 174.0,399.3 174.4,398.7 174.8,398.1 175.2,397.5 175.6,396.9 176.0,396.1 176.3,395.2 176.7,394.2 177.1,393.2 177.5,392.1 177.9,391.1 178.3,390.1 178.7,389.3 179.1,388.5 179.4,388.0 179.8,387.7 180.2,387.5 180.6,387.2 181.0,387.0 181.4,386.8 181.8,386.7 182.1,386.6 182.5,386.5 182.9,386.6 183.3,386.7 183.7,386.9 184.1,387.1 184.5,387.4 184.9,387.7 185.2,388.0 185.6,388.4 186.0,388.7 186.4,389.0 186.8,389.3 187.2,389.6 187.6,389.9 188.0,390.2 188.3,390.5 188.7,390.9 189.1,391.2 189.5,391.5 189.9,391.8 190.3,392.0 190.7,392.2 191.1,392.3 191.4,392.3 191.8,392.2 192.2,392.0 192.6,391.7 193.0,391.3 193.4,390.9 193.8,390.5 194.2,390.2 194.5,389.8 194.9,389.6 195.3,389.4 195.7,389.4 196.1,389.5 196.5,389.7 196.9,389.9 197.2,390.2 197.6,390.4 198.0,390.7 198.4,390.9 198.8,391.2 199.2,391.5 199.6,391.8 200.0,392.1 200.3,392.5 200.7,392.8 201.1,393.1 201.5,393.4 201.9,393.8 202.3,394.1 202.7,394.4 203.1,394.7 203.4,395.0 203.8,395.3 204.2,395.6 204.6,395.9 205.0,396.2 205.4,396.4 205.8,396.7 206.2,397.0 206.5,397.3 206.9,397.6 207.3,397.9 207.7,398.1 208.1,398.4 208.5,398.7 208.9,398.9 209.3,399.2 209.6,399.5 210.0,399.7 210.4,400.0 210.8,400.2 211.2,400.5 211.6,400.7 212.0,401.0 212.3,401.3 212.7,401.5 213.1,401.8 213.5,402.1 213.9,402.4 214.3,402.7 214.7,402.9 215.1,403.1 215.4,403.4 215.8,403.5 216.2,403.7 216.6,403.8 217.0,403.9 217.4,403.9 217.8,403.9 218.2,403.5 218.5,403.0 218.9,402.3 219.3,401.5 219.7,400.6 220.1,399.6 220.5,398.7 220.9,397.8 221.3,397.0 221.6,396.3 222.0,395.8 222.4,395.3 222.8,394.8 223.2,394.3 223.6,393.8 224.0,393.4 224.4,393.0 224.7,392.7 225.1,392.5 225.5,392.3 225.9,392.3 226.3,392.4 226.7,392.5 227.1,392.7 227.5,393.0 227.8,393.3 228.2,393.6 228.6,394.0 229.0,394.4 229.4,394.8 229.8,395.1 230.2,395.5 230.5,395.9 230.9,396.2 231.3,396.5 231.7,396.8 232.1,397.0 232.5,397.3 232.9,397.6 233.3,397.9 233.6,398.2 234.0,398.5 234.4,398.7 234.8,399.0 235.2,399.3 235.6,399.6 236.0,399.8 236.4,400.0 236.7,400.2 237.1,400.4 237.5,400.6 237.9,400.7 238.3,400.9 238.7,400.9 239.1,401.0 239.5,401.0 239.8,400.8 240.2,400.3 240.6,399.6 241.0,398.8 241.4,398.0 241.8,397.0 242.2,396.1 242.6,395.3 242.9,394.6 243.3,394.0 243.7,393.4 244.1,392.7 244.5,392.1 244.9,391.6 245.3,391.1 245.6,390.9 246.0,390.8 246.4,390.9 246.8,391.0 247.2,391.2 247.6,391.5 248.0,391.7 248.4,391.9 248.7,392.1 249.1,392.2 249.5,392.3 249.9,392.1 250.3,391.7 250.7,391.0 251.1,390.2 251.5,389.2 251.8,387.9 252.2,385.6 252.6,382.5 253.0,379.0 253.4,375.3 253.8,372.0 254.2,369.0 254.6,366.2 254.9,363.3 255.3,360.5 255.7,357.8 256.1,355.1 256.5,352.5 256.9,349.7 257.3,347.1 257.7,344.8 258.0,343.0 258.4,341.6 258.8,340.2 259.2,339.0 259.6,338.0 260.0,337.2 260.4,336.8 260.7,336.8 261.1,337.0 261.5,337.5 261.9,338.1 262.3,338.8 262.7,339.5 263.1,340.2 263.5,340.8 263.8,341.5 264.2,342.2 264.6,342.9 265.0,343.6 265.4,344.3 265.8,345.1 266.2,345.9 266.6,346.7 266.9,347.5 267.3,348.3 267.7,349.2 268.1,350.1 268.5,350.9 268.9,351.8 269.3,352.7 269.7,353.6 270.0,354.5 270.4,355.4 270.8,356.3 271.2,357.2 271.6,358.0 272.0,358.9 272.4,359.8 272.8,360.6 273.1,361.4 273.5,362.2 273.9,363.1 274.3,363.9 274.7,364.8 275.1,365.6 275.5,366.4 275.9,367.2 276.2,368.1 276.6,368.9 277.0,369.6 277.4,370.4 277.8,371.2 278.2,371.9 278.6,372.6 278.9,373.2 279.3,373.9 279.7,374.5 280.1,375.1 280.5,375.7 280.9,376.2 281.3,376.8 281.7,377.3 282.0,377.8 282.4,378.4 282.8,378.9 283.2,379.4 283.6,379.9 284.0,380.4 284.4,380.9 284.8,381.3 285.1,381.8 285.5,382.3 285.9,382.8 286.3,383.3 286.7,383.8 287.1,384.3 287.5,384.8 287.9,385.3 288.2,385.9 288.6,386.4 289.0,387.0 289.4,387.5 289.8,388.0 290.2,388.6 290.6,389.1 291.0,389.6 291.3,390.1 291.7,390.6 292.1,391.0 292.5,391.5 292.9,391.9 293.3,392.3 293.7,392.7 294.0,393.1 294.4,393.5 294.8,393.9 295.2,394.3 295.6,394.7 296.0,395.1 296.4,395.4 296.8,395.7 297.1,395.9 297.5,396.1 297.9,396.3 298.3,396.4 298.7,396.4 299.1,396.3 299.5,396.0 299.9,395.6 300.2,395.1 300.6,394.6 301.0,393.9 301.4,393.3 301.8,392.6 302.2,391.9 302.6,391.3 303.0,390.7 303.3,390.1 303.7,389.7 304.1,389.4 304.5,389.2 304.9,389.1 305.3,389.2 305.7,389.2 306.1,389.3 306.4,389.5 306.8,389.6 307.2,389.8 307.6,390.0 308.0,390.2 308.4,390.4 308.8,390.6 309.1,390.8 309.5,390.9 309.9,391.0 310.3,391.1 310.7,391.2 311.1,391.2 311.5,391.2 311.9,391.1 312.2,391.1 312.6,391.0 313.0,390.9 313.4,390.7 313.8,390.6 314.2,390.4 314.6,390.2 315.0,389.9 315.3,389.7 315.7,389.4 316.1,389.1 316.5,388.4 316.9,386.9 317.3,384.8 317.7,382.2 318.1,379.2 318.4,376.1 318.8,373.0 319.2,370.0 319.6,367.2 320.0,364.9 320.4,363.0 320.8,361.3 321.2,359.5 321.5,357.8 321.9,356.1 322.3,354.6 322.7,353.2 323.1,351.9 323.5,351.0 323.9,350.4 324.3,350.1 324.6,350.1 325.0,350.4 325.4,350.9 325.8,351.5 326.2,352.3 326.6,353.1 327.0,354.0 327.3,354.9 327.7,355.8 328.1,356.7 328.5,357.4 328.9,358.2 329.3,358.9 329.7,359.7 330.1,360.4 330.4,361.2 330.8,362.0 331.2,362.8 331.6,363.6 332.0,364.4 332.4,365.1 332.8,365.9 333.2,366.6 333.5,367.4 333.9,368.1 334.3,368.8 334.7,369.5 335.1,370.2 335.5,370.8 335.9,371.5 336.3,372.2 336.6,372.9 337.0,373.5 337.4,374.2 337.8,374.8 338.2,375.4 338.6,376.0 339.0,376.7 339.4,377.2 339.7,377.8 340.1,378.4 340.5,379.0 340.9,379.5 341.3,380.1 341.7,380.6 342.1,381.1 342.4,381.7 342.8,382.2 343.2,382.7 343.6,383.2 344.0,383.7 344.4,384.2 344.8,384.7 345.2,385.1 345.5,385.6 345.9,386.0 346.3,386.5 346.7,386.9 347.1,387.3 347.5,387.7 347.9,388.1 348.3,388.5 348.6,388.9 349.0,389.3 349.4,389.7 349.8,390.0 350.2,390.4 350.6,390.8 351.0,391.1 351.4,391.5 351.7,391.9 352.1,392.2 352.5,392.6 352.9,393.0 353.3,393.4 353.7,393.8 354.1,394.2 354.5,394.7 354.8,395.1 355.2,395.5 355.6,395.9 356.0,396.3 356.4,396.6 356.8,396.9 357.2,397.1 357.5,397.3 357.9,397.4 358.3,397.4 358.7,397.2 359.1,396.6 359.5,395.8 359.9,394.8 360.3,393.7 360.6,392.6 361.0,391.6 361.4,390.7 361.8,389.7 362.2,388.7 362.6,387.6 363.0,386.6 363.4,385.7 363.7,384.9 364.1,384.3 364.5,384.0 364.9,383.9 365.3,383.7 365.7,383.6 366.1,383.5 366.5,383.4 366.8,383.3 367.2,383.2 367.6,383.2 368.0,383.1 368.4,383.1 368.8,383.0 369.2,383.0 369.6,383.0 369.9,383.1 370.3,383.3 370.7,383.7 371.1,384.1 371.5,384.6 371.9,385.1 372.3,385.7 372.7,386.3 373.0,386.8 373.4,387.3 373.8,387.7 374.2,387.9 374.6,388.1 375.0,388.1 375.4,388.1 375.7,388.0 376.1,387.9 376.5,387.9 376.9,387.7 377.3,387.6 377.7,387.5 378.1,387.3 378.5,387.1 378.8,387.0 379.2,386.8 379.6,386.6 380.0,386.4 380.4,386.3 380.8,386.1 381.2,385.9 381.6,385.8 381.9,385.6 382.3,385.3 382.7,385.1 383.1,384.8 383.5,384.6 383.9,384.3 384.3,384.1 384.7,383.9 385.0,383.6 385.4,383.5 385.8,383.3 386.2,383.2 386.6,383.1 387.0,383.0 387.4,383.1 387.8,383.5 388.1,384.3 388.5,385.3 388.9,386.3 389.3,387.3 389.7,388.1 390.1,388.5 390.5,388.6 390.8,388.5 391.2,388.2 391.6,387.9 392.0,387.6 392.4,387.4 392.8,387.2 393.2,387.1 393.6,387.1 393.9,387.1 394.3,387.1 394.7,387.1 395.1,387.1 395.5,387.1 395.9,387.1 396.3,387.1 396.7,387.1 397.0,387.1 397.4,387.1 397.8,387.1 398.2,387.1 398.6,387.1 399.0,387.1 399.4,387.1 399.8,387.1 400.1,387.0 400.5,386.8 400.9,386.6 401.3,386.3 401.7,386.0 402.1,385.6 402.5,385.3 402.9,384.9 403.2,384.6 403.6,384.2 404.0,383.9 404.4,383.6 404.8,383.4 405.2,383.2 405.6,383.0 405.9,382.9 406.3,382.8 406.7,382.8 407.1,382.7 407.5,382.7 407.9,382.6 408.3,382.6 408.7,382.5 409.0,382.5 409.4,382.4 409.8,382.4 410.2,382.3 410.6,382.2 411.0,382.1 411.4,382.0 411.8,381.9 412.1,381.7 412.5,381.1 412.9,380.4 413.3,379.5 413.7,378.5 414.1,377.3 414.5,376.1 414.9,374.9 415.2,373.7 415.6,372.5 416.0,371.3 416.4,370.0 416.8,368.4 417.2,366.8 417.6,365.4 418.0,364.3 418.3,363.8 418.7,363.8 419.1,363.9 419.5,364.1 419.9,364.3 420.3,364.6 420.7,364.9 421.1,365.3 421.4,365.7 421.8,366.1 422.2,366.6 422.6,367.0 423.0,367.4 423.4,367.9 423.8,368.4 424.1,369.0 424.5,369.7 424.9,370.4 425.3,371.2 425.7,372.0 426.1,372.8 426.5,373.5 426.9,374.3 427.2,375.1 427.6,375.7 428.0,376.4 428.4,377.0 428.8,377.5 429.2,378.0 429.6,378.5 430.0,379.0 430.3,379.5 430.7,379.9 431.1,380.4 431.5,380.8 431.9,381.3 432.3,381.7 432.7,382.1 433.1,382.5 433.4,382.9 433.8,383.3 434.2,383.7 434.6,384.1 435.0,384.5 435.4,384.9 435.8,385.3 436.2,385.6 436.5,386.0 436.9,386.4 437.3,386.8 437.7,387.1 438.1,387.5 438.5,387.8 438.9,388.2 439.2,388.5 439.6,388.8 440.0,389.2 440.4,389.5 440.8,389.8 441.2,390.1 441.6,390.4 442.0,390.7 442.3,391.0 442.7,391.3 443.1,391.6 443.5,391.8 443.9,392.1 444.3,392.3 444.7,392.6 445.1,392.8 445.4,393.0 445.8,393.3 446.2,393.5 446.6,393.7 447.0,393.9 447.4,394.1 447.8,394.4 448.2,394.6 448.5,394.8 448.9,395.1 449.3,395.3 449.7,395.5 450.1,395.8 450.5,396.1 450.9,396.3 451.3,396.6 451.6,396.9 452.0,397.3 452.4,397.6 452.8,397.9 453.2,398.3 453.6,398.7 454.0,399.1 454.3,399.4 454.7,399.8 455.1,400.2 455.5,400.5 455.9,400.9 456.3,401.2 456.7,401.6 457.1,401.9 457.4,402.1 457.8,402.4 458.2,402.6 458.6,402.8 459.0,403.0 459.4,403.2 459.8,403.4 460.2,403.5 460.5,403.7 460.9,403.8 461.3,403.9 461.7,404.1 462.1,404.2 462.5,404.3 462.9,404.5 463.3,404.6 463.6,404.7 464.0,404.9 464.4,405.0 464.8,405.1 465.2,405.3 465.6,405.5 466.0,405.6 466.4,405.8 466.7,406.0 467.1,406.2 467.5,406.4 467.9,406.6 468.3,406.8 468.7,407.0 469.1,407.1 469.5,407.3 469.8,407.4 470.2,407.5 470.6,407.6 471.0,407.7 471.4,407.7 471.8,407.7 472.2,407.6 472.5,407.6 472.9,407.5 473.3,407.4 473.7,407.2 474.1,407.1 474.5,406.9 474.9,406.7 475.3,406.5 475.6,406.3 476.0,406.1 476.4,405.9 476.8,405.7 477.2,405.6 477.6,405.4 478.0,405.2 478.4,405.1 478.7,404.9 479.1,404.7 479.5,404.5 479.9,404.4 480.3,404.2 480.7,404.0 481.1,403.8 481.5,403.6 481.8,403.4 482.2,403.2 482.6,403.1 483.0,403.0 483.4,402.9 483.8,402.8 484.2,402.7 484.6,402.7 484.9,402.7 485.3,402.7 485.7,402.7 486.1,402.7 486.5,402.7 486.9,402.7 487.3,402.7 487.6,402.7 488.0,402.7 488.4,402.7 488.8,402.7 489.2,402.7 489.6,402.7 490.0,402.7 490.4,402.7 490.7,402.7 491.1,402.7 491.5,402.7 491.9,402.7 492.3,402.8 492.7,402.9 493.1,403.0 493.5,403.1 493.8,403.3 494.2,403.4 494.6,403.6 495.0,403.8 495.4,404.0 495.8,404.2 496.2,404.4 496.6,404.6 496.9,404.8 497.3,404.9 497.7,405.1 498.1,405.3 498.5,405.4 498.9,405.6 499.3,405.8 499.7,406.0 500.0,406.2 500.4,406.4 500.8,406.6 501.2,406.8 501.6,407.0 502.0,407.2 502.4,407.4 502.7,407.6 503.1,407.8 503.5,407.9 503.9,408.1 504.3,408.2 504.7,408.3 505.1,408.4 505.5,408.5 505.8,408.5 506.2,408.5 506.6,408.4 507.0,408.1 507.4,407.6 507.8,407.0 508.2,406.2 508.6,405.3 508.9,404.3 509.3,403.2 509.7,402.1 510.1,400.9 510.5,399.7 510.9,398.4 511.3,397.2 511.7,395.5 512.0,393.5 512.4,391.3 512.8,389.1 513.2,386.8 513.6,384.7 514.0,382.8 514.4,381.3 514.8,380.0 515.1,378.7 515.5,377.5 515.9,376.2 516.3,375.1 516.7,374.0 517.1,373.1 517.5,372.3 517.9,371.8 518.2,371.5 518.6,371.4 519.0,371.5 519.4,371.6 519.8,371.9 520.2,372.2 520.6,372.6 520.9,373.0 521.3,373.5 521.7,374.0 522.1,374.5 522.5,375.0 522.9,375.5 523.3,376.0 523.7,376.5 524.0,376.9 524.4,377.3 524.8,377.6 525.2,378.0 525.6,378.4 526.0,378.7 526.4,379.1 526.8,379.5 527.1,379.8 527.5,380.2 527.9,380.5 528.3,380.9 528.7,381.2 529.1,381.6 529.5,381.9 529.9,382.2 530.2,382.5 530.6,382.7 531.0,383.0 531.4,383.2 531.8,383.5 532.2,383.7 532.6,383.9 533.0,384.1 533.3,384.3 533.7,384.5 534.1,384.7 534.5,384.9" class="c1" clip-path="url(#clip2)"/>
<polyline points="50.5,404.1 50.9,404.0 51.3,403.9 51.7,403.6 52.0,403.3 52.4,402.9 52.8,402.4 53.2,401.9 53.6,401.3 54.0,400.5 54.4,398.9 54.8,396.9 55.1,394.4 55.5,391.7 55.9,388.9 56.3,386.2 56.7,383.8 57.1,381.7 57.5,379.5 57.9,377.3 58.2,375.2 58.6,373.5 59.0,372.2 59.4,371.6 59.8,371.2 60.2,370.8 60.6,370.5 61.0,370.3 61.3,370.2 61.7,370.4 62.1,370.7 62.5,371.3 62.9,372.0 63.3,372.7 63.7,373.5 64.1,374.2 64.4,374.7 64.8,375.1 65.2,375.3 65.6,375.4 66.0,375.5 66.4,375.6 66.8,375.7 67.1,375.8 67.5,375.8 67.9,375.9 68.3,375.9 68.7,376.0 69.1,376.1 69.5,376.3 69.9,376.4 70.2,376.6 70.6,376.9 71.0,377.3 71.4,377.6 71.8,378.1 72.2,378.6 72.6,379.1 73.0,379.6 73.3,380.1 73.7,380.6 74.1,381.1 74.5,381.6 74.9,382.1 75.3,382.6 75.7,383.0 76.1,383.4 76.4,383.7 76.8,384.1 77.2,384.5 77.6,384.9 78.0,385.3 78.4,385.6 78.8,386.0 79.2,386.4 79.5,386.8 79.9,387.1 80.3,387.5 80.7,387.9 81.1,388.3 81.5,388.7 81.9,389.1 82.3,389.6 82.6,390.0 83.0,390.5 83.4,391.0 83.8,391.4 84.2,391.9 84.6,392.3 85.0,392.8 85.3,393.3 85.7,393.7 86.1,394.1 86.5,394.5 86.9,394.9 87.3,395.3 87.7,395.7 88.1,396.0 88.4,396.4 88.8,396.7 89.2,397.1 89.6,397.4 90.0,397.7 90.4,398.0 90.8,398.3 91.2,398.6 91.5,398.8 91.9,399.1 92.3,399.3 92.7,399.5 93.1,399.7 93.5,399.8 93.9,400.0 94.3,400.2 94.6,400.4 95.0,400.6 95.4,400.7 95.8,400.9 96.2,401.2 96.6,401.4 97.0,401.6 97.4,401.9 97.7,402.1 98.1,402.3 98.5,402.6 98.9,402.8 99.3,403.1 99.7,403.3 100.1,403.5 100.4,403.7 100.8,403.9 101.2,404.0 101.6,404.2 102.0,404.3 102.4,404.5 102.8,404.6 103.2,404.7 103.5,404.9 103.9,405.0 104.3,405.1 104.7,405.2 105.1,405.3 105.5,405.3 105.9,405.4 106.3,405.3 106.6,405.3 107.0,405.2 107.4,405.1 107.8,405.0 108.2,404.9 108.6,404.7 109.0,404.6 109.4,404.4 109.7,404.2 110.1,404.0 110.5,403.8 110.9,403.7 111.3,403.5 111.7,403.3 112.1,403.2 112.5,403.0 112.8,402.8 113.2,402.6 113.6,402.5 114.0,402.3 114.4,402.1 114.8,401.9 115.2,401.7 115.5,401.5 115.9,401.4 116.3,401.2 116.7,401.1 117.1,401.0 117.5,401.0 117.9,401.0 118.3,401.1 118.6,401.2 119.0,401.5 119.4,401.7 119.8,402.0 120.2,402.2 120.6,402.5 121.0,402.7 121.4,402.9 121.7,403.2 122.1,403.5 122.5,403.7 122.9,403.9 123.3,404.1 123.7,404.1 124.1,403.8 124.5,403.3 124.8,402.5 125.2,401.5 125.6,400.3 126.0,399.0 126.4,397.7 126.8,396.2 127.2,394.8 127.6,393.3 127.9,391.3 128.3,389.0 128.7,386.5 129.1,383.9 129.5,381.3 129.9,378.9 130.3,376.7 130.7,374.9 131.0,373.5 131.4,372.1 131.8,370.8 132.2,369.5 132.6,368.5 133.0,367.6 133.4,367.1 133.7,366.9 134.1,366.9 134.5,367.1 134.9,367.4 135.3,367.8 135.7,368.3 136.1,368.8 136.5,369.4 136.8,370.0 137.2,370.7 137.6,371.3 138.0,372.0 138.4,372.7 138.8,373.3 139.2,373.9 139.6,374.5 139.9,375.0 140.3,375.4 140.7,375.7 141.1,376.1 141.5,376.4 141.9,376.7 142.3,377.0 142.7,377.2 143.0,377.5 143.4,377.7 143.8,378.0 144.2,378.2 144.6,378.5 145.0,378.7 145.4,378.9 145.8,379.2 146.1,379.4 146.5,379.6 146.9,379.9 147.3,380.1 147.7,380.4 148.1,380.6 148.5,380.9 148.8,381.2 149.2,381.5 149.6,381.8 150.0,382.1 150.4,382.4 150.8,382.8 151.2,383.1 151.6,383.4 151.9,383.8 152.3,384.1 152.7,384.5 153.1,384.8 153.5,385.2 153.9,385.5 154.3,385.9 154.7,386.3 155.0,386.6 155.4,387.0 155.8,387.3 156.2,387.7 156.6,388.0 157.0,388.4 157.4,388.7 157.8,389.1 158.1,389.4 158.5,389.8 158.9,390.1 159.3,390.5 159.7,390.9 160.1,391.2 160.5,391.6 160.9,391.9 161.2,392.3 161.6,392.6 162.0,393.0 162.4,393.4 162.8,393.7 163.2,394.1 163.6,394.5 163.9,394.8 164.3,395.2 164.7,395.6 165.1,396.1 165.5,396.5 165.9,396.9 166.3,397.3 166.7,397.7 167.0,398.2 167.4,398.6 167.8,399.0 168.2,399.3 168.6,399.7 169.0,400.1 169.4,400.4 169.8,400.7 170.1,400.9 170.5,401.2 170.9,401.4 171.3,401.7 171.7,401.9 172.1,402.2 172.5,402.4 172.9,402.6 173.2,402.9 173.6,403.1 174.0,403.3 174.4,403.5 174.8,403.7 175.2,403.9 175.6,404.0 176.0,404.2 176.3,404.3 176.7,404.4 177.1,404.5 177.5,404.6 177.9,404.6 178.3,404.6 178.7,404.5 179.1,404.4 179.4,404.2 179.8,403.9 180.2,403.6 180.6,403.2 181.0,402.9 181.4,402.5 181.8,402.2 182.1,401.9 182.5,401.6 182.9,401.3 183.3,401.1 183.7,401.0 184.1,401.0 184.5,401.0 184.9,401.1 185.2,401.3 185.6,401.4 186.0,401.6 186.4,401.8 186.8,402.0 187.2,402.2 187.6,402.5 188.0,402.7 188.3,402.8 188.7,403.0 189.1,403.1 189.5,403.2 189.9,403.2 190.3,403.1 190.7,402.9 191.1,402.6 191.4,402.2 191.8,401.7 192.2,401.3 192.6,400.7 193.0,400.2 193.4,399.7 193.8,399.3 194.2,398.9 194.5,398.5 194.9,398.3 195.3,398.1 195.7,398.1 196.1,398.1 196.5,398.3 196.9,398.4 197.2,398.7 197.6,398.9 198.0,399.2 198.4,399.4 198.8,399.6 199.2,399.8 199.6,400.0 200.0,400.3 200.3,400.5 200.7,400.8 201.1,401.0 201.5,401.3 201.9,401.5 202.3,401.7 202.7,401.9 203.1,402.0 203.4,402.2 203.8,402.4 204.2,402.6 204.6,402.7 205.0,402.9 205.4,403.1 205.8,403.2 206.2,403.4 206.5,403.5 206.9,403.7 207.3,403.8 207.7,404.0 208.1,404.1 208.5,404.3 208.9,404.4 209.3,404.5 209.6,404.6 210.0,404.8 210.4,404.9 210.8,405.0 211.2,405.1 211.6,405.3 212.0,405.4 212.3,405.5 212.7,405.7 213.1,405.8 213.5,405.9 213.9,405.9 214.3,406.0 214.7,406.1 215.1,406.1 215.4,406.1 215.8,406.1 216.2,406.0 216.6,406.0 217.0,405.9 217.4,405.8 217.8,405.6 218.2,405.5 218.5,405.3 218.9,405.1 219.3,404.9 219.7,404.6 220.1,404.3 220.5,403.7 220.9,402.8 221.3,401.6 221.6,400.3 222.0,399.0 222.4,397.7 222.8,396.5 223.2,395.5 223.6,394.8 224.0,394.5 224.4,394.5 224.7,394.5 225.1,394.5 225.5,394.6 225.9,394.7 226.3,394.7 226.7,394.8 227.1,394.9 227.5,395.0 227.8,395.1 228.2,395.2 228.6,395.3 229.0,395.4 229.4,395.6 229.8,395.7 230.2,395.9 230.5,396.1 230.9,396.3 231.3,396.5 231.7,396.7 232.1,396.9 232.5,397.2 232.9,397.4 233.3,397.7 233.6,398.0 234.0,398.3 234.4,398.6 234.8,398.8 235.2,399.1 235.6,399.4 236.0,399.7 236.4,399.9 236.7,400.2 237.1,400.4 237.5,400.6 237.9,400.7 238.3,400.8 238.7,400.9 239.1,401.0 239.5,401.0 239.8,400.8 240.2,400.3 240.6,399.6 241.0,398.8 241.4,398.0 241.8,397.0 242.2,396.1 242.6,395.3 242.9,394.6 243.3,394.0 243.7,393.4 244.1,392.7 244.5,392.1 244.9,391.6 245.3,391.1 245.6,390.9 246.0,390.8 246.4,390.9 246.8,391.0 247.2,391.2 247.6,391.5 248.0,391.7 248.4,391.9 248.7,392.1 249.1,392.2 249.5,392.3 249.9,392.1 250.3,391.7 250.7,391.0 251.1,390.2 251.5,389.2 251.8,387.9 252.2,385.6 252.6,382.5 253.0,379.0 253.4,375.3 253.8,372.0 254.2,369.0 254.6,366.2 254.9,363.3 255.3,360.5 255.7,357.8 256.1,355.1 256.5,352.5 256.9,349.8 257.3,347.2 257.7,344.9 258.0,343.0 258.4,341.5 258.8,340.0 259.2,338.6 259.6,337.4 260.0,336.5 260.4,336.0 260.7,335.9 261.1,336.1 261.5,336.5 261.9,337.0 262.3,337.5 262.7,338.0 263.1,338.5 263.5,339.1 263.8,339.6 264.2,340.3 264.6,340.9 265.0,341.6 265.4,342.3 265.8,343.1 266.2,343.8 266.6,344.7 266.9,345.6 267.3,346.5 267.7,347.4 268.1,348.4 268.5,349.4 268.9,350.3 269.3,351.3 269.7,352.3 270.0,353.3 270.4,354.2 270.8,355.1 271.2,356.0 271.6,356.8 272.0,357.6 272.4,358.4 272.8,359.1 273.1,359.9 273.5,360.6 273.9,361.3 274.3,362.0 274.7,362.7 275.1,363.4 275.5,364.1 275.9,364.8 276.2,365.4 276.6,366.1 277.0,366.7 277.4,367.4 277.8,368.0 278.2,368.7 278.6,369.3 278.9,369.9 279.3,370.5 279.7,371.2 280.1,371.8 280.5,372.4 280.9,373.0 281.3,373.6 281.7,374.2 282.0,374.8 282.4,375.4 282.8,376.0 283.2,376.6 283.6,377.2 284.0,377.8 284.4,378.4 284.8,378.9 285.1,379.5 285.5,380.1 285.9,380.6 286.3,381.2 286.7,381.7 287.1,382.3 287.5,382.8 287.9,383.4 288.2,383.9 288.6,384.4 289.0,384.9 289.4,385.5 289.8,386.0 290.2,386.6 290.6,387.1 291.0,387.6 291.3,388.2 291.7,388.7 292.1,389.2 292.5,389.7 292.9,390.2 293.3,390.7 293.7,391.2 294.0,391.7 294.4,392.1 294.8,392.6 295.2,393.0 295.6,393.4 296.0,393.8 296.4,394.2 296.8,394.6 297.1,394.9 297.5,395.3 297.9,395.6 298.3,395.9 298.7,396.3 299.1,396.6 299.5,396.9 299.9,397.2 300.2,397.5 300.6,397.8 301.0,398.0 301.4,398.3 301.8,398.6 302.2,398.8 302.6,399.1 303.0,399.4 303.3,399.6 303.7,399.8 304.1,400.1 304.5,400.3 304.9,400.6 305.3,400.8 305.7,401.0 306.1,401.3 306.4,401.6 306.8,401.8 307.2,402.1 307.6,402.3 308.0,402.6 308.4,402.8 308.8,403.1 309.1,403.3 309.5,403.5 309.9,403.7 310.3,403.9 310.7,404.1 311.1,404.2 311.5,404.4 311.9,404.5 312.2,404.5 312.6,404.6 313.0,404.6 313.4,404.6 313.8,404.5 314.2,404.4 314.6,404.2 315.0,403.9 315.3,403.6 315.7,403.3 316.1,402.9 316.5,402.1 316.9,399.7 317.3,396.2 317.7,392.0 318.1,387.4 318.4,382.9 318.8,378.9 319.2,375.7 319.6,373.2 320.0,370.7 320.4,368.3 320.8,366.1 321.2,364.1 321.5,362.2 321.9,360.6 322.3,359.2 322.7,357.8 323.1,356.5 323.5,355.4 323.9,354.5 324.3,354.1 324.6,354.1 325.0,354.3 325.4,354.6 325.8,355.0 326.2,355.6 326.6,356.2 327.0,356.9 327.3,357.6 327.7,358.3 328.1,359.1 328.5,359.8 328.9,360.5 329.3,361.2 329.7,361.8 330.1,362.5 330.4,363.2 330.8,363.9 331.2,364.7 331.6,365.4 332.0,366.2 332.4,367.0 332.8,367.7 333.2,368.5 333.5,369.2 333.9,369.9 334.3,370.6 334.7,371.3 335.1,371.9 335.5,372.5 335.9,373.0 336.3,373.6 336.6,374.1 337.0,374.6 337.4,375.0 337.8,375.5 338.2,375.9 338.6,376.4 339.0,376.8 339.4,377.2 339.7,377.6 340.1,378.0 340.5,378.4 340.9,378.8 341.3,379.2 341.7,379.6 342.1,380.0 342.4,380.4 342.8,380.8 343.2,381.2 343.6,381.6 344.0,382.0 344.4,382.4 344.8,382.8 345.2,383.2 345.5,383.7 345.9,384.1 346.3,384.5 346.7,384.9 347.1,385.3 347.5,385.6 347.9,386.0 348.3,386.4 348.6,386.8 349.0,387.2 349.4,387.6 349.8,388.0 350.2,388.4 350.6,388.7 351.0,389.1 351.4,389.5 351.7,389.8 352.1,390.2 352.5,390.6 352.9,390.9 353.3,391.3 353.7,391.6 354.1,392.0 354.5,392.3 354.8,392.7 355.2,393.0 355.6,393.4 356.0,393.7 356.4,394.1 356.8,394.4 357.2,394.7 357.5,395.1 357.9,395.4 358.3,395.7 358.7,396.0 359.1,396.4 359.5,396.7 359.9,397.0 360.3,397.3 360.6,397.6 361.0,398.0 361.4,398.3 361.8,398.6 362.2,398.9 362.6,399.3 363.0,399.6 363.4,399.9 363.7,400.2 364.1,400.5 364.5,400.9 364.9,401.2 365.3,401.5 365.7,401.8 366.1,402.0 366.5,402.3 366.8,402.6 367.2,402.8 367.6,403.1 368.0,403.3 368.4,403.5 368.8,403.7 369.2,403.9 369.6,404.1 369.9,404.3 370.3,404.5 370.7,404.7 371.1,404.9 371.5,405.0 371.9,405.2 372.3,405.3 372.7,405.5 373.0,405.5 373.4,405.6 373.8,405.6 374.2,405.5 374.6,405.1 375.0,404.5 375.4,403.8 375.7,402.9 376.1,401.9 376.5,400.7 376.9,399.5 377.3,398.3 377.7,397.0 378.1,395.7 378.5,393.9 378.8,391.7 379.2,389.3 379.6,386.8 380.0,384.4 380.4,382.2 380.8,380.6 381.2,379.4 381.6,378.3 381.9,377.2 382.3,376.2 382.7,375.2 383.1,374.3 383.5,373.6 383.9,372.9 384.3,372.5 384.7,372.1 385.0,372.0 385.4,372.1 385.8,372.4 386.2,372.9 386.6,373.6 387.0,374.4 387.4,375.2 387.8,376.0 388.1,376.7 388.5,377.3 388.9,377.7 389.3,377.8 389.7,377.8 390.1,377.8 390.5,377.8 390.8,377.8 391.2,377.8 391.6,377.8 392.0,377.7 392.4,377.6 392.8,376.8 393.2,375.3 393.6,373.4 393.9,371.4 394.3,369.5 394.7,367.6 395.1,365.4 395.5,363.1 395.9,360.6 396.3,358.1 396.7,355.7 397.0,353.2 397.4,351.0 397.8,348.7 398.2,346.3 398.6,343.9 399.0,341.5 399.4,339.3 399.8,337.4 400.1,335.7 400.5,334.5 400.9,333.5 401.3,332.6 401.7,331.7 402.1,330.9 402.5,330.2 402.9,329.7 403.2,329.4 403.6,329.3 404.0,329.5 404.4,330.1 404.8,330.9 405.2,331.9 405.6,333.1 405.9,334.4 406.3,335.7 406.7,336.9 407.1,338.2 407.5,339.7 407.9,341.3 408.3,343.0 408.7,344.7 409.0,346.3 409.4,347.8 409.8,349.2 410.2,350.5 410.6,351.8 411.0,353.1 411.4,354.3 411.8,355.5 412.1,356.6 412.5,357.8 412.9,358.8 413.3,359.9 413.7,360.9 414.1,361.8 414.5,362.7 414.9,363.6 415.2,364.4 415.6,365.3 416.0,366.1 416.4,366.9 416.8,367.6 417.2,368.4 417.6,369.1 418.0,369.8 418.3,370.5 418.7,371.1 419.1,371.8 419.5,372.4 419.9,373.1 420.3,373.7 420.7,374.3 421.1,374.9 421.4,375.4 421.8,376.0 422.2,376.6 422.6,377.1 423.0,377.6 423.4,378.2 423.8,378.7 424.1,379.2 424.5,379.7 424.9,380.2 425.3,380.8 425.7,381.3 426.1,381.8 426.5,382.3 426.9,382.8 427.2,383.3 427.6,383.9 428.0,384.4 428.4,384.9 428.8,385.4 429.2,385.9 429.6,386.4 430.0,386.9 430.3,387.4 430.7,387.9 431.1,388.3 431.5,388.8 431.9,389.3 432.3,389.7 432.7,390.2 433.1,390.6 433.4,391.1 433.8,391.5 434.2,391.9 434.6,392.3 435.0,392.7 435.4,393.1 435.8,393.5 436.2,393.9 436.5,394.2 436.9,394.6 437.3,395.0 437.7,395.3 438.1,395.7 438.5,396.0 438.9,396.4 439.2,396.7 439.6,397.0 440.0,397.4 440.4,397.7 440.8,398.0 441.2,398.3 441.6,398.6 442.0,398.9 442.3,399.2 442.7,399.5 443.1,399.8 443.5,400.0 443.9,400.3 444.3,400.6 444.7,400.9 445.1,401.1 445.4,401.4 445.8,401.7 446.2,401.9 446.6,402.2 447.0,402.4 447.4,402.6 447.8,402.9 448.2,403.1 448.5,403.3 448.9,403.6 449.3,403.8 449.7,404.0 450.1,404.2 450.5,404.4 450.9,404.6 451.3,404.7 451.6,404.9 452.0,405.1 452.4,405.2 452.8,405.4 453.2,405.6 453.6,405.7 454.0,405.9 454.3,406.0 454.7,406.2 455.1,406.3 455.5,406.5 455.9,406.6 456.3,406.8 456.7,406.9 457.1,407.0 457.4,407.1 457.8,407.3 458.2,407.4 458.6,407.5 459.0,407.6 459.4,407.8 459.8,407.9 460.2,408.0 460.5,408.1 460.9,408.2 461.3,408.3 461.7,408.4 462.1,408.4 462.5,408.5 462.9,408.6 463.3,408.7 463.6,408.8 464.0,408.9 464.4,409.0 464.8,409.1 465.2,409.2 465.6,409.3 466.0,409.5 466.4,409.6 466.7,409.8 467.1,409.9 467.5,410.1 467.9,410.2 468.3,410.4 468.7,410.5 469.1,410.6 469.5,410.7 469.8,410.8 470.2,410.9 470.6,411.0 471.0,411.0 471.4,411.0 471.8,411.0 472.2,410.9 472.5,410.8 472.9,410.6 473.3,410.3 473.7,410.1 474.1,409.7 474.5,409.4 474.9,409.1 475.3,408.7 475.6,408.4 476.0,408.0 476.4,407.7 476.8,407.4 477.2,407.1 477.6,406.9 478.0,406.7 478.4,406.4 478.7,406.2 479.1,406.0 479.5,405.7 479.9,405.5 480.3,405.2 480.7,405.0 481.1,404.7 481.5,404.5 481.8,404.3 482.2,404.1 482.6,404.0 483.0,403.8 483.4,403.7 483.8,403.6 484.2,403.6 484.6,403.5 484.9,403.5 485.3,403.5 485.7,403.5 486.1,403.5 486.5,403.5 486.9,403.5 487.3,403.5 487.6,403.5 488.0,403.5 488.4,403.5 488.8,403.5 489.2,403.5 489.6,403.5 490.0,403.5 490.4,403.5 490.7,403.5 491.1,403.5 491.5,403.5 491.9,403.5 492.3,403.6 492.7,403.6 493.1,403.7 493.5,403.8 493.8,403.9 494.2,404.0 494.6,404.2 495.0,404.3 495.4,404.4 495.8,404.6 496.2,404.7 496.6,404.9 496.9,405.0 497.3,405.1 497.7,405.3 498.1,405.4 498.5,405.6 498.9,405.7 499.3,405.9 499.7,406.1 500.0,406.3 500.4,406.5 500.8,406.7 501.2,407.0 501.6,407.2 502.0,407.4 502.4,407.6 502.7,407.8 503.1,408.0 503.5,408.2 503.9,408.4 504.3,408.5 504.7,408.6 505.1,408.7 505.5,408.8 505.8,408.8 506.2,408.9 506.6,408.8 507.0,408.4 507.4,407.9 507.8,407.3 508.2,406.5 508.6,405.5 508.9,404.5 509.3,403.4 509.7,402.2 510.1,401.0 510.5,399.7 510.9,398.4 511.3,397.1 511.7,395.5 512.0,393.5 512.4,391.3 512.8,389.1 513.2,386.8 513.6,384.7 514.0,382.9 514.4,381.3 514.8,380.0 515.1,378.7 515.5,377.4 515.9,376.1 516.3,374.9 516.7,373.8 517.1,372.8 517.5,372.0 517.9,371.5 518.2,371.1 518.6,371.1 519.0,371.2 519.4,371.4 519.8,371.7 520.2,372.1 520.6,372.6 520.9,373.2 521.3,373.8 521.7,374.4 522.1,375.1 522.5,375.7 522.9,376.3 523.3,376.9 523.7,377.4 524.0,377.8 524.4,378.2 524.8,378.5 525.2,378.8 525.6,379.2 526.0,379.5 526.4,379.8 526.8,380.1 527.1,380.4 527.5,380.6 527.9,380.9 528.3,381.2 528.7,381.4 529.1,381.7 529.5,381.9 529.9,382.1 530.2,382.4 530.6,382.6 531.0,382.8 531.4,383.0 531.8,383.2 532.2,383.4 532.6,383.6 533.0,383.8 533.3,384.0 533.7,384.1 534.1,384.3 534.5,384.4" class="c2" clip-path="url(#clip2)"/>
<text x="50.50" y="458.00" class="tl" text-anchor="middle">100</text>
<text x="98.90" y="458.00" class="tl" text-anchor="middle">105</text>
<text x="147.30" y="458.00" class="tl" text-anchor="middle">110</text>
<text x="195.70" y="458.00" class="tl" text-anchor="middle">115</text>
<text x="244.10" y="458.00" class="tl" text-anchor="middle">120</text>
<text x="292.50" y="458.00" class="tl" text-anchor="middle">125</text>
<text x="340.90" y="458.00" class="tl" text-anchor="middle">130</text>
<text x="389.30" y="458.00" class="tl" text-anchor="middle">135</text>
<text x="437.70" y="458.00" class="tl" text-anchor="middle">140</text>
<text x="486.10" y="458.00" class="tl" text-anchor="middle">145</text>
<text x="534.50" y="458.00" class="tl" text-anchor="middle">150</text>
<text x="46.20" y="447.00" class="tl" text-anchor="end">0</text>
<text x="46.20" y="405.17" class="tl" text-anchor="end">50</text>
<text x="46.20" y="363.33" class="tl" text-anchor="end">100</text>
<text x="46.20" y="321.50" class="tl" text-anchor="end">150</text>
<text transform="translate(20.1,380.25) rotate(-90)" class="yl" text-anchor="middle">angle velocity [rad/s]</text>
<rect x="57.5" y="325.0" width="215.10" height="14.50" class="leg"/>
<line x1="60.099999999999994" y1="332.85" x2="84.1" y2="332.85" class="c0"/>
<text x="86.69999999999999" y="336.85" class="lt">ideal</text>
<line x1="118.3" y1="332.85" x2="143.8" y2="332.85" class="c1"/>
<text x="145.7" y="336.85" class="lt">delay-1s</text>
<line x1="197.7" y1="332.85" x2="221.7" y2="332.85" class="c2"/>
<text x="224.5" y="336.85" class="lt">delay-2s</text>
<text x="292.5" y="473.5" class="yl" text-anchor="middle">Time [s]</text>
</svg>
</body></html>
